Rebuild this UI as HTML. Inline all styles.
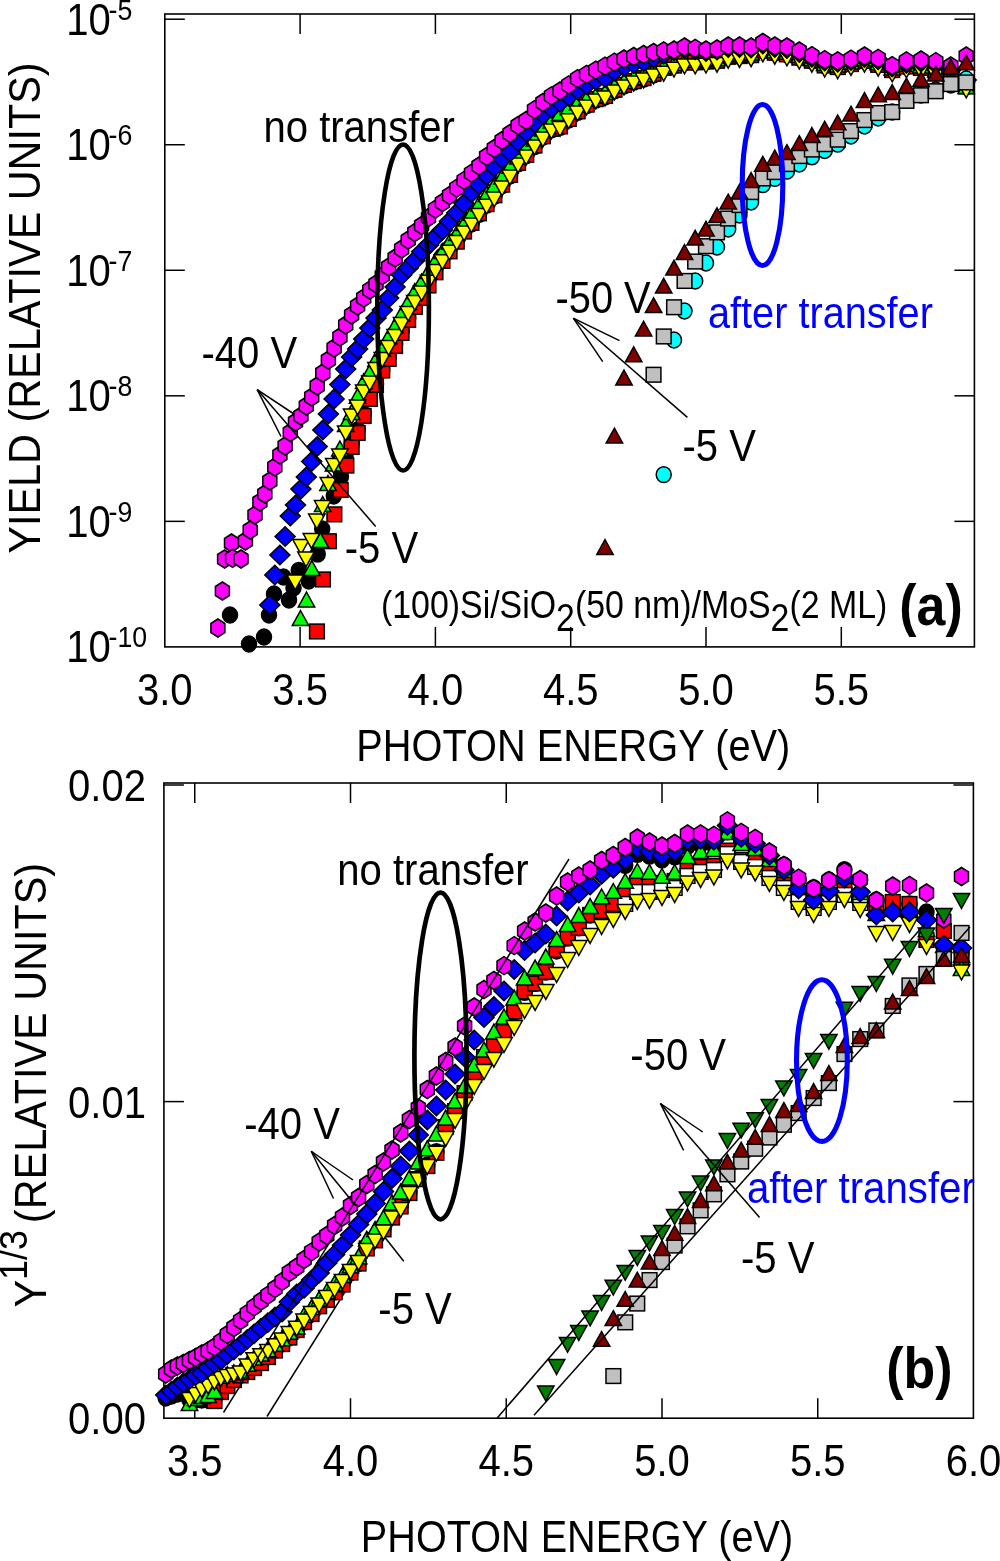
<!DOCTYPE html><html><head><meta charset="utf-8"><style>html,body{margin:0;padding:0;background:#fff;}svg{display:block;will-change:transform;}</style></head><body>
<svg width="1000" height="1561" viewBox="0 0 1000 1561" font-family="'Liberation Sans', sans-serif">
<rect width="1000" height="1561" fill="#fff"/>
<rect x="164.8" y="14.0" width="809.5999999999999" height="632.9" fill="none" stroke="#000" stroke-width="1.6"/>
<line x1="164.80" y1="521.36" x2="184.80" y2="521.36" stroke="#000" stroke-width="1.5"/>
<line x1="954.40" y1="521.36" x2="974.40" y2="521.36" stroke="#000" stroke-width="1.5"/>
<line x1="164.80" y1="395.82" x2="184.80" y2="395.82" stroke="#000" stroke-width="1.5"/>
<line x1="954.40" y1="395.82" x2="974.40" y2="395.82" stroke="#000" stroke-width="1.5"/>
<line x1="164.80" y1="270.28" x2="184.80" y2="270.28" stroke="#000" stroke-width="1.5"/>
<line x1="954.40" y1="270.28" x2="974.40" y2="270.28" stroke="#000" stroke-width="1.5"/>
<line x1="164.80" y1="144.74" x2="184.80" y2="144.74" stroke="#000" stroke-width="1.5"/>
<line x1="954.40" y1="144.74" x2="974.40" y2="144.74" stroke="#000" stroke-width="1.5"/>
<line x1="164.80" y1="19.20" x2="184.80" y2="19.20" stroke="#000" stroke-width="1.5"/>
<line x1="954.40" y1="19.20" x2="974.40" y2="19.20" stroke="#000" stroke-width="1.5"/>
<line x1="300.10" y1="646.90" x2="300.10" y2="626.90" stroke="#000" stroke-width="1.5"/>
<line x1="300.10" y1="14.00" x2="300.10" y2="34.00" stroke="#000" stroke-width="1.5"/>
<line x1="435.40" y1="646.90" x2="435.40" y2="626.90" stroke="#000" stroke-width="1.5"/>
<line x1="435.40" y1="14.00" x2="435.40" y2="34.00" stroke="#000" stroke-width="1.5"/>
<line x1="570.70" y1="646.90" x2="570.70" y2="626.90" stroke="#000" stroke-width="1.5"/>
<line x1="570.70" y1="14.00" x2="570.70" y2="34.00" stroke="#000" stroke-width="1.5"/>
<line x1="706.00" y1="646.90" x2="706.00" y2="626.90" stroke="#000" stroke-width="1.5"/>
<line x1="706.00" y1="14.00" x2="706.00" y2="34.00" stroke="#000" stroke-width="1.5"/>
<line x1="841.30" y1="646.90" x2="841.30" y2="626.90" stroke="#000" stroke-width="1.5"/>
<line x1="841.30" y1="14.00" x2="841.30" y2="34.00" stroke="#000" stroke-width="1.5"/>
<rect x="163.9" y="783.0" width="809.5" height="635.2" fill="none" stroke="#000" stroke-width="1.6"/>
<line x1="163.90" y1="1101.60" x2="183.90" y2="1101.60" stroke="#000" stroke-width="1.5"/>
<line x1="953.40" y1="1101.60" x2="973.40" y2="1101.60" stroke="#000" stroke-width="1.5"/>
<line x1="163.90" y1="785.00" x2="183.90" y2="785.00" stroke="#000" stroke-width="1.5"/>
<line x1="953.40" y1="785.00" x2="973.40" y2="785.00" stroke="#000" stroke-width="1.5"/>
<line x1="194.75" y1="1418.20" x2="194.75" y2="1398.20" stroke="#000" stroke-width="1.5"/>
<line x1="194.75" y1="783.00" x2="194.75" y2="803.00" stroke="#000" stroke-width="1.5"/>
<line x1="350.50" y1="1418.20" x2="350.50" y2="1398.20" stroke="#000" stroke-width="1.5"/>
<line x1="350.50" y1="783.00" x2="350.50" y2="803.00" stroke="#000" stroke-width="1.5"/>
<line x1="506.25" y1="1418.20" x2="506.25" y2="1398.20" stroke="#000" stroke-width="1.5"/>
<line x1="506.25" y1="783.00" x2="506.25" y2="803.00" stroke="#000" stroke-width="1.5"/>
<line x1="662.00" y1="1418.20" x2="662.00" y2="1398.20" stroke="#000" stroke-width="1.5"/>
<line x1="662.00" y1="783.00" x2="662.00" y2="803.00" stroke="#000" stroke-width="1.5"/>
<line x1="817.75" y1="1418.20" x2="817.75" y2="1398.20" stroke="#000" stroke-width="1.5"/>
<line x1="817.75" y1="783.00" x2="817.75" y2="803.00" stroke="#000" stroke-width="1.5"/>
<g id="dataA">
<ellipse cx="230.0" cy="615.0" rx="7.5" ry="7.9" fill="#000000" stroke="#000" stroke-width="1.5"/>
<ellipse cx="249.0" cy="644.0" rx="7.5" ry="7.9" fill="#000000" stroke="#000" stroke-width="1.5"/>
<ellipse cx="264.0" cy="637.0" rx="7.5" ry="7.9" fill="#000000" stroke="#000" stroke-width="1.5"/>
<ellipse cx="269.0" cy="615.0" rx="7.5" ry="7.9" fill="#000000" stroke="#000" stroke-width="1.5"/>
<ellipse cx="274.0" cy="594.0" rx="7.5" ry="7.9" fill="#000000" stroke="#000" stroke-width="1.5"/>
<ellipse cx="283.5" cy="577.0" rx="7.5" ry="7.9" fill="#000000" stroke="#000" stroke-width="1.5"/>
<ellipse cx="289.0" cy="600.0" rx="7.5" ry="7.9" fill="#000000" stroke="#000" stroke-width="1.5"/>
<ellipse cx="293.5" cy="588.0" rx="7.5" ry="7.9" fill="#000000" stroke="#000" stroke-width="1.5"/>
<ellipse cx="298.8" cy="570.3" rx="7.5" ry="7.9" fill="#000000" stroke="#000" stroke-width="1.5"/>
<ellipse cx="308.7" cy="581.0" rx="7.5" ry="7.9" fill="#000000" stroke="#000" stroke-width="1.5"/>
<ellipse cx="317.7" cy="554.2" rx="7.5" ry="7.9" fill="#000000" stroke="#000" stroke-width="1.5"/>
<ellipse cx="322.2" cy="529.0" rx="7.5" ry="7.9" fill="#000000" stroke="#000" stroke-width="1.5"/>
<ellipse cx="333.8" cy="496.0" rx="7.5" ry="7.9" fill="#000000" stroke="#000" stroke-width="1.5"/>
<ellipse cx="341.0" cy="476.6" rx="7.5" ry="7.9" fill="#000000" stroke="#000" stroke-width="1.5"/>
<ellipse cx="345.7" cy="458.0" rx="7.5" ry="7.9" fill="#000000" stroke="#000" stroke-width="1.5"/>
<ellipse cx="351.6" cy="444.0" rx="7.5" ry="7.9" fill="#000000" stroke="#000" stroke-width="1.5"/>
<ellipse cx="357.6" cy="430.0" rx="7.5" ry="7.9" fill="#000000" stroke="#000" stroke-width="1.5"/>
<ellipse cx="363.7" cy="414.0" rx="7.5" ry="7.9" fill="#000000" stroke="#000" stroke-width="1.5"/>
<ellipse cx="369.8" cy="398.0" rx="7.5" ry="7.9" fill="#000000" stroke="#000" stroke-width="1.5"/>
<ellipse cx="376.0" cy="384.0" rx="7.5" ry="7.9" fill="#000000" stroke="#000" stroke-width="1.5"/>
<ellipse cx="382.3" cy="370.0" rx="7.5" ry="7.9" fill="#000000" stroke="#000" stroke-width="1.5"/>
<ellipse cx="388.6" cy="357.0" rx="7.5" ry="7.9" fill="#000000" stroke="#000" stroke-width="1.5"/>
<ellipse cx="395.1" cy="344.0" rx="7.5" ry="7.9" fill="#000000" stroke="#000" stroke-width="1.5"/>
<ellipse cx="401.6" cy="331.0" rx="7.5" ry="7.9" fill="#000000" stroke="#000" stroke-width="1.5"/>
<ellipse cx="408.2" cy="318.0" rx="7.5" ry="7.9" fill="#000000" stroke="#000" stroke-width="1.5"/>
<ellipse cx="414.8" cy="305.0" rx="7.5" ry="7.9" fill="#000000" stroke="#000" stroke-width="1.5"/>
<ellipse cx="421.6" cy="293.0" rx="7.5" ry="7.9" fill="#000000" stroke="#000" stroke-width="1.5"/>
<ellipse cx="428.5" cy="280.0" rx="7.5" ry="7.9" fill="#000000" stroke="#000" stroke-width="1.5"/>
<ellipse cx="435.4" cy="268.0" rx="7.5" ry="7.9" fill="#000000" stroke="#000" stroke-width="1.5"/>
<ellipse cx="442.4" cy="256.0" rx="7.5" ry="7.9" fill="#000000" stroke="#000" stroke-width="1.5"/>
<ellipse cx="449.5" cy="248.0" rx="7.5" ry="7.9" fill="#000000" stroke="#000" stroke-width="1.5"/>
<ellipse cx="456.8" cy="240.0" rx="7.5" ry="7.9" fill="#000000" stroke="#000" stroke-width="1.5"/>
<ellipse cx="464.1" cy="230.0" rx="7.5" ry="7.9" fill="#000000" stroke="#000" stroke-width="1.5"/>
<ellipse cx="471.5" cy="223.9" rx="7.5" ry="7.9" fill="#000000" stroke="#000" stroke-width="1.5"/>
<ellipse cx="479.0" cy="214.3" rx="7.5" ry="7.9" fill="#000000" stroke="#000" stroke-width="1.5"/>
<ellipse cx="486.6" cy="205.1" rx="7.5" ry="7.9" fill="#000000" stroke="#000" stroke-width="1.5"/>
<ellipse cx="494.3" cy="196.2" rx="7.5" ry="7.9" fill="#000000" stroke="#000" stroke-width="1.5"/>
<ellipse cx="502.1" cy="185.6" rx="7.5" ry="7.9" fill="#000000" stroke="#000" stroke-width="1.5"/>
<ellipse cx="510.0" cy="175.9" rx="7.5" ry="7.9" fill="#000000" stroke="#000" stroke-width="1.5"/>
<ellipse cx="518.1" cy="163.9" rx="7.5" ry="7.9" fill="#000000" stroke="#000" stroke-width="1.5"/>
<ellipse cx="526.2" cy="155.7" rx="7.5" ry="7.9" fill="#000000" stroke="#000" stroke-width="1.5"/>
<ellipse cx="534.5" cy="146.6" rx="7.5" ry="7.9" fill="#000000" stroke="#000" stroke-width="1.5"/>
<ellipse cx="542.9" cy="137.2" rx="7.5" ry="7.9" fill="#000000" stroke="#000" stroke-width="1.5"/>
<ellipse cx="551.4" cy="129.9" rx="7.5" ry="7.9" fill="#000000" stroke="#000" stroke-width="1.5"/>
<ellipse cx="560.0" cy="127.4" rx="7.5" ry="7.9" fill="#000000" stroke="#000" stroke-width="1.5"/>
<ellipse cx="568.7" cy="120.0" rx="7.5" ry="7.9" fill="#000000" stroke="#000" stroke-width="1.5"/>
<ellipse cx="577.6" cy="112.3" rx="7.5" ry="7.9" fill="#000000" stroke="#000" stroke-width="1.5"/>
<ellipse cx="586.6" cy="105.6" rx="7.5" ry="7.9" fill="#000000" stroke="#000" stroke-width="1.5"/>
<ellipse cx="595.8" cy="100.1" rx="7.5" ry="7.9" fill="#000000" stroke="#000" stroke-width="1.5"/>
<ellipse cx="605.0" cy="97.0" rx="7.5" ry="7.9" fill="#000000" stroke="#000" stroke-width="1.5"/>
<ellipse cx="614.4" cy="90.8" rx="7.5" ry="7.9" fill="#000000" stroke="#000" stroke-width="1.5"/>
<ellipse cx="624.0" cy="86.0" rx="7.5" ry="7.9" fill="#000000" stroke="#000" stroke-width="1.5"/>
<ellipse cx="633.7" cy="82.1" rx="7.5" ry="7.9" fill="#000000" stroke="#000" stroke-width="1.5"/>
<ellipse cx="643.6" cy="79.1" rx="7.5" ry="7.9" fill="#000000" stroke="#000" stroke-width="1.5"/>
<ellipse cx="653.6" cy="74.8" rx="7.5" ry="7.9" fill="#000000" stroke="#000" stroke-width="1.5"/>
<ellipse cx="663.7" cy="67.8" rx="7.5" ry="7.9" fill="#000000" stroke="#000" stroke-width="1.5"/>
<ellipse cx="674.0" cy="65.6" rx="7.5" ry="7.9" fill="#000000" stroke="#000" stroke-width="1.5"/>
<ellipse cx="684.5" cy="62.4" rx="7.5" ry="7.9" fill="#000000" stroke="#000" stroke-width="1.5"/>
<ellipse cx="695.2" cy="62.4" rx="7.5" ry="7.9" fill="#000000" stroke="#000" stroke-width="1.5"/>
<ellipse cx="706.0" cy="61.6" rx="7.5" ry="7.9" fill="#000000" stroke="#000" stroke-width="1.5"/>
<ellipse cx="717.0" cy="60.8" rx="7.5" ry="7.9" fill="#000000" stroke="#000" stroke-width="1.5"/>
<ellipse cx="728.2" cy="56.8" rx="7.5" ry="7.9" fill="#000000" stroke="#000" stroke-width="1.5"/>
<ellipse cx="739.5" cy="56.0" rx="7.5" ry="7.9" fill="#000000" stroke="#000" stroke-width="1.5"/>
<ellipse cx="751.1" cy="55.2" rx="7.5" ry="7.9" fill="#000000" stroke="#000" stroke-width="1.5"/>
<ellipse cx="762.8" cy="50.5" rx="7.5" ry="7.9" fill="#000000" stroke="#000" stroke-width="1.5"/>
<ellipse cx="774.8" cy="52.8" rx="7.5" ry="7.9" fill="#000000" stroke="#000" stroke-width="1.5"/>
<ellipse cx="786.9" cy="54.4" rx="7.5" ry="7.9" fill="#000000" stroke="#000" stroke-width="1.5"/>
<ellipse cx="799.3" cy="57.7" rx="7.5" ry="7.9" fill="#000000" stroke="#000" stroke-width="1.5"/>
<ellipse cx="811.9" cy="60.8" rx="7.5" ry="7.9" fill="#000000" stroke="#000" stroke-width="1.5"/>
<ellipse cx="824.7" cy="65.5" rx="7.5" ry="7.9" fill="#000000" stroke="#000" stroke-width="1.5"/>
<ellipse cx="837.7" cy="67.0" rx="7.5" ry="7.9" fill="#000000" stroke="#000" stroke-width="1.5"/>
<ellipse cx="851.0" cy="64.0" rx="7.5" ry="7.9" fill="#000000" stroke="#000" stroke-width="1.5"/>
<ellipse cx="864.5" cy="60.9" rx="7.5" ry="7.9" fill="#000000" stroke="#000" stroke-width="1.5"/>
<ellipse cx="878.2" cy="64.9" rx="7.5" ry="7.9" fill="#000000" stroke="#000" stroke-width="1.5"/>
<ellipse cx="892.2" cy="70.1" rx="7.5" ry="7.9" fill="#000000" stroke="#000" stroke-width="1.5"/>
<ellipse cx="906.4" cy="66.4" rx="7.5" ry="7.9" fill="#000000" stroke="#000" stroke-width="1.5"/>
<ellipse cx="921.0" cy="68.0" rx="7.5" ry="7.9" fill="#000000" stroke="#000" stroke-width="1.5"/>
<ellipse cx="935.8" cy="72.2" rx="7.5" ry="7.9" fill="#000000" stroke="#000" stroke-width="1.5"/>
<ellipse cx="950.8" cy="76.5" rx="7.5" ry="7.9" fill="#000000" stroke="#000" stroke-width="1.5"/>
<ellipse cx="966.2" cy="86.4" rx="7.5" ry="7.9" fill="#000000" stroke="#000" stroke-width="1.5"/>
<rect x="309.6" y="624.1" width="14.7" height="14.7" fill="#ff0000" stroke="#000" stroke-width="1.5"/>
<rect x="315.6" y="572.1" width="14.7" height="14.7" fill="#ff0000" stroke="#000" stroke-width="1.5"/>
<rect x="321.5" y="533.9" width="14.7" height="14.7" fill="#ff0000" stroke="#000" stroke-width="1.5"/>
<rect x="327.0" y="507.0" width="14.7" height="14.7" fill="#ff0000" stroke="#000" stroke-width="1.5"/>
<rect x="333.3" y="482.6" width="14.7" height="14.7" fill="#ff0000" stroke="#000" stroke-width="1.5"/>
<rect x="339.0" y="458.2" width="14.7" height="14.7" fill="#ff0000" stroke="#000" stroke-width="1.5"/>
<rect x="344.3" y="439.6" width="14.7" height="14.7" fill="#ff0000" stroke="#000" stroke-width="1.5"/>
<rect x="350.3" y="425.6" width="14.7" height="14.7" fill="#ff0000" stroke="#000" stroke-width="1.5"/>
<rect x="356.3" y="408.6" width="14.7" height="14.7" fill="#ff0000" stroke="#000" stroke-width="1.5"/>
<rect x="362.5" y="391.6" width="14.7" height="14.7" fill="#ff0000" stroke="#000" stroke-width="1.5"/>
<rect x="368.6" y="377.6" width="14.7" height="14.7" fill="#ff0000" stroke="#000" stroke-width="1.5"/>
<rect x="374.9" y="363.1" width="14.7" height="14.7" fill="#ff0000" stroke="#000" stroke-width="1.5"/>
<rect x="381.3" y="351.6" width="14.7" height="14.7" fill="#ff0000" stroke="#000" stroke-width="1.5"/>
<rect x="387.7" y="338.6" width="14.7" height="14.7" fill="#ff0000" stroke="#000" stroke-width="1.5"/>
<rect x="394.2" y="325.6" width="14.7" height="14.7" fill="#ff0000" stroke="#000" stroke-width="1.5"/>
<rect x="400.8" y="312.6" width="14.7" height="14.7" fill="#ff0000" stroke="#000" stroke-width="1.5"/>
<rect x="407.5" y="299.6" width="14.7" height="14.7" fill="#ff0000" stroke="#000" stroke-width="1.5"/>
<rect x="414.3" y="290.6" width="14.7" height="14.7" fill="#ff0000" stroke="#000" stroke-width="1.5"/>
<rect x="421.1" y="278.1" width="14.7" height="14.7" fill="#ff0000" stroke="#000" stroke-width="1.5"/>
<rect x="428.1" y="264.9" width="14.7" height="14.7" fill="#ff0000" stroke="#000" stroke-width="1.5"/>
<rect x="435.1" y="253.5" width="14.7" height="14.7" fill="#ff0000" stroke="#000" stroke-width="1.5"/>
<rect x="442.2" y="244.0" width="14.7" height="14.7" fill="#ff0000" stroke="#000" stroke-width="1.5"/>
<rect x="449.4" y="234.3" width="14.7" height="14.7" fill="#ff0000" stroke="#000" stroke-width="1.5"/>
<rect x="456.7" y="224.2" width="14.7" height="14.7" fill="#ff0000" stroke="#000" stroke-width="1.5"/>
<rect x="464.1" y="215.5" width="14.7" height="14.7" fill="#ff0000" stroke="#000" stroke-width="1.5"/>
<rect x="471.6" y="206.0" width="14.7" height="14.7" fill="#ff0000" stroke="#000" stroke-width="1.5"/>
<rect x="479.2" y="196.8" width="14.7" height="14.7" fill="#ff0000" stroke="#000" stroke-width="1.5"/>
<rect x="487.0" y="187.9" width="14.7" height="14.7" fill="#ff0000" stroke="#000" stroke-width="1.5"/>
<rect x="494.8" y="177.3" width="14.7" height="14.7" fill="#ff0000" stroke="#000" stroke-width="1.5"/>
<rect x="502.7" y="167.6" width="14.7" height="14.7" fill="#ff0000" stroke="#000" stroke-width="1.5"/>
<rect x="510.7" y="155.6" width="14.7" height="14.7" fill="#ff0000" stroke="#000" stroke-width="1.5"/>
<rect x="518.9" y="147.4" width="14.7" height="14.7" fill="#ff0000" stroke="#000" stroke-width="1.5"/>
<rect x="527.1" y="138.2" width="14.7" height="14.7" fill="#ff0000" stroke="#000" stroke-width="1.5"/>
<rect x="535.5" y="128.9" width="14.7" height="14.7" fill="#ff0000" stroke="#000" stroke-width="1.5"/>
<rect x="544.0" y="121.5" width="14.7" height="14.7" fill="#ff0000" stroke="#000" stroke-width="1.5"/>
<rect x="552.6" y="119.1" width="14.7" height="14.7" fill="#ff0000" stroke="#000" stroke-width="1.5"/>
<rect x="561.4" y="111.6" width="14.7" height="14.7" fill="#ff0000" stroke="#000" stroke-width="1.5"/>
<rect x="570.3" y="104.0" width="14.7" height="14.7" fill="#ff0000" stroke="#000" stroke-width="1.5"/>
<rect x="579.3" y="97.3" width="14.7" height="14.7" fill="#ff0000" stroke="#000" stroke-width="1.5"/>
<rect x="588.4" y="91.8" width="14.7" height="14.7" fill="#ff0000" stroke="#000" stroke-width="1.5"/>
<rect x="597.7" y="88.6" width="14.7" height="14.7" fill="#ff0000" stroke="#000" stroke-width="1.5"/>
<rect x="607.1" y="82.4" width="14.7" height="14.7" fill="#ff0000" stroke="#000" stroke-width="1.5"/>
<rect x="616.7" y="77.6" width="14.7" height="14.7" fill="#ff0000" stroke="#000" stroke-width="1.5"/>
<rect x="626.4" y="73.8" width="14.7" height="14.7" fill="#ff0000" stroke="#000" stroke-width="1.5"/>
<rect x="636.2" y="70.8" width="14.7" height="14.7" fill="#ff0000" stroke="#000" stroke-width="1.5"/>
<rect x="646.2" y="66.5" width="14.7" height="14.7" fill="#ff0000" stroke="#000" stroke-width="1.5"/>
<rect x="656.4" y="60.5" width="14.7" height="14.7" fill="#ff0000" stroke="#000" stroke-width="1.5"/>
<rect x="666.7" y="58.2" width="14.7" height="14.7" fill="#ff0000" stroke="#000" stroke-width="1.5"/>
<rect x="677.2" y="55.1" width="14.7" height="14.7" fill="#ff0000" stroke="#000" stroke-width="1.5"/>
<rect x="687.8" y="55.0" width="14.7" height="14.7" fill="#ff0000" stroke="#000" stroke-width="1.5"/>
<rect x="698.6" y="54.2" width="14.7" height="14.7" fill="#ff0000" stroke="#000" stroke-width="1.5"/>
<rect x="709.7" y="53.4" width="14.7" height="14.7" fill="#ff0000" stroke="#000" stroke-width="1.5"/>
<rect x="720.8" y="49.4" width="14.7" height="14.7" fill="#ff0000" stroke="#000" stroke-width="1.5"/>
<rect x="732.2" y="48.7" width="14.7" height="14.7" fill="#ff0000" stroke="#000" stroke-width="1.5"/>
<rect x="743.8" y="47.8" width="14.7" height="14.7" fill="#ff0000" stroke="#000" stroke-width="1.5"/>
<rect x="755.5" y="43.1" width="14.7" height="14.7" fill="#ff0000" stroke="#000" stroke-width="1.5"/>
<rect x="767.4" y="45.4" width="14.7" height="14.7" fill="#ff0000" stroke="#000" stroke-width="1.5"/>
<rect x="779.6" y="47.0" width="14.7" height="14.7" fill="#ff0000" stroke="#000" stroke-width="1.5"/>
<rect x="792.0" y="50.3" width="14.7" height="14.7" fill="#ff0000" stroke="#000" stroke-width="1.5"/>
<rect x="804.5" y="53.4" width="14.7" height="14.7" fill="#ff0000" stroke="#000" stroke-width="1.5"/>
<rect x="817.3" y="58.1" width="14.7" height="14.7" fill="#ff0000" stroke="#000" stroke-width="1.5"/>
<rect x="830.4" y="59.7" width="14.7" height="14.7" fill="#ff0000" stroke="#000" stroke-width="1.5"/>
<rect x="843.6" y="56.7" width="14.7" height="14.7" fill="#ff0000" stroke="#000" stroke-width="1.5"/>
<rect x="857.1" y="53.6" width="14.7" height="14.7" fill="#ff0000" stroke="#000" stroke-width="1.5"/>
<rect x="870.9" y="57.5" width="14.7" height="14.7" fill="#ff0000" stroke="#000" stroke-width="1.5"/>
<rect x="884.8" y="62.7" width="14.7" height="14.7" fill="#ff0000" stroke="#000" stroke-width="1.5"/>
<rect x="899.1" y="59.1" width="14.7" height="14.7" fill="#ff0000" stroke="#000" stroke-width="1.5"/>
<rect x="913.6" y="60.6" width="14.7" height="14.7" fill="#ff0000" stroke="#000" stroke-width="1.5"/>
<rect x="928.4" y="64.9" width="14.7" height="14.7" fill="#ff0000" stroke="#000" stroke-width="1.5"/>
<rect x="943.5" y="69.2" width="14.7" height="14.7" fill="#ff0000" stroke="#000" stroke-width="1.5"/>
<rect x="958.8" y="79.1" width="14.7" height="14.7" fill="#ff0000" stroke="#000" stroke-width="1.5"/>
<polygon points="300.5,610.6 308.7,625.4 292.3,625.4" fill="#00ff00" stroke="#000" stroke-width="1.5" stroke-linejoin="miter"/>
<polygon points="306.5,592.1 314.7,606.9 298.3,606.9" fill="#00ff00" stroke="#000" stroke-width="1.5" stroke-linejoin="miter"/>
<polygon points="311.8,560.6 320.0,575.4 303.6,575.4" fill="#00ff00" stroke="#000" stroke-width="1.5" stroke-linejoin="miter"/>
<polygon points="320.4,532.6 328.6,547.4 312.2,547.4" fill="#00ff00" stroke="#000" stroke-width="1.5" stroke-linejoin="miter"/>
<polygon points="322.7,496.6 330.9,511.4 314.5,511.4" fill="#00ff00" stroke="#000" stroke-width="1.5" stroke-linejoin="miter"/>
<polygon points="328.0,475.6 336.2,490.4 319.8,490.4" fill="#00ff00" stroke="#000" stroke-width="1.5" stroke-linejoin="miter"/>
<polygon points="333.5,456.1 341.7,470.9 325.3,470.9" fill="#00ff00" stroke="#000" stroke-width="1.5" stroke-linejoin="miter"/>
<polygon points="339.9,441.1 348.1,455.9 331.7,455.9" fill="#00ff00" stroke="#000" stroke-width="1.5" stroke-linejoin="miter"/>
<polygon points="345.7,416.6 353.9,431.4 337.5,431.4" fill="#00ff00" stroke="#000" stroke-width="1.5" stroke-linejoin="miter"/>
<polygon points="351.6,404.6 359.8,419.4 343.4,419.4" fill="#00ff00" stroke="#000" stroke-width="1.5" stroke-linejoin="miter"/>
<polygon points="357.6,388.5 365.8,403.3 349.4,403.3" fill="#00ff00" stroke="#000" stroke-width="1.5" stroke-linejoin="miter"/>
<polygon points="363.7,373.7 371.9,388.5 355.5,388.5" fill="#00ff00" stroke="#000" stroke-width="1.5" stroke-linejoin="miter"/>
<polygon points="369.8,364.5 378.0,379.3 361.6,379.3" fill="#00ff00" stroke="#000" stroke-width="1.5" stroke-linejoin="miter"/>
<polygon points="376.0,351.6 384.2,366.4 367.8,366.4" fill="#00ff00" stroke="#000" stroke-width="1.5" stroke-linejoin="miter"/>
<polygon points="382.3,341.1 390.5,355.9 374.1,355.9" fill="#00ff00" stroke="#000" stroke-width="1.5" stroke-linejoin="miter"/>
<polygon points="388.6,329.0 396.8,343.8 380.4,343.8" fill="#00ff00" stroke="#000" stroke-width="1.5" stroke-linejoin="miter"/>
<polygon points="395.1,318.1 403.3,332.9 386.9,332.9" fill="#00ff00" stroke="#000" stroke-width="1.5" stroke-linejoin="miter"/>
<polygon points="401.6,306.2 409.8,321.0 393.4,321.0" fill="#00ff00" stroke="#000" stroke-width="1.5" stroke-linejoin="miter"/>
<polygon points="408.2,294.6 416.4,309.4 400.0,309.4" fill="#00ff00" stroke="#000" stroke-width="1.5" stroke-linejoin="miter"/>
<polygon points="414.8,283.6 423.0,298.4 406.6,298.4" fill="#00ff00" stroke="#000" stroke-width="1.5" stroke-linejoin="miter"/>
<polygon points="421.6,274.1 429.8,288.9 413.4,288.9" fill="#00ff00" stroke="#000" stroke-width="1.5" stroke-linejoin="miter"/>
<polygon points="428.5,263.6 436.7,278.4 420.3,278.4" fill="#00ff00" stroke="#000" stroke-width="1.5" stroke-linejoin="miter"/>
<polygon points="435.4,253.1 443.6,267.9 427.2,267.9" fill="#00ff00" stroke="#000" stroke-width="1.5" stroke-linejoin="miter"/>
<polygon points="442.4,243.6 450.6,258.4 434.2,258.4" fill="#00ff00" stroke="#000" stroke-width="1.5" stroke-linejoin="miter"/>
<polygon points="449.5,234.1 457.7,248.9 441.3,248.9" fill="#00ff00" stroke="#000" stroke-width="1.5" stroke-linejoin="miter"/>
<polygon points="456.8,225.6 465.0,240.4 448.6,240.4" fill="#00ff00" stroke="#000" stroke-width="1.5" stroke-linejoin="miter"/>
<polygon points="464.1,215.6 472.3,230.4 455.9,230.4" fill="#00ff00" stroke="#000" stroke-width="1.5" stroke-linejoin="miter"/>
<polygon points="471.5,205.5 479.7,220.3 463.3,220.3" fill="#00ff00" stroke="#000" stroke-width="1.5" stroke-linejoin="miter"/>
<polygon points="479.0,196.1 487.2,210.9 470.8,210.9" fill="#00ff00" stroke="#000" stroke-width="1.5" stroke-linejoin="miter"/>
<polygon points="486.6,186.6 494.8,201.4 478.4,201.4" fill="#00ff00" stroke="#000" stroke-width="1.5" stroke-linejoin="miter"/>
<polygon points="494.3,177.8 502.5,192.6 486.1,192.6" fill="#00ff00" stroke="#000" stroke-width="1.5" stroke-linejoin="miter"/>
<polygon points="502.1,169.2 510.3,184.0 493.9,184.0" fill="#00ff00" stroke="#000" stroke-width="1.5" stroke-linejoin="miter"/>
<polygon points="510.0,158.5 518.2,173.3 501.8,173.3" fill="#00ff00" stroke="#000" stroke-width="1.5" stroke-linejoin="miter"/>
<polygon points="518.1,149.1 526.3,163.9 509.9,163.9" fill="#00ff00" stroke="#000" stroke-width="1.5" stroke-linejoin="miter"/>
<polygon points="526.2,139.3 534.4,154.1 518.0,154.1" fill="#00ff00" stroke="#000" stroke-width="1.5" stroke-linejoin="miter"/>
<polygon points="534.5,131.1 542.7,145.9 526.3,145.9" fill="#00ff00" stroke="#000" stroke-width="1.5" stroke-linejoin="miter"/>
<polygon points="542.9,121.1 551.1,135.9 534.7,135.9" fill="#00ff00" stroke="#000" stroke-width="1.5" stroke-linejoin="miter"/>
<polygon points="551.4,113.1 559.6,127.9 543.2,127.9" fill="#00ff00" stroke="#000" stroke-width="1.5" stroke-linejoin="miter"/>
<polygon points="560.0,105.7 568.2,120.5 551.8,120.5" fill="#00ff00" stroke="#000" stroke-width="1.5" stroke-linejoin="miter"/>
<polygon points="568.7,99.8 576.9,114.7 560.5,114.7" fill="#00ff00" stroke="#000" stroke-width="1.5" stroke-linejoin="miter"/>
<polygon points="577.6,94.9 585.8,109.7 569.4,109.7" fill="#00ff00" stroke="#000" stroke-width="1.5" stroke-linejoin="miter"/>
<polygon points="586.6,90.7 594.8,105.5 578.4,105.5" fill="#00ff00" stroke="#000" stroke-width="1.5" stroke-linejoin="miter"/>
<polygon points="595.8,87.7 604.0,102.5 587.6,102.5" fill="#00ff00" stroke="#000" stroke-width="1.5" stroke-linejoin="miter"/>
<polygon points="605.0,84.6 613.2,99.4 596.8,99.4" fill="#00ff00" stroke="#000" stroke-width="1.5" stroke-linejoin="miter"/>
<polygon points="614.4,78.4 622.6,93.2 606.2,93.2" fill="#00ff00" stroke="#000" stroke-width="1.5" stroke-linejoin="miter"/>
<polygon points="624.0,73.6 632.2,88.4 615.8,88.4" fill="#00ff00" stroke="#000" stroke-width="1.5" stroke-linejoin="miter"/>
<polygon points="633.7,69.7 641.9,84.5 625.5,84.5" fill="#00ff00" stroke="#000" stroke-width="1.5" stroke-linejoin="miter"/>
<polygon points="643.6,66.7 651.8,81.5 635.4,81.5" fill="#00ff00" stroke="#000" stroke-width="1.5" stroke-linejoin="miter"/>
<polygon points="653.6,62.5 661.8,77.3 645.4,77.3" fill="#00ff00" stroke="#000" stroke-width="1.5" stroke-linejoin="miter"/>
<polygon points="663.7,58.8 671.9,73.6 655.5,73.6" fill="#00ff00" stroke="#000" stroke-width="1.5" stroke-linejoin="miter"/>
<polygon points="674.0,55.7 682.2,70.5 665.8,70.5" fill="#00ff00" stroke="#000" stroke-width="1.5" stroke-linejoin="miter"/>
<polygon points="684.5,52.5 692.7,67.3 676.3,67.3" fill="#00ff00" stroke="#000" stroke-width="1.5" stroke-linejoin="miter"/>
<polygon points="695.2,52.5 703.4,67.3 687.0,67.3" fill="#00ff00" stroke="#000" stroke-width="1.5" stroke-linejoin="miter"/>
<polygon points="706.0,51.7 714.2,66.5 697.8,66.5" fill="#00ff00" stroke="#000" stroke-width="1.5" stroke-linejoin="miter"/>
<polygon points="717.0,50.9 725.2,65.7 708.8,65.7" fill="#00ff00" stroke="#000" stroke-width="1.5" stroke-linejoin="miter"/>
<polygon points="728.2,46.9 736.4,61.7 720.0,61.7" fill="#00ff00" stroke="#000" stroke-width="1.5" stroke-linejoin="miter"/>
<polygon points="739.5,46.1 747.7,60.9 731.3,60.9" fill="#00ff00" stroke="#000" stroke-width="1.5" stroke-linejoin="miter"/>
<polygon points="751.1,45.3 759.3,60.1 742.9,60.1" fill="#00ff00" stroke="#000" stroke-width="1.5" stroke-linejoin="miter"/>
<polygon points="762.8,40.6 771.0,55.4 754.6,55.4" fill="#00ff00" stroke="#000" stroke-width="1.5" stroke-linejoin="miter"/>
<polygon points="774.8,42.9 783.0,57.7 766.6,57.7" fill="#00ff00" stroke="#000" stroke-width="1.5" stroke-linejoin="miter"/>
<polygon points="786.9,44.5 795.1,59.3 778.7,59.3" fill="#00ff00" stroke="#000" stroke-width="1.5" stroke-linejoin="miter"/>
<polygon points="799.3,47.8 807.5,62.6 791.1,62.6" fill="#00ff00" stroke="#000" stroke-width="1.5" stroke-linejoin="miter"/>
<polygon points="811.9,50.9 820.1,65.7 803.7,65.7" fill="#00ff00" stroke="#000" stroke-width="1.5" stroke-linejoin="miter"/>
<polygon points="824.7,55.6 832.9,70.4 816.5,70.4" fill="#00ff00" stroke="#000" stroke-width="1.5" stroke-linejoin="miter"/>
<polygon points="837.7,57.1 845.9,71.9 829.5,71.9" fill="#00ff00" stroke="#000" stroke-width="1.5" stroke-linejoin="miter"/>
<polygon points="851.0,54.1 859.2,68.9 842.8,68.9" fill="#00ff00" stroke="#000" stroke-width="1.5" stroke-linejoin="miter"/>
<polygon points="864.5,51.0 872.7,65.8 856.3,65.8" fill="#00ff00" stroke="#000" stroke-width="1.5" stroke-linejoin="miter"/>
<polygon points="878.2,55.0 886.4,69.8 870.0,69.8" fill="#00ff00" stroke="#000" stroke-width="1.5" stroke-linejoin="miter"/>
<polygon points="892.2,60.2 900.4,75.0 884.0,75.0" fill="#00ff00" stroke="#000" stroke-width="1.5" stroke-linejoin="miter"/>
<polygon points="906.4,56.5 914.6,71.3 898.2,71.3" fill="#00ff00" stroke="#000" stroke-width="1.5" stroke-linejoin="miter"/>
<polygon points="921.0,58.1 929.2,72.9 912.8,72.9" fill="#00ff00" stroke="#000" stroke-width="1.5" stroke-linejoin="miter"/>
<polygon points="935.8,62.3 944.0,77.1 927.6,77.1" fill="#00ff00" stroke="#000" stroke-width="1.5" stroke-linejoin="miter"/>
<polygon points="950.8,66.6 959.0,81.4 942.6,81.4" fill="#00ff00" stroke="#000" stroke-width="1.5" stroke-linejoin="miter"/>
<polygon points="966.2,78.6 974.4,93.4 958.0,93.4" fill="#00ff00" stroke="#000" stroke-width="1.5" stroke-linejoin="miter"/>
<polygon points="295.2,589.9 303.4,575.1 287.0,575.1" fill="#ffff00" stroke="#000" stroke-width="1.5" stroke-linejoin="miter"/>
<polygon points="301.0,554.4 309.2,539.6 292.8,539.6" fill="#ffff00" stroke="#000" stroke-width="1.5" stroke-linejoin="miter"/>
<polygon points="306.0,566.9 314.2,552.1 297.8,552.1" fill="#ffff00" stroke="#000" stroke-width="1.5" stroke-linejoin="miter"/>
<polygon points="311.4,548.4 319.6,533.6 303.2,533.6" fill="#ffff00" stroke="#000" stroke-width="1.5" stroke-linejoin="miter"/>
<polygon points="316.8,528.9 325.0,514.1 308.6,514.1" fill="#ffff00" stroke="#000" stroke-width="1.5" stroke-linejoin="miter"/>
<polygon points="322.6,515.4 330.8,500.6 314.4,500.6" fill="#ffff00" stroke="#000" stroke-width="1.5" stroke-linejoin="miter"/>
<polygon points="328.4,492.4 336.6,477.6 320.2,477.6" fill="#ffff00" stroke="#000" stroke-width="1.5" stroke-linejoin="miter"/>
<polygon points="333.8,473.4 342.0,458.6 325.6,458.6" fill="#ffff00" stroke="#000" stroke-width="1.5" stroke-linejoin="miter"/>
<polygon points="339.9,463.9 348.1,449.1 331.7,449.1" fill="#ffff00" stroke="#000" stroke-width="1.5" stroke-linejoin="miter"/>
<polygon points="345.7,440.9 353.9,426.1 337.5,426.1" fill="#ffff00" stroke="#000" stroke-width="1.5" stroke-linejoin="miter"/>
<polygon points="351.6,423.9 359.8,409.1 343.4,409.1" fill="#ffff00" stroke="#000" stroke-width="1.5" stroke-linejoin="miter"/>
<polygon points="357.6,414.9 365.8,400.1 349.4,400.1" fill="#ffff00" stroke="#000" stroke-width="1.5" stroke-linejoin="miter"/>
<polygon points="363.7,399.9 371.9,385.1 355.5,385.1" fill="#ffff00" stroke="#000" stroke-width="1.5" stroke-linejoin="miter"/>
<polygon points="369.8,390.9 378.0,376.1 361.6,376.1" fill="#ffff00" stroke="#000" stroke-width="1.5" stroke-linejoin="miter"/>
<polygon points="376.0,377.4 384.2,362.6 367.8,362.6" fill="#ffff00" stroke="#000" stroke-width="1.5" stroke-linejoin="miter"/>
<polygon points="382.3,367.4 390.5,352.6 374.1,352.6" fill="#ffff00" stroke="#000" stroke-width="1.5" stroke-linejoin="miter"/>
<polygon points="388.6,355.4 396.8,340.6 380.4,340.6" fill="#ffff00" stroke="#000" stroke-width="1.5" stroke-linejoin="miter"/>
<polygon points="395.1,344.4 403.3,329.6 386.9,329.6" fill="#ffff00" stroke="#000" stroke-width="1.5" stroke-linejoin="miter"/>
<polygon points="401.6,332.4 409.8,317.6 393.4,317.6" fill="#ffff00" stroke="#000" stroke-width="1.5" stroke-linejoin="miter"/>
<polygon points="408.2,321.2 416.4,306.4 400.0,306.4" fill="#ffff00" stroke="#000" stroke-width="1.5" stroke-linejoin="miter"/>
<polygon points="414.8,310.4 423.0,295.6 406.6,295.6" fill="#ffff00" stroke="#000" stroke-width="1.5" stroke-linejoin="miter"/>
<polygon points="421.6,300.8 429.8,286.0 413.4,286.0" fill="#ffff00" stroke="#000" stroke-width="1.5" stroke-linejoin="miter"/>
<polygon points="428.5,290.0 436.7,275.2 420.3,275.2" fill="#ffff00" stroke="#000" stroke-width="1.5" stroke-linejoin="miter"/>
<polygon points="435.4,279.2 443.6,264.4 427.2,264.4" fill="#ffff00" stroke="#000" stroke-width="1.5" stroke-linejoin="miter"/>
<polygon points="442.4,269.6 450.6,254.8 434.2,254.8" fill="#ffff00" stroke="#000" stroke-width="1.5" stroke-linejoin="miter"/>
<polygon points="449.5,260.0 457.7,245.2 441.3,245.2" fill="#ffff00" stroke="#000" stroke-width="1.5" stroke-linejoin="miter"/>
<polygon points="456.8,250.4 465.0,235.6 448.6,235.6" fill="#ffff00" stroke="#000" stroke-width="1.5" stroke-linejoin="miter"/>
<polygon points="464.1,240.8 472.3,226.0 455.9,226.0" fill="#ffff00" stroke="#000" stroke-width="1.5" stroke-linejoin="miter"/>
<polygon points="471.5,232.7 479.7,217.9 463.3,217.9" fill="#ffff00" stroke="#000" stroke-width="1.5" stroke-linejoin="miter"/>
<polygon points="479.0,223.2 487.2,208.4 470.8,208.4" fill="#ffff00" stroke="#000" stroke-width="1.5" stroke-linejoin="miter"/>
<polygon points="486.6,214.0 494.8,199.2 478.4,199.2" fill="#ffff00" stroke="#000" stroke-width="1.5" stroke-linejoin="miter"/>
<polygon points="494.3,206.9 502.5,192.1 486.1,192.1" fill="#ffff00" stroke="#000" stroke-width="1.5" stroke-linejoin="miter"/>
<polygon points="502.1,195.9 510.3,181.1 493.9,181.1" fill="#ffff00" stroke="#000" stroke-width="1.5" stroke-linejoin="miter"/>
<polygon points="510.0,184.9 518.2,170.1 501.8,170.1" fill="#ffff00" stroke="#000" stroke-width="1.5" stroke-linejoin="miter"/>
<polygon points="518.1,172.9 526.3,158.1 509.9,158.1" fill="#ffff00" stroke="#000" stroke-width="1.5" stroke-linejoin="miter"/>
<polygon points="526.2,164.9 534.4,150.1 518.0,150.1" fill="#ffff00" stroke="#000" stroke-width="1.5" stroke-linejoin="miter"/>
<polygon points="534.5,154.9 542.7,140.1 526.3,140.1" fill="#ffff00" stroke="#000" stroke-width="1.5" stroke-linejoin="miter"/>
<polygon points="542.9,146.9 551.1,132.1 534.7,132.1" fill="#ffff00" stroke="#000" stroke-width="1.5" stroke-linejoin="miter"/>
<polygon points="551.4,138.9 559.6,124.1 543.2,124.1" fill="#ffff00" stroke="#000" stroke-width="1.5" stroke-linejoin="miter"/>
<polygon points="560.0,136.3 568.2,121.5 551.8,121.5" fill="#ffff00" stroke="#000" stroke-width="1.5" stroke-linejoin="miter"/>
<polygon points="568.7,128.7 576.9,113.8 560.5,113.8" fill="#ffff00" stroke="#000" stroke-width="1.5" stroke-linejoin="miter"/>
<polygon points="577.6,120.9 585.8,106.1 569.4,106.1" fill="#ffff00" stroke="#000" stroke-width="1.5" stroke-linejoin="miter"/>
<polygon points="586.6,114.9 594.8,100.1 578.4,100.1" fill="#ffff00" stroke="#000" stroke-width="1.5" stroke-linejoin="miter"/>
<polygon points="595.8,108.9 604.0,94.1 587.6,94.1" fill="#ffff00" stroke="#000" stroke-width="1.5" stroke-linejoin="miter"/>
<polygon points="605.0,105.9 613.2,91.1 596.8,91.1" fill="#ffff00" stroke="#000" stroke-width="1.5" stroke-linejoin="miter"/>
<polygon points="614.4,99.9 622.6,85.1 606.2,85.1" fill="#ffff00" stroke="#000" stroke-width="1.5" stroke-linejoin="miter"/>
<polygon points="624.0,94.9 632.2,80.1 615.8,80.1" fill="#ffff00" stroke="#000" stroke-width="1.5" stroke-linejoin="miter"/>
<polygon points="633.7,90.9 641.9,76.1 625.5,76.1" fill="#ffff00" stroke="#000" stroke-width="1.5" stroke-linejoin="miter"/>
<polygon points="643.6,87.9 651.8,73.1 635.4,73.1" fill="#ffff00" stroke="#000" stroke-width="1.5" stroke-linejoin="miter"/>
<polygon points="653.6,83.9 661.8,69.1 645.4,69.1" fill="#ffff00" stroke="#000" stroke-width="1.5" stroke-linejoin="miter"/>
<polygon points="663.7,81.2 671.9,66.3 655.5,66.3" fill="#ffff00" stroke="#000" stroke-width="1.5" stroke-linejoin="miter"/>
<polygon points="674.0,77.0 682.2,62.2 665.8,62.2" fill="#ffff00" stroke="#000" stroke-width="1.5" stroke-linejoin="miter"/>
<polygon points="684.5,73.8 692.7,59.0 676.3,59.0" fill="#ffff00" stroke="#000" stroke-width="1.5" stroke-linejoin="miter"/>
<polygon points="695.2,73.8 703.4,59.0 687.0,59.0" fill="#ffff00" stroke="#000" stroke-width="1.5" stroke-linejoin="miter"/>
<polygon points="706.0,73.0 714.2,58.2 697.8,58.2" fill="#ffff00" stroke="#000" stroke-width="1.5" stroke-linejoin="miter"/>
<polygon points="717.0,72.2 725.2,57.4 708.8,57.4" fill="#ffff00" stroke="#000" stroke-width="1.5" stroke-linejoin="miter"/>
<polygon points="728.2,68.2 736.4,53.4 720.0,53.4" fill="#ffff00" stroke="#000" stroke-width="1.5" stroke-linejoin="miter"/>
<polygon points="739.5,67.4 747.7,52.6 731.3,52.6" fill="#ffff00" stroke="#000" stroke-width="1.5" stroke-linejoin="miter"/>
<polygon points="751.1,66.6 759.3,51.8 742.9,51.8" fill="#ffff00" stroke="#000" stroke-width="1.5" stroke-linejoin="miter"/>
<polygon points="762.8,61.8 771.0,47.0 754.6,47.0" fill="#ffff00" stroke="#000" stroke-width="1.5" stroke-linejoin="miter"/>
<polygon points="774.8,64.2 783.0,49.4 766.6,49.4" fill="#ffff00" stroke="#000" stroke-width="1.5" stroke-linejoin="miter"/>
<polygon points="786.9,65.8 795.1,51.0 778.7,51.0" fill="#ffff00" stroke="#000" stroke-width="1.5" stroke-linejoin="miter"/>
<polygon points="799.3,69.0 807.5,54.2 791.1,54.2" fill="#ffff00" stroke="#000" stroke-width="1.5" stroke-linejoin="miter"/>
<polygon points="811.9,72.2 820.1,57.4 803.7,57.4" fill="#ffff00" stroke="#000" stroke-width="1.5" stroke-linejoin="miter"/>
<polygon points="824.7,77.0 832.9,62.2 816.5,62.2" fill="#ffff00" stroke="#000" stroke-width="1.5" stroke-linejoin="miter"/>
<polygon points="837.7,78.6 845.9,63.8 829.5,63.8" fill="#ffff00" stroke="#000" stroke-width="1.5" stroke-linejoin="miter"/>
<polygon points="851.0,75.4 859.2,60.6 842.8,60.6" fill="#ffff00" stroke="#000" stroke-width="1.5" stroke-linejoin="miter"/>
<polygon points="864.5,72.2 872.7,57.4 856.3,57.4" fill="#ffff00" stroke="#000" stroke-width="1.5" stroke-linejoin="miter"/>
<polygon points="878.2,76.2 886.4,61.4 870.0,61.4" fill="#ffff00" stroke="#000" stroke-width="1.5" stroke-linejoin="miter"/>
<polygon points="892.2,81.8 900.4,67.0 884.0,67.0" fill="#ffff00" stroke="#000" stroke-width="1.5" stroke-linejoin="miter"/>
<polygon points="906.4,77.8 914.6,63.0 898.2,63.0" fill="#ffff00" stroke="#000" stroke-width="1.5" stroke-linejoin="miter"/>
<polygon points="921.0,79.4 929.2,64.6 912.8,64.6" fill="#ffff00" stroke="#000" stroke-width="1.5" stroke-linejoin="miter"/>
<polygon points="935.8,83.4 944.0,68.6 927.6,68.6" fill="#ffff00" stroke="#000" stroke-width="1.5" stroke-linejoin="miter"/>
<polygon points="950.8,87.4 959.0,72.6 942.6,72.6" fill="#ffff00" stroke="#000" stroke-width="1.5" stroke-linejoin="miter"/>
<polygon points="966.2,97.8 974.4,83.0 958.0,83.0" fill="#ffff00" stroke="#000" stroke-width="1.5" stroke-linejoin="miter"/>
<polygon points="269.8,595.4 279.8,605.0 269.8,614.6 259.8,605.0" fill="#0000ff" stroke="#000" stroke-width="1.5" stroke-linejoin="miter"/>
<polygon points="274.8,565.4 284.8,575.0 274.8,584.6 264.8,575.0" fill="#0000ff" stroke="#000" stroke-width="1.5" stroke-linejoin="miter"/>
<polygon points="279.9,545.4 289.9,555.0 279.9,564.6 269.9,555.0" fill="#0000ff" stroke="#000" stroke-width="1.5" stroke-linejoin="miter"/>
<polygon points="285.1,526.9 295.1,536.5 285.1,546.1 275.1,536.5" fill="#0000ff" stroke="#000" stroke-width="1.5" stroke-linejoin="miter"/>
<polygon points="290.3,506.4 300.3,516.0 290.3,525.6 280.3,516.0" fill="#0000ff" stroke="#000" stroke-width="1.5" stroke-linejoin="miter"/>
<polygon points="295.5,495.4 305.5,505.0 295.5,514.6 285.5,505.0" fill="#0000ff" stroke="#000" stroke-width="1.5" stroke-linejoin="miter"/>
<polygon points="300.9,479.4 310.9,489.0 300.9,498.6 290.9,489.0" fill="#0000ff" stroke="#000" stroke-width="1.5" stroke-linejoin="miter"/>
<polygon points="306.3,467.4 316.3,477.0 306.3,486.6 296.3,477.0" fill="#0000ff" stroke="#000" stroke-width="1.5" stroke-linejoin="miter"/>
<polygon points="311.7,451.9 321.7,461.5 311.7,471.1 301.7,461.5" fill="#0000ff" stroke="#000" stroke-width="1.5" stroke-linejoin="miter"/>
<polygon points="317.2,436.9 327.2,446.5 317.2,456.1 307.2,446.5" fill="#0000ff" stroke="#000" stroke-width="1.5" stroke-linejoin="miter"/>
<polygon points="322.8,420.4 332.8,430.0 322.8,439.6 312.8,430.0" fill="#0000ff" stroke="#000" stroke-width="1.5" stroke-linejoin="miter"/>
<polygon points="328.4,404.4 338.4,414.0 328.4,423.6 318.4,414.0" fill="#0000ff" stroke="#000" stroke-width="1.5" stroke-linejoin="miter"/>
<polygon points="334.1,389.4 344.1,399.0 334.1,408.6 324.1,399.0" fill="#0000ff" stroke="#000" stroke-width="1.5" stroke-linejoin="miter"/>
<polygon points="339.9,374.9 349.9,384.5 339.9,394.1 329.9,384.5" fill="#0000ff" stroke="#000" stroke-width="1.5" stroke-linejoin="miter"/>
<polygon points="345.7,359.4 355.7,369.0 345.7,378.6 335.7,369.0" fill="#0000ff" stroke="#000" stroke-width="1.5" stroke-linejoin="miter"/>
<polygon points="351.6,347.4 361.6,357.0 351.6,366.6 341.6,357.0" fill="#0000ff" stroke="#000" stroke-width="1.5" stroke-linejoin="miter"/>
<polygon points="357.6,339.4 367.6,349.0 357.6,358.6 347.6,349.0" fill="#0000ff" stroke="#000" stroke-width="1.5" stroke-linejoin="miter"/>
<polygon points="363.7,329.4 373.7,339.0 363.7,348.6 353.7,339.0" fill="#0000ff" stroke="#000" stroke-width="1.5" stroke-linejoin="miter"/>
<polygon points="369.8,318.4 379.8,328.0 369.8,337.6 359.8,328.0" fill="#0000ff" stroke="#000" stroke-width="1.5" stroke-linejoin="miter"/>
<polygon points="376.0,308.4 386.0,318.0 376.0,327.6 366.0,318.0" fill="#0000ff" stroke="#000" stroke-width="1.5" stroke-linejoin="miter"/>
<polygon points="382.3,300.4 392.3,310.0 382.3,319.6 372.3,310.0" fill="#0000ff" stroke="#000" stroke-width="1.5" stroke-linejoin="miter"/>
<polygon points="388.6,288.4 398.6,298.0 388.6,307.6 378.6,298.0" fill="#0000ff" stroke="#000" stroke-width="1.5" stroke-linejoin="miter"/>
<polygon points="395.1,277.4 405.1,287.0 395.1,296.6 385.1,287.0" fill="#0000ff" stroke="#000" stroke-width="1.5" stroke-linejoin="miter"/>
<polygon points="401.6,265.4 411.6,275.0 401.6,284.6 391.6,275.0" fill="#0000ff" stroke="#000" stroke-width="1.5" stroke-linejoin="miter"/>
<polygon points="408.2,258.3 418.2,267.9 408.2,277.5 398.2,267.9" fill="#0000ff" stroke="#000" stroke-width="1.5" stroke-linejoin="miter"/>
<polygon points="414.8,250.9 424.8,260.5 414.8,270.1 404.8,260.5" fill="#0000ff" stroke="#000" stroke-width="1.5" stroke-linejoin="miter"/>
<polygon points="421.6,242.2 431.6,251.8 421.6,261.4 411.6,251.8" fill="#0000ff" stroke="#000" stroke-width="1.5" stroke-linejoin="miter"/>
<polygon points="428.5,235.4 438.5,245.0 428.5,254.6 418.5,245.0" fill="#0000ff" stroke="#000" stroke-width="1.5" stroke-linejoin="miter"/>
<polygon points="435.4,227.4 445.4,237.0 435.4,246.6 425.4,237.0" fill="#0000ff" stroke="#000" stroke-width="1.5" stroke-linejoin="miter"/>
<polygon points="442.4,220.4 452.4,230.0 442.4,239.6 432.4,230.0" fill="#0000ff" stroke="#000" stroke-width="1.5" stroke-linejoin="miter"/>
<polygon points="449.5,211.6 459.5,221.2 449.5,230.8 439.5,221.2" fill="#0000ff" stroke="#000" stroke-width="1.5" stroke-linejoin="miter"/>
<polygon points="456.8,203.2 466.8,212.8 456.8,222.4 446.8,212.8" fill="#0000ff" stroke="#000" stroke-width="1.5" stroke-linejoin="miter"/>
<polygon points="464.1,194.0 474.1,203.6 464.1,213.2 454.1,203.6" fill="#0000ff" stroke="#000" stroke-width="1.5" stroke-linejoin="miter"/>
<polygon points="471.5,183.2 481.5,192.8 471.5,202.4 461.5,192.8" fill="#0000ff" stroke="#000" stroke-width="1.5" stroke-linejoin="miter"/>
<polygon points="479.0,175.2 489.0,184.8 479.0,194.4 469.0,184.8" fill="#0000ff" stroke="#000" stroke-width="1.5" stroke-linejoin="miter"/>
<polygon points="486.6,165.9 496.6,175.5 486.6,185.1 476.6,175.5" fill="#0000ff" stroke="#000" stroke-width="1.5" stroke-linejoin="miter"/>
<polygon points="494.3,157.4 504.3,167.0 494.3,176.6 484.3,167.0" fill="#0000ff" stroke="#000" stroke-width="1.5" stroke-linejoin="miter"/>
<polygon points="502.1,149.4 512.1,159.0 502.1,168.6 492.1,159.0" fill="#0000ff" stroke="#000" stroke-width="1.5" stroke-linejoin="miter"/>
<polygon points="510.0,142.4 520.0,152.0 510.0,161.6 500.0,152.0" fill="#0000ff" stroke="#000" stroke-width="1.5" stroke-linejoin="miter"/>
<polygon points="518.1,132.0 528.1,141.6 518.1,151.2 508.1,141.6" fill="#0000ff" stroke="#000" stroke-width="1.5" stroke-linejoin="miter"/>
<polygon points="526.2,122.6 536.2,132.2 526.2,141.8 516.2,132.2" fill="#0000ff" stroke="#000" stroke-width="1.5" stroke-linejoin="miter"/>
<polygon points="534.5,113.1 544.5,122.7 534.5,132.3 524.5,122.7" fill="#0000ff" stroke="#000" stroke-width="1.5" stroke-linejoin="miter"/>
<polygon points="542.9,104.8 552.9,114.4 542.9,124.0 532.9,114.4" fill="#0000ff" stroke="#000" stroke-width="1.5" stroke-linejoin="miter"/>
<polygon points="551.4,98.8 561.4,108.4 551.4,118.0 541.4,108.4" fill="#0000ff" stroke="#000" stroke-width="1.5" stroke-linejoin="miter"/>
<polygon points="560.0,92.8 570.0,102.4 560.0,112.0 550.0,102.4" fill="#0000ff" stroke="#000" stroke-width="1.5" stroke-linejoin="miter"/>
<polygon points="568.7,86.7 578.7,96.3 568.7,105.9 558.7,96.3" fill="#0000ff" stroke="#000" stroke-width="1.5" stroke-linejoin="miter"/>
<polygon points="577.6,80.5 587.6,90.1 577.6,99.7 567.6,90.1" fill="#0000ff" stroke="#000" stroke-width="1.5" stroke-linejoin="miter"/>
<polygon points="586.6,75.3 596.6,84.9 586.6,94.5 576.6,84.9" fill="#0000ff" stroke="#000" stroke-width="1.5" stroke-linejoin="miter"/>
<polygon points="595.8,70.8 605.8,80.4 595.8,90.0 585.8,80.4" fill="#0000ff" stroke="#000" stroke-width="1.5" stroke-linejoin="miter"/>
<polygon points="605.0,68.1 615.0,77.7 605.0,87.3 595.0,77.7" fill="#0000ff" stroke="#000" stroke-width="1.5" stroke-linejoin="miter"/>
<polygon points="614.4,61.8 624.4,71.4 614.4,81.0 604.4,71.4" fill="#0000ff" stroke="#000" stroke-width="1.5" stroke-linejoin="miter"/>
<polygon points="624.0,57.0 634.0,66.6 624.0,76.2 614.0,66.6" fill="#0000ff" stroke="#000" stroke-width="1.5" stroke-linejoin="miter"/>
<polygon points="633.7,54.0 643.7,63.6 633.7,73.2 623.7,63.6" fill="#0000ff" stroke="#000" stroke-width="1.5" stroke-linejoin="miter"/>
<polygon points="643.6,52.2 653.6,61.8 643.6,71.4 633.6,61.8" fill="#0000ff" stroke="#000" stroke-width="1.5" stroke-linejoin="miter"/>
<polygon points="653.6,48.5 663.6,58.1 653.6,67.7 643.6,58.1" fill="#0000ff" stroke="#000" stroke-width="1.5" stroke-linejoin="miter"/>
<polygon points="663.7,44.8 673.7,54.4 663.7,64.0 653.7,54.4" fill="#0000ff" stroke="#000" stroke-width="1.5" stroke-linejoin="miter"/>
<polygon points="674.0,41.6 684.0,51.2 674.0,60.8 664.0,51.2" fill="#0000ff" stroke="#000" stroke-width="1.5" stroke-linejoin="miter"/>
<polygon points="684.5,39.0 694.5,48.6 684.5,58.2 674.5,48.6" fill="#0000ff" stroke="#000" stroke-width="1.5" stroke-linejoin="miter"/>
<polygon points="695.2,40.3 705.2,49.9 695.2,59.5 685.2,49.9" fill="#0000ff" stroke="#000" stroke-width="1.5" stroke-linejoin="miter"/>
<polygon points="706.0,41.9 716.0,51.5 706.0,61.1 696.0,51.5" fill="#0000ff" stroke="#000" stroke-width="1.5" stroke-linejoin="miter"/>
<polygon points="717.0,40.6 727.0,50.2 717.0,59.8 707.0,50.2" fill="#0000ff" stroke="#000" stroke-width="1.5" stroke-linejoin="miter"/>
<polygon points="728.2,37.9 738.2,47.5 728.2,57.1 718.2,47.5" fill="#0000ff" stroke="#000" stroke-width="1.5" stroke-linejoin="miter"/>
<polygon points="739.5,37.9 749.5,47.5 739.5,57.1 729.5,47.5" fill="#0000ff" stroke="#000" stroke-width="1.5" stroke-linejoin="miter"/>
<polygon points="751.1,38.5 761.1,48.1 751.1,57.7 741.1,48.1" fill="#0000ff" stroke="#000" stroke-width="1.5" stroke-linejoin="miter"/>
<polygon points="762.8,34.5 772.8,44.1 762.8,53.7 752.8,44.1" fill="#0000ff" stroke="#000" stroke-width="1.5" stroke-linejoin="miter"/>
<polygon points="774.8,38.0 784.8,47.6 774.8,57.2 764.8,47.6" fill="#0000ff" stroke="#000" stroke-width="1.5" stroke-linejoin="miter"/>
<polygon points="786.9,38.9 796.9,48.5 786.9,58.1 776.9,48.5" fill="#0000ff" stroke="#000" stroke-width="1.5" stroke-linejoin="miter"/>
<polygon points="799.3,43.0 809.3,52.6 799.3,62.2 789.3,52.6" fill="#0000ff" stroke="#000" stroke-width="1.5" stroke-linejoin="miter"/>
<polygon points="811.9,47.8 821.9,57.4 811.9,67.0 801.9,57.4" fill="#0000ff" stroke="#000" stroke-width="1.5" stroke-linejoin="miter"/>
<polygon points="824.7,51.6 834.7,61.2 824.7,70.8 814.7,61.2" fill="#0000ff" stroke="#000" stroke-width="1.5" stroke-linejoin="miter"/>
<polygon points="837.7,52.7 847.7,62.3 837.7,71.9 827.7,62.3" fill="#0000ff" stroke="#000" stroke-width="1.5" stroke-linejoin="miter"/>
<polygon points="851.0,51.1 861.0,60.7 851.0,70.3 841.0,60.7" fill="#0000ff" stroke="#000" stroke-width="1.5" stroke-linejoin="miter"/>
<polygon points="864.5,47.9 874.5,57.5 864.5,67.1 854.5,57.5" fill="#0000ff" stroke="#000" stroke-width="1.5" stroke-linejoin="miter"/>
<polygon points="878.2,50.3 888.2,59.9 878.2,69.5 868.2,59.9" fill="#0000ff" stroke="#000" stroke-width="1.5" stroke-linejoin="miter"/>
<polygon points="892.2,57.4 902.2,67.0 892.2,76.6 882.2,67.0" fill="#0000ff" stroke="#000" stroke-width="1.5" stroke-linejoin="miter"/>
<polygon points="906.4,53.8 916.4,63.4 906.4,73.0 896.4,63.4" fill="#0000ff" stroke="#000" stroke-width="1.5" stroke-linejoin="miter"/>
<polygon points="921.0,52.4 931.0,62.0 921.0,71.6 911.0,62.0" fill="#0000ff" stroke="#000" stroke-width="1.5" stroke-linejoin="miter"/>
<polygon points="935.8,54.4 945.8,64.0 935.8,73.6 925.8,64.0" fill="#0000ff" stroke="#000" stroke-width="1.5" stroke-linejoin="miter"/>
<polygon points="950.8,60.4 960.8,70.0 950.8,79.6 940.8,70.0" fill="#0000ff" stroke="#000" stroke-width="1.5" stroke-linejoin="miter"/>
<polygon points="966.2,70.4 976.2,80.0 966.2,89.6 956.2,80.0" fill="#0000ff" stroke="#000" stroke-width="1.5" stroke-linejoin="miter"/>
<polygon points="217.9,619.0 224.9,623.5 224.9,632.5 217.9,637.0 210.9,632.5 210.9,623.5" fill="#ff00ff" stroke="#000" stroke-width="1.5" stroke-linejoin="miter"/>
<polygon points="222.4,582.0 229.4,586.5 229.4,595.5 222.4,600.0 215.4,595.5 215.4,586.5" fill="#ff00ff" stroke="#000" stroke-width="1.5" stroke-linejoin="miter"/>
<polygon points="224.6,550.0 231.6,554.5 231.6,563.5 224.6,568.0 217.6,563.5 217.6,554.5" fill="#ff00ff" stroke="#000" stroke-width="1.5" stroke-linejoin="miter"/>
<polygon points="231.5,534.0 238.5,538.5 238.5,547.5 231.5,552.0 224.5,547.5 224.5,538.5" fill="#ff00ff" stroke="#000" stroke-width="1.5" stroke-linejoin="miter"/>
<polygon points="232.6,549.4 239.6,553.9 239.6,562.9 232.6,567.4 225.6,562.9 225.6,553.9" fill="#ff00ff" stroke="#000" stroke-width="1.5" stroke-linejoin="miter"/>
<polygon points="241.0,550.0 248.0,554.5 248.0,563.5 241.0,568.0 234.0,563.5 234.0,554.5" fill="#ff00ff" stroke="#000" stroke-width="1.5" stroke-linejoin="miter"/>
<polygon points="245.4,532.0 252.4,536.5 252.4,545.5 245.4,550.0 238.4,545.5 238.4,536.5" fill="#ff00ff" stroke="#000" stroke-width="1.5" stroke-linejoin="miter"/>
<polygon points="250.2,521.0 257.2,525.5 257.2,534.5 250.2,539.0 243.2,534.5 243.2,525.5" fill="#ff00ff" stroke="#000" stroke-width="1.5" stroke-linejoin="miter"/>
<polygon points="255.0,506.0 262.0,510.5 262.0,519.5 255.0,524.0 248.0,519.5 248.0,510.5" fill="#ff00ff" stroke="#000" stroke-width="1.5" stroke-linejoin="miter"/>
<polygon points="259.9,493.0 266.9,497.5 266.9,506.5 259.9,511.0 252.9,506.5 252.9,497.5" fill="#ff00ff" stroke="#000" stroke-width="1.5" stroke-linejoin="miter"/>
<polygon points="264.8,485.0 271.8,489.5 271.8,498.5 264.8,503.0 257.8,498.5 257.8,489.5" fill="#ff00ff" stroke="#000" stroke-width="1.5" stroke-linejoin="miter"/>
<polygon points="269.8,472.0 276.8,476.5 276.8,485.5 269.8,490.0 262.8,485.5 262.8,476.5" fill="#ff00ff" stroke="#000" stroke-width="1.5" stroke-linejoin="miter"/>
<polygon points="274.8,458.0 281.8,462.5 281.8,471.5 274.8,476.0 267.8,471.5 267.8,462.5" fill="#ff00ff" stroke="#000" stroke-width="1.5" stroke-linejoin="miter"/>
<polygon points="279.9,446.0 286.9,450.5 286.9,459.5 279.9,464.0 272.9,459.5 272.9,450.5" fill="#ff00ff" stroke="#000" stroke-width="1.5" stroke-linejoin="miter"/>
<polygon points="285.1,437.0 292.1,441.5 292.1,450.5 285.1,455.0 278.1,450.5 278.1,441.5" fill="#ff00ff" stroke="#000" stroke-width="1.5" stroke-linejoin="miter"/>
<polygon points="290.3,423.5 297.3,428.0 297.3,437.0 290.3,441.5 283.3,437.0 283.3,428.0" fill="#ff00ff" stroke="#000" stroke-width="1.5" stroke-linejoin="miter"/>
<polygon points="295.5,413.0 302.5,417.5 302.5,426.5 295.5,431.0 288.5,426.5 288.5,417.5" fill="#ff00ff" stroke="#000" stroke-width="1.5" stroke-linejoin="miter"/>
<polygon points="300.9,407.0 307.9,411.5 307.9,420.5 300.9,425.0 293.9,420.5 293.9,411.5" fill="#ff00ff" stroke="#000" stroke-width="1.5" stroke-linejoin="miter"/>
<polygon points="306.3,397.0 313.3,401.5 313.3,410.5 306.3,415.0 299.3,410.5 299.3,401.5" fill="#ff00ff" stroke="#000" stroke-width="1.5" stroke-linejoin="miter"/>
<polygon points="311.7,388.0 318.7,392.5 318.7,401.5 311.7,406.0 304.7,401.5 304.7,392.5" fill="#ff00ff" stroke="#000" stroke-width="1.5" stroke-linejoin="miter"/>
<polygon points="317.2,377.0 324.2,381.5 324.2,390.5 317.2,395.0 310.2,390.5 310.2,381.5" fill="#ff00ff" stroke="#000" stroke-width="1.5" stroke-linejoin="miter"/>
<polygon points="322.8,364.0 329.8,368.5 329.8,377.5 322.8,382.0 315.8,377.5 315.8,368.5" fill="#ff00ff" stroke="#000" stroke-width="1.5" stroke-linejoin="miter"/>
<polygon points="328.4,351.0 335.4,355.5 335.4,364.5 328.4,369.0 321.4,364.5 321.4,355.5" fill="#ff00ff" stroke="#000" stroke-width="1.5" stroke-linejoin="miter"/>
<polygon points="334.1,339.0 341.1,343.5 341.1,352.5 334.1,357.0 327.1,352.5 327.1,343.5" fill="#ff00ff" stroke="#000" stroke-width="1.5" stroke-linejoin="miter"/>
<polygon points="339.9,328.0 346.9,332.5 346.9,341.5 339.9,346.0 332.9,341.5 332.9,332.5" fill="#ff00ff" stroke="#000" stroke-width="1.5" stroke-linejoin="miter"/>
<polygon points="345.7,316.0 352.7,320.5 352.7,329.5 345.7,334.0 338.7,329.5 338.7,320.5" fill="#ff00ff" stroke="#000" stroke-width="1.5" stroke-linejoin="miter"/>
<polygon points="351.6,306.0 358.6,310.5 358.6,319.5 351.6,324.0 344.6,319.5 344.6,310.5" fill="#ff00ff" stroke="#000" stroke-width="1.5" stroke-linejoin="miter"/>
<polygon points="357.6,297.0 364.6,301.5 364.6,310.5 357.6,315.0 350.6,310.5 350.6,301.5" fill="#ff00ff" stroke="#000" stroke-width="1.5" stroke-linejoin="miter"/>
<polygon points="363.7,289.0 370.7,293.5 370.7,302.5 363.7,307.0 356.7,302.5 356.7,293.5" fill="#ff00ff" stroke="#000" stroke-width="1.5" stroke-linejoin="miter"/>
<polygon points="369.8,281.0 376.8,285.5 376.8,294.5 369.8,299.0 362.8,294.5 362.8,285.5" fill="#ff00ff" stroke="#000" stroke-width="1.5" stroke-linejoin="miter"/>
<polygon points="376.0,275.0 383.0,279.5 383.0,288.5 376.0,293.0 369.0,288.5 369.0,279.5" fill="#ff00ff" stroke="#000" stroke-width="1.5" stroke-linejoin="miter"/>
<polygon points="382.3,266.6 389.3,271.1 389.3,280.1 382.3,284.6 375.3,280.1 375.3,271.1" fill="#ff00ff" stroke="#000" stroke-width="1.5" stroke-linejoin="miter"/>
<polygon points="388.6,258.0 395.6,262.5 395.6,271.5 388.6,276.0 381.6,271.5 381.6,262.5" fill="#ff00ff" stroke="#000" stroke-width="1.5" stroke-linejoin="miter"/>
<polygon points="395.1,249.0 402.1,253.5 402.1,262.5 395.1,267.0 388.1,262.5 388.1,253.5" fill="#ff00ff" stroke="#000" stroke-width="1.5" stroke-linejoin="miter"/>
<polygon points="401.6,240.0 408.6,244.5 408.6,253.5 401.6,258.0 394.6,253.5 394.6,244.5" fill="#ff00ff" stroke="#000" stroke-width="1.5" stroke-linejoin="miter"/>
<polygon points="408.2,231.0 415.2,235.5 415.2,244.5 408.2,249.0 401.2,244.5 401.2,235.5" fill="#ff00ff" stroke="#000" stroke-width="1.5" stroke-linejoin="miter"/>
<polygon points="414.8,223.5 421.8,228.0 421.8,237.0 414.8,241.5 407.8,237.0 407.8,228.0" fill="#ff00ff" stroke="#000" stroke-width="1.5" stroke-linejoin="miter"/>
<polygon points="421.6,216.5 428.6,221.0 428.6,230.0 421.6,234.5 414.6,230.0 414.6,221.0" fill="#ff00ff" stroke="#000" stroke-width="1.5" stroke-linejoin="miter"/>
<polygon points="428.5,208.5 435.5,213.0 435.5,222.0 428.5,226.5 421.5,222.0 421.5,213.0" fill="#ff00ff" stroke="#000" stroke-width="1.5" stroke-linejoin="miter"/>
<polygon points="435.4,200.2 442.4,204.7 442.4,213.7 435.4,218.2 428.4,213.7 428.4,204.7" fill="#ff00ff" stroke="#000" stroke-width="1.5" stroke-linejoin="miter"/>
<polygon points="442.4,193.5 449.4,198.0 449.4,207.0 442.4,211.5 435.4,207.0 435.4,198.0" fill="#ff00ff" stroke="#000" stroke-width="1.5" stroke-linejoin="miter"/>
<polygon points="449.5,186.5 456.5,191.0 456.5,200.0 449.5,204.5 442.5,200.0 442.5,191.0" fill="#ff00ff" stroke="#000" stroke-width="1.5" stroke-linejoin="miter"/>
<polygon points="456.8,179.2 463.8,183.7 463.8,192.7 456.8,197.2 449.8,192.7 449.8,183.7" fill="#ff00ff" stroke="#000" stroke-width="1.5" stroke-linejoin="miter"/>
<polygon points="464.1,171.4 471.1,175.9 471.1,184.9 464.1,189.4 457.1,184.9 457.1,175.9" fill="#ff00ff" stroke="#000" stroke-width="1.5" stroke-linejoin="miter"/>
<polygon points="471.5,164.2 478.5,168.7 478.5,177.7 471.5,182.2 464.5,177.7 464.5,168.7" fill="#ff00ff" stroke="#000" stroke-width="1.5" stroke-linejoin="miter"/>
<polygon points="479.0,157.0 486.0,161.5 486.0,170.5 479.0,175.0 472.0,170.5 472.0,161.5" fill="#ff00ff" stroke="#000" stroke-width="1.5" stroke-linejoin="miter"/>
<polygon points="486.6,147.5 493.6,152.0 493.6,161.0 486.6,165.5 479.6,161.0 479.6,152.0" fill="#ff00ff" stroke="#000" stroke-width="1.5" stroke-linejoin="miter"/>
<polygon points="494.3,139.5 501.3,144.0 501.3,153.0 494.3,157.5 487.3,153.0 487.3,144.0" fill="#ff00ff" stroke="#000" stroke-width="1.5" stroke-linejoin="miter"/>
<polygon points="502.1,131.5 509.1,136.0 509.1,145.0 502.1,149.5 495.1,145.0 495.1,136.0" fill="#ff00ff" stroke="#000" stroke-width="1.5" stroke-linejoin="miter"/>
<polygon points="510.0,124.5 517.0,129.0 517.0,138.0 510.0,142.5 503.0,138.0 503.0,129.0" fill="#ff00ff" stroke="#000" stroke-width="1.5" stroke-linejoin="miter"/>
<polygon points="518.1,116.5 525.1,121.0 525.1,130.0 518.1,134.5 511.1,130.0 511.1,121.0" fill="#ff00ff" stroke="#000" stroke-width="1.5" stroke-linejoin="miter"/>
<polygon points="526.2,111.5 533.2,116.0 533.2,125.0 526.2,129.5 519.2,125.0 519.2,116.0" fill="#ff00ff" stroke="#000" stroke-width="1.5" stroke-linejoin="miter"/>
<polygon points="534.5,100.6 541.5,105.1 541.5,114.1 534.5,118.6 527.5,114.1 527.5,105.1" fill="#ff00ff" stroke="#000" stroke-width="1.5" stroke-linejoin="miter"/>
<polygon points="542.9,93.5 549.9,98.0 549.9,107.0 542.9,111.5 535.9,107.0 535.9,98.0" fill="#ff00ff" stroke="#000" stroke-width="1.5" stroke-linejoin="miter"/>
<polygon points="551.4,86.8 558.4,91.3 558.4,100.3 551.4,104.8 544.4,100.3 544.4,91.3" fill="#ff00ff" stroke="#000" stroke-width="1.5" stroke-linejoin="miter"/>
<polygon points="560.0,82.0 567.0,86.5 567.0,95.5 560.0,100.0 553.0,95.5 553.0,86.5" fill="#ff00ff" stroke="#000" stroke-width="1.5" stroke-linejoin="miter"/>
<polygon points="568.7,75.8 575.7,80.3 575.7,89.3 568.7,93.8 561.7,89.3 561.7,80.3" fill="#ff00ff" stroke="#000" stroke-width="1.5" stroke-linejoin="miter"/>
<polygon points="577.6,69.6 584.6,74.1 584.6,83.1 577.6,87.6 570.6,83.1 570.6,74.1" fill="#ff00ff" stroke="#000" stroke-width="1.5" stroke-linejoin="miter"/>
<polygon points="586.6,65.4 593.6,69.9 593.6,78.9 586.6,83.4 579.6,78.9 579.6,69.9" fill="#ff00ff" stroke="#000" stroke-width="1.5" stroke-linejoin="miter"/>
<polygon points="595.8,61.2 602.8,65.7 602.8,74.7 595.8,79.2 588.8,74.7 588.8,65.7" fill="#ff00ff" stroke="#000" stroke-width="1.5" stroke-linejoin="miter"/>
<polygon points="605.0,57.1 612.0,61.6 612.0,70.6 605.0,75.1 598.0,70.6 598.0,61.6" fill="#ff00ff" stroke="#000" stroke-width="1.5" stroke-linejoin="miter"/>
<polygon points="614.4,53.1 621.4,57.6 621.4,66.6 614.4,71.1 607.4,66.6 607.4,57.6" fill="#ff00ff" stroke="#000" stroke-width="1.5" stroke-linejoin="miter"/>
<polygon points="624.0,50.0 631.0,54.5 631.0,63.5 624.0,68.0 617.0,63.5 617.0,54.5" fill="#ff00ff" stroke="#000" stroke-width="1.5" stroke-linejoin="miter"/>
<polygon points="633.7,47.5 640.7,52.0 640.7,61.0 633.7,65.5 626.7,61.0 626.7,52.0" fill="#ff00ff" stroke="#000" stroke-width="1.5" stroke-linejoin="miter"/>
<polygon points="643.6,45.5 650.6,50.0 650.6,59.0 643.6,63.5 636.6,59.0 636.6,50.0" fill="#ff00ff" stroke="#000" stroke-width="1.5" stroke-linejoin="miter"/>
<polygon points="653.6,43.5 660.6,48.0 660.6,57.0 653.6,61.5 646.6,57.0 646.6,48.0" fill="#ff00ff" stroke="#000" stroke-width="1.5" stroke-linejoin="miter"/>
<polygon points="663.7,41.8 670.7,46.3 670.7,55.3 663.7,59.8 656.7,55.3 656.7,46.3" fill="#ff00ff" stroke="#000" stroke-width="1.5" stroke-linejoin="miter"/>
<polygon points="674.0,41.0 681.0,45.5 681.0,54.5 674.0,59.0 667.0,54.5 667.0,45.5" fill="#ff00ff" stroke="#000" stroke-width="1.5" stroke-linejoin="miter"/>
<polygon points="684.5,38.0 691.5,42.5 691.5,51.5 684.5,56.0 677.5,51.5 677.5,42.5" fill="#ff00ff" stroke="#000" stroke-width="1.5" stroke-linejoin="miter"/>
<polygon points="695.2,39.4 702.2,43.9 702.2,52.9 695.2,57.4 688.2,52.9 688.2,43.9" fill="#ff00ff" stroke="#000" stroke-width="1.5" stroke-linejoin="miter"/>
<polygon points="706.0,41.0 713.0,45.5 713.0,54.5 706.0,59.0 699.0,54.5 699.0,45.5" fill="#ff00ff" stroke="#000" stroke-width="1.5" stroke-linejoin="miter"/>
<polygon points="717.0,40.0 724.0,44.5 724.0,53.5 717.0,58.0 710.0,53.5 710.0,44.5" fill="#ff00ff" stroke="#000" stroke-width="1.5" stroke-linejoin="miter"/>
<polygon points="728.2,37.0 735.2,41.5 735.2,50.5 728.2,55.0 721.2,50.5 721.2,41.5" fill="#ff00ff" stroke="#000" stroke-width="1.5" stroke-linejoin="miter"/>
<polygon points="739.5,37.0 746.5,41.5 746.5,50.5 739.5,55.0 732.5,50.5 732.5,41.5" fill="#ff00ff" stroke="#000" stroke-width="1.5" stroke-linejoin="miter"/>
<polygon points="751.1,38.0 758.1,42.5 758.1,51.5 751.1,56.0 744.1,51.5 744.1,42.5" fill="#ff00ff" stroke="#000" stroke-width="1.5" stroke-linejoin="miter"/>
<polygon points="762.8,33.5 769.8,38.0 769.8,47.0 762.8,51.5 755.8,47.0 755.8,38.0" fill="#ff00ff" stroke="#000" stroke-width="1.5" stroke-linejoin="miter"/>
<polygon points="774.8,37.0 781.8,41.5 781.8,50.5 774.8,55.0 767.8,50.5 767.8,41.5" fill="#ff00ff" stroke="#000" stroke-width="1.5" stroke-linejoin="miter"/>
<polygon points="786.9,38.0 793.9,42.5 793.9,51.5 786.9,56.0 779.9,51.5 779.9,42.5" fill="#ff00ff" stroke="#000" stroke-width="1.5" stroke-linejoin="miter"/>
<polygon points="799.3,42.0 806.3,46.5 806.3,55.5 799.3,60.0 792.3,55.5 792.3,46.5" fill="#ff00ff" stroke="#000" stroke-width="1.5" stroke-linejoin="miter"/>
<polygon points="811.9,46.6 818.9,51.1 818.9,60.1 811.9,64.6 804.9,60.1 804.9,51.1" fill="#ff00ff" stroke="#000" stroke-width="1.5" stroke-linejoin="miter"/>
<polygon points="824.7,50.6 831.7,55.1 831.7,64.1 824.7,68.6 817.7,64.1 817.7,55.1" fill="#ff00ff" stroke="#000" stroke-width="1.5" stroke-linejoin="miter"/>
<polygon points="837.7,51.8 844.7,56.3 844.7,65.3 837.7,69.8 830.7,65.3 830.7,56.3" fill="#ff00ff" stroke="#000" stroke-width="1.5" stroke-linejoin="miter"/>
<polygon points="851.0,50.2 858.0,54.7 858.0,63.7 851.0,68.2 844.0,63.7 844.0,54.7" fill="#ff00ff" stroke="#000" stroke-width="1.5" stroke-linejoin="miter"/>
<polygon points="864.5,47.0 871.5,51.5 871.5,60.5 864.5,65.0 857.5,60.5 857.5,51.5" fill="#ff00ff" stroke="#000" stroke-width="1.5" stroke-linejoin="miter"/>
<polygon points="878.2,49.4 885.2,53.9 885.2,62.9 878.2,67.4 871.2,62.9 871.2,53.9" fill="#ff00ff" stroke="#000" stroke-width="1.5" stroke-linejoin="miter"/>
<polygon points="892.2,56.6 899.2,61.1 899.2,70.1 892.2,74.6 885.2,70.1 885.2,61.1" fill="#ff00ff" stroke="#000" stroke-width="1.5" stroke-linejoin="miter"/>
<polygon points="906.4,51.8 913.4,56.3 913.4,65.3 906.4,69.8 899.4,65.3 899.4,56.3" fill="#ff00ff" stroke="#000" stroke-width="1.5" stroke-linejoin="miter"/>
<polygon points="921.0,51.0 928.0,55.5 928.0,64.5 921.0,69.0 914.0,64.5 914.0,55.5" fill="#ff00ff" stroke="#000" stroke-width="1.5" stroke-linejoin="miter"/>
<polygon points="935.8,52.6 942.8,57.1 942.8,66.1 935.8,70.6 928.8,66.1 928.8,57.1" fill="#ff00ff" stroke="#000" stroke-width="1.5" stroke-linejoin="miter"/>
<polygon points="950.8,57.0 957.8,61.5 957.8,70.5 950.8,75.0 943.8,70.5 943.8,61.5" fill="#ff00ff" stroke="#000" stroke-width="1.5" stroke-linejoin="miter"/>
<polygon points="966.2,47.0 973.2,51.5 973.2,60.5 966.2,65.0 959.2,60.5 959.2,51.5" fill="#ff00ff" stroke="#000" stroke-width="1.5" stroke-linejoin="miter"/>
<ellipse cx="663.7" cy="474.6" rx="7.5" ry="7.9" fill="#00ffff" stroke="#000" stroke-width="1.5"/>
<ellipse cx="674.0" cy="340.0" rx="7.5" ry="7.9" fill="#00ffff" stroke="#000" stroke-width="1.5"/>
<ellipse cx="684.5" cy="311.0" rx="7.5" ry="7.9" fill="#00ffff" stroke="#000" stroke-width="1.5"/>
<ellipse cx="695.2" cy="281.0" rx="7.5" ry="7.9" fill="#00ffff" stroke="#000" stroke-width="1.5"/>
<ellipse cx="706.0" cy="263.0" rx="7.5" ry="7.9" fill="#00ffff" stroke="#000" stroke-width="1.5"/>
<ellipse cx="717.0" cy="247.0" rx="7.5" ry="7.9" fill="#00ffff" stroke="#000" stroke-width="1.5"/>
<ellipse cx="728.2" cy="229.0" rx="7.5" ry="7.9" fill="#00ffff" stroke="#000" stroke-width="1.5"/>
<ellipse cx="739.5" cy="215.0" rx="7.5" ry="7.9" fill="#00ffff" stroke="#000" stroke-width="1.5"/>
<ellipse cx="751.1" cy="202.0" rx="7.5" ry="7.9" fill="#00ffff" stroke="#000" stroke-width="1.5"/>
<ellipse cx="762.8" cy="184.7" rx="7.5" ry="7.9" fill="#00ffff" stroke="#000" stroke-width="1.5"/>
<ellipse cx="774.8" cy="178.4" rx="7.5" ry="7.9" fill="#00ffff" stroke="#000" stroke-width="1.5"/>
<ellipse cx="786.9" cy="171.2" rx="7.5" ry="7.9" fill="#00ffff" stroke="#000" stroke-width="1.5"/>
<ellipse cx="799.3" cy="164.0" rx="7.5" ry="7.9" fill="#00ffff" stroke="#000" stroke-width="1.5"/>
<ellipse cx="811.9" cy="156.8" rx="7.5" ry="7.9" fill="#00ffff" stroke="#000" stroke-width="1.5"/>
<ellipse cx="824.7" cy="150.5" rx="7.5" ry="7.9" fill="#00ffff" stroke="#000" stroke-width="1.5"/>
<ellipse cx="837.7" cy="144.2" rx="7.5" ry="7.9" fill="#00ffff" stroke="#000" stroke-width="1.5"/>
<ellipse cx="851.0" cy="136.0" rx="7.5" ry="7.9" fill="#00ffff" stroke="#000" stroke-width="1.5"/>
<ellipse cx="864.5" cy="126.0" rx="7.5" ry="7.9" fill="#00ffff" stroke="#000" stroke-width="1.5"/>
<ellipse cx="878.2" cy="118.0" rx="7.5" ry="7.9" fill="#00ffff" stroke="#000" stroke-width="1.5"/>
<ellipse cx="892.2" cy="112.0" rx="7.5" ry="7.9" fill="#00ffff" stroke="#000" stroke-width="1.5"/>
<ellipse cx="906.4" cy="100.0" rx="7.5" ry="7.9" fill="#00ffff" stroke="#000" stroke-width="1.5"/>
<ellipse cx="921.0" cy="95.0" rx="7.5" ry="7.9" fill="#00ffff" stroke="#000" stroke-width="1.5"/>
<ellipse cx="935.8" cy="90.0" rx="7.5" ry="7.9" fill="#00ffff" stroke="#000" stroke-width="1.5"/>
<ellipse cx="950.8" cy="85.0" rx="7.5" ry="7.9" fill="#00ffff" stroke="#000" stroke-width="1.5"/>
<ellipse cx="966.2" cy="79.0" rx="7.5" ry="7.9" fill="#00ffff" stroke="#000" stroke-width="1.5"/>
<rect x="646.2" y="367.4" width="14.7" height="14.7" fill="#c0c0c0" stroke="#000" stroke-width="1.5"/>
<rect x="656.4" y="329.1" width="14.7" height="14.7" fill="#c0c0c0" stroke="#000" stroke-width="1.5"/>
<rect x="666.7" y="299.9" width="14.7" height="14.7" fill="#c0c0c0" stroke="#000" stroke-width="1.5"/>
<rect x="677.2" y="273.6" width="14.7" height="14.7" fill="#c0c0c0" stroke="#000" stroke-width="1.5"/>
<rect x="687.8" y="254.2" width="14.7" height="14.7" fill="#c0c0c0" stroke="#000" stroke-width="1.5"/>
<rect x="698.6" y="238.8" width="14.7" height="14.7" fill="#c0c0c0" stroke="#000" stroke-width="1.5"/>
<rect x="709.7" y="225.0" width="14.7" height="14.7" fill="#c0c0c0" stroke="#000" stroke-width="1.5"/>
<rect x="720.8" y="211.2" width="14.7" height="14.7" fill="#c0c0c0" stroke="#000" stroke-width="1.5"/>
<rect x="732.2" y="197.7" width="14.7" height="14.7" fill="#c0c0c0" stroke="#000" stroke-width="1.5"/>
<rect x="743.8" y="184.7" width="14.7" height="14.7" fill="#c0c0c0" stroke="#000" stroke-width="1.5"/>
<rect x="755.5" y="171.1" width="14.7" height="14.7" fill="#c0c0c0" stroke="#000" stroke-width="1.5"/>
<rect x="767.4" y="164.7" width="14.7" height="14.7" fill="#c0c0c0" stroke="#000" stroke-width="1.5"/>
<rect x="779.6" y="156.7" width="14.7" height="14.7" fill="#c0c0c0" stroke="#000" stroke-width="1.5"/>
<rect x="792.0" y="148.7" width="14.7" height="14.7" fill="#c0c0c0" stroke="#000" stroke-width="1.5"/>
<rect x="804.5" y="142.2" width="14.7" height="14.7" fill="#c0c0c0" stroke="#000" stroke-width="1.5"/>
<rect x="817.3" y="136.8" width="14.7" height="14.7" fill="#c0c0c0" stroke="#000" stroke-width="1.5"/>
<rect x="830.4" y="132.3" width="14.7" height="14.7" fill="#c0c0c0" stroke="#000" stroke-width="1.5"/>
<rect x="843.6" y="123.7" width="14.7" height="14.7" fill="#c0c0c0" stroke="#000" stroke-width="1.5"/>
<rect x="857.1" y="112.7" width="14.7" height="14.7" fill="#c0c0c0" stroke="#000" stroke-width="1.5"/>
<rect x="870.9" y="105.7" width="14.7" height="14.7" fill="#c0c0c0" stroke="#000" stroke-width="1.5"/>
<rect x="884.8" y="104.7" width="14.7" height="14.7" fill="#c0c0c0" stroke="#000" stroke-width="1.5"/>
<rect x="899.1" y="93.5" width="14.7" height="14.7" fill="#c0c0c0" stroke="#000" stroke-width="1.5"/>
<rect x="913.6" y="87.9" width="14.7" height="14.7" fill="#c0c0c0" stroke="#000" stroke-width="1.5"/>
<rect x="928.4" y="83.9" width="14.7" height="14.7" fill="#c0c0c0" stroke="#000" stroke-width="1.5"/>
<rect x="943.5" y="76.7" width="14.7" height="14.7" fill="#c0c0c0" stroke="#000" stroke-width="1.5"/>
<rect x="958.8" y="75.1" width="14.7" height="14.7" fill="#c0c0c0" stroke="#000" stroke-width="1.5"/>
<polygon points="605.0,539.6 613.2,554.4 596.8,554.4" fill="#800000" stroke="#000" stroke-width="1.5" stroke-linejoin="miter"/>
<polygon points="614.4,428.2 622.6,443.0 606.2,443.0" fill="#800000" stroke="#000" stroke-width="1.5" stroke-linejoin="miter"/>
<polygon points="624.0,370.1 632.2,384.9 615.8,384.9" fill="#800000" stroke="#000" stroke-width="1.5" stroke-linejoin="miter"/>
<polygon points="633.7,346.9 641.9,361.7 625.5,361.7" fill="#800000" stroke="#000" stroke-width="1.5" stroke-linejoin="miter"/>
<polygon points="643.6,321.3 651.8,336.1 635.4,336.1" fill="#800000" stroke="#000" stroke-width="1.5" stroke-linejoin="miter"/>
<polygon points="653.6,297.8 661.8,312.6 645.4,312.6" fill="#800000" stroke="#000" stroke-width="1.5" stroke-linejoin="miter"/>
<polygon points="663.7,278.3 671.9,293.1 655.5,293.1" fill="#800000" stroke="#000" stroke-width="1.5" stroke-linejoin="miter"/>
<polygon points="674.0,260.3 682.2,275.1 665.8,275.1" fill="#800000" stroke="#000" stroke-width="1.5" stroke-linejoin="miter"/>
<polygon points="684.5,244.6 692.7,259.4 676.3,259.4" fill="#800000" stroke="#000" stroke-width="1.5" stroke-linejoin="miter"/>
<polygon points="695.2,230.3 703.4,245.1 687.0,245.1" fill="#800000" stroke="#000" stroke-width="1.5" stroke-linejoin="miter"/>
<polygon points="706.0,221.3 714.2,236.1 697.8,236.1" fill="#800000" stroke="#000" stroke-width="1.5" stroke-linejoin="miter"/>
<polygon points="717.0,207.8 725.2,222.6 708.8,222.6" fill="#800000" stroke="#000" stroke-width="1.5" stroke-linejoin="miter"/>
<polygon points="728.2,194.2 736.4,209.0 720.0,209.0" fill="#800000" stroke="#000" stroke-width="1.5" stroke-linejoin="miter"/>
<polygon points="739.5,184.3 747.7,199.1 731.3,199.1" fill="#800000" stroke="#000" stroke-width="1.5" stroke-linejoin="miter"/>
<polygon points="751.1,172.6 759.3,187.4 742.9,187.4" fill="#800000" stroke="#000" stroke-width="1.5" stroke-linejoin="miter"/>
<polygon points="762.8,156.4 771.0,171.2 754.6,171.2" fill="#800000" stroke="#000" stroke-width="1.5" stroke-linejoin="miter"/>
<polygon points="774.8,150.1 783.0,164.9 766.6,164.9" fill="#800000" stroke="#000" stroke-width="1.5" stroke-linejoin="miter"/>
<polygon points="786.9,144.7 795.1,159.5 778.7,159.5" fill="#800000" stroke="#000" stroke-width="1.5" stroke-linejoin="miter"/>
<polygon points="799.3,135.7 807.5,150.5 791.1,150.5" fill="#800000" stroke="#000" stroke-width="1.5" stroke-linejoin="miter"/>
<polygon points="811.9,127.6 820.1,142.4 803.7,142.4" fill="#800000" stroke="#000" stroke-width="1.5" stroke-linejoin="miter"/>
<polygon points="824.7,121.3 832.9,136.1 816.5,136.1" fill="#800000" stroke="#000" stroke-width="1.5" stroke-linejoin="miter"/>
<polygon points="837.7,115.0 845.9,129.8 829.5,129.8" fill="#800000" stroke="#000" stroke-width="1.5" stroke-linejoin="miter"/>
<polygon points="851.0,106.2 859.2,121.0 842.8,121.0" fill="#800000" stroke="#000" stroke-width="1.5" stroke-linejoin="miter"/>
<polygon points="864.5,92.6 872.7,107.4 856.3,107.4" fill="#800000" stroke="#000" stroke-width="1.5" stroke-linejoin="miter"/>
<polygon points="878.2,87.0 886.4,101.8 870.0,101.8" fill="#800000" stroke="#000" stroke-width="1.5" stroke-linejoin="miter"/>
<polygon points="892.2,84.6 900.4,99.4 884.0,99.4" fill="#800000" stroke="#000" stroke-width="1.5" stroke-linejoin="miter"/>
<polygon points="906.4,78.2 914.6,93.0 898.2,93.0" fill="#800000" stroke="#000" stroke-width="1.5" stroke-linejoin="miter"/>
<polygon points="921.0,71.8 929.2,86.6 912.8,86.6" fill="#800000" stroke="#000" stroke-width="1.5" stroke-linejoin="miter"/>
<polygon points="935.8,66.2 944.0,81.0 927.6,81.0" fill="#800000" stroke="#000" stroke-width="1.5" stroke-linejoin="miter"/>
<polygon points="950.8,59.0 959.0,73.8 942.6,73.8" fill="#800000" stroke="#000" stroke-width="1.5" stroke-linejoin="miter"/>
<polygon points="966.2,55.0 974.4,69.8 958.0,69.8" fill="#800000" stroke="#000" stroke-width="1.5" stroke-linejoin="miter"/>
</g>
<line x1="257.20" y1="389.60" x2="281.00" y2="436.50" stroke="#000" stroke-width="1.5"/>
<line x1="257.20" y1="389.60" x2="294.00" y2="414.00" stroke="#000" stroke-width="1.5"/>
<line x1="257.20" y1="389.60" x2="375.70" y2="526.50" stroke="#000" stroke-width="1.5"/>
<line x1="573.30" y1="318.20" x2="602.70" y2="361.60" stroke="#000" stroke-width="1.5"/>
<line x1="573.30" y1="318.20" x2="619.50" y2="340.60" stroke="#000" stroke-width="1.5"/>
<line x1="573.30" y1="318.20" x2="687.40" y2="417.40" stroke="#000" stroke-width="1.5"/>
<line x1="267.00" y1="1416.50" x2="400.00" y2="1204.00" stroke="#000" stroke-width="1.5"/>
<g id="dataB">
<ellipse cx="165.7" cy="1398.0" rx="7.5" ry="7.9" fill="#000000" stroke="#000" stroke-width="1.5"/>
<ellipse cx="171.5" cy="1396.0" rx="7.5" ry="7.9" fill="#000000" stroke="#000" stroke-width="1.5"/>
<ellipse cx="177.4" cy="1394.0" rx="7.5" ry="7.9" fill="#000000" stroke="#000" stroke-width="1.5"/>
<ellipse cx="183.4" cy="1393.0" rx="7.5" ry="7.9" fill="#000000" stroke="#000" stroke-width="1.5"/>
<ellipse cx="189.5" cy="1400.0" rx="7.5" ry="7.9" fill="#000000" stroke="#000" stroke-width="1.5"/>
<ellipse cx="195.6" cy="1400.0" rx="7.5" ry="7.9" fill="#000000" stroke="#000" stroke-width="1.5"/>
<ellipse cx="201.8" cy="1400.0" rx="7.5" ry="7.9" fill="#000000" stroke="#000" stroke-width="1.5"/>
<ellipse cx="208.1" cy="1400.0" rx="7.5" ry="7.9" fill="#000000" stroke="#000" stroke-width="1.5"/>
<ellipse cx="214.4" cy="1399.9" rx="7.5" ry="7.9" fill="#000000" stroke="#000" stroke-width="1.5"/>
<ellipse cx="220.9" cy="1390.9" rx="7.5" ry="7.9" fill="#000000" stroke="#000" stroke-width="1.5"/>
<ellipse cx="227.3" cy="1385.0" rx="7.5" ry="7.9" fill="#000000" stroke="#000" stroke-width="1.5"/>
<ellipse cx="233.9" cy="1379.1" rx="7.5" ry="7.9" fill="#000000" stroke="#000" stroke-width="1.5"/>
<ellipse cx="240.6" cy="1374.6" rx="7.5" ry="7.9" fill="#000000" stroke="#000" stroke-width="1.5"/>
<ellipse cx="247.3" cy="1371.2" rx="7.5" ry="7.9" fill="#000000" stroke="#000" stroke-width="1.5"/>
<ellipse cx="254.1" cy="1367.2" rx="7.5" ry="7.9" fill="#000000" stroke="#000" stroke-width="1.5"/>
<ellipse cx="261.0" cy="1362.4" rx="7.5" ry="7.9" fill="#000000" stroke="#000" stroke-width="1.5"/>
<ellipse cx="267.9" cy="1356.6" rx="7.5" ry="7.9" fill="#000000" stroke="#000" stroke-width="1.5"/>
<ellipse cx="275.0" cy="1350.2" rx="7.5" ry="7.9" fill="#000000" stroke="#000" stroke-width="1.5"/>
<ellipse cx="282.1" cy="1343.9" rx="7.5" ry="7.9" fill="#000000" stroke="#000" stroke-width="1.5"/>
<ellipse cx="289.3" cy="1337.4" rx="7.5" ry="7.9" fill="#000000" stroke="#000" stroke-width="1.5"/>
<ellipse cx="296.7" cy="1330.2" rx="7.5" ry="7.9" fill="#000000" stroke="#000" stroke-width="1.5"/>
<ellipse cx="304.1" cy="1322.1" rx="7.5" ry="7.9" fill="#000000" stroke="#000" stroke-width="1.5"/>
<ellipse cx="311.6" cy="1313.7" rx="7.5" ry="7.9" fill="#000000" stroke="#000" stroke-width="1.5"/>
<ellipse cx="319.2" cy="1305.9" rx="7.5" ry="7.9" fill="#000000" stroke="#000" stroke-width="1.5"/>
<ellipse cx="326.8" cy="1299.4" rx="7.5" ry="7.9" fill="#000000" stroke="#000" stroke-width="1.5"/>
<ellipse cx="334.6" cy="1291.9" rx="7.5" ry="7.9" fill="#000000" stroke="#000" stroke-width="1.5"/>
<ellipse cx="342.5" cy="1284.2" rx="7.5" ry="7.9" fill="#000000" stroke="#000" stroke-width="1.5"/>
<ellipse cx="350.5" cy="1272.6" rx="7.5" ry="7.9" fill="#000000" stroke="#000" stroke-width="1.5"/>
<ellipse cx="358.6" cy="1263.3" rx="7.5" ry="7.9" fill="#000000" stroke="#000" stroke-width="1.5"/>
<ellipse cx="366.8" cy="1247.4" rx="7.5" ry="7.9" fill="#000000" stroke="#000" stroke-width="1.5"/>
<ellipse cx="375.1" cy="1239.3" rx="7.5" ry="7.9" fill="#000000" stroke="#000" stroke-width="1.5"/>
<ellipse cx="383.5" cy="1228.3" rx="7.5" ry="7.9" fill="#000000" stroke="#000" stroke-width="1.5"/>
<ellipse cx="392.0" cy="1216.5" rx="7.5" ry="7.9" fill="#000000" stroke="#000" stroke-width="1.5"/>
<ellipse cx="400.7" cy="1205.5" rx="7.5" ry="7.9" fill="#000000" stroke="#000" stroke-width="1.5"/>
<ellipse cx="409.4" cy="1192.0" rx="7.5" ry="7.9" fill="#000000" stroke="#000" stroke-width="1.5"/>
<ellipse cx="418.3" cy="1178.2" rx="7.5" ry="7.9" fill="#000000" stroke="#000" stroke-width="1.5"/>
<ellipse cx="427.3" cy="1165.0" rx="7.5" ry="7.9" fill="#000000" stroke="#000" stroke-width="1.5"/>
<ellipse cx="436.4" cy="1151.7" rx="7.5" ry="7.9" fill="#000000" stroke="#000" stroke-width="1.5"/>
<ellipse cx="445.7" cy="1128.1" rx="7.5" ry="7.9" fill="#000000" stroke="#000" stroke-width="1.5"/>
<ellipse cx="455.1" cy="1111.4" rx="7.5" ry="7.9" fill="#000000" stroke="#000" stroke-width="1.5"/>
<ellipse cx="464.6" cy="1093.7" rx="7.5" ry="7.9" fill="#000000" stroke="#000" stroke-width="1.5"/>
<ellipse cx="474.2" cy="1075.7" rx="7.5" ry="7.9" fill="#000000" stroke="#000" stroke-width="1.5"/>
<ellipse cx="484.0" cy="1057.7" rx="7.5" ry="7.9" fill="#000000" stroke="#000" stroke-width="1.5"/>
<ellipse cx="493.9" cy="1044.7" rx="7.5" ry="7.9" fill="#000000" stroke="#000" stroke-width="1.5"/>
<ellipse cx="504.0" cy="1032.1" rx="7.5" ry="7.9" fill="#000000" stroke="#000" stroke-width="1.5"/>
<ellipse cx="514.2" cy="1012.5" rx="7.5" ry="7.9" fill="#000000" stroke="#000" stroke-width="1.5"/>
<ellipse cx="524.6" cy="992.3" rx="7.5" ry="7.9" fill="#000000" stroke="#000" stroke-width="1.5"/>
<ellipse cx="535.1" cy="983.3" rx="7.5" ry="7.9" fill="#000000" stroke="#000" stroke-width="1.5"/>
<ellipse cx="545.8" cy="972.1" rx="7.5" ry="7.9" fill="#000000" stroke="#000" stroke-width="1.5"/>
<ellipse cx="556.6" cy="951.0" rx="7.5" ry="7.9" fill="#000000" stroke="#000" stroke-width="1.5"/>
<ellipse cx="567.6" cy="938.2" rx="7.5" ry="7.9" fill="#000000" stroke="#000" stroke-width="1.5"/>
<ellipse cx="578.8" cy="927.9" rx="7.5" ry="7.9" fill="#000000" stroke="#000" stroke-width="1.5"/>
<ellipse cx="590.1" cy="915.2" rx="7.5" ry="7.9" fill="#000000" stroke="#000" stroke-width="1.5"/>
<ellipse cx="601.6" cy="910.4" rx="7.5" ry="7.9" fill="#000000" stroke="#000" stroke-width="1.5"/>
<ellipse cx="613.3" cy="903.6" rx="7.5" ry="7.9" fill="#000000" stroke="#000" stroke-width="1.5"/>
<ellipse cx="625.2" cy="865.3" rx="7.5" ry="7.9" fill="#000000" stroke="#000" stroke-width="1.5"/>
<ellipse cx="637.3" cy="854.4" rx="7.5" ry="7.9" fill="#000000" stroke="#000" stroke-width="1.5"/>
<ellipse cx="649.5" cy="856.1" rx="7.5" ry="7.9" fill="#000000" stroke="#000" stroke-width="1.5"/>
<ellipse cx="662.0" cy="860.0" rx="7.5" ry="7.9" fill="#000000" stroke="#000" stroke-width="1.5"/>
<ellipse cx="674.7" cy="856.8" rx="7.5" ry="7.9" fill="#000000" stroke="#000" stroke-width="1.5"/>
<ellipse cx="687.5" cy="846.5" rx="7.5" ry="7.9" fill="#000000" stroke="#000" stroke-width="1.5"/>
<ellipse cx="700.6" cy="844.5" rx="7.5" ry="7.9" fill="#000000" stroke="#000" stroke-width="1.5"/>
<ellipse cx="713.9" cy="845.3" rx="7.5" ry="7.9" fill="#000000" stroke="#000" stroke-width="1.5"/>
<ellipse cx="727.4" cy="831.9" rx="7.5" ry="7.9" fill="#000000" stroke="#000" stroke-width="1.5"/>
<ellipse cx="741.2" cy="841.3" rx="7.5" ry="7.9" fill="#000000" stroke="#000" stroke-width="1.5"/>
<ellipse cx="755.2" cy="847.8" rx="7.5" ry="7.9" fill="#000000" stroke="#000" stroke-width="1.5"/>
<ellipse cx="769.4" cy="859.2" rx="7.5" ry="7.9" fill="#000000" stroke="#000" stroke-width="1.5"/>
<ellipse cx="783.9" cy="865.0" rx="7.5" ry="7.9" fill="#000000" stroke="#000" stroke-width="1.5"/>
<ellipse cx="798.6" cy="880.0" rx="7.5" ry="7.9" fill="#000000" stroke="#000" stroke-width="1.5"/>
<ellipse cx="813.6" cy="887.7" rx="7.5" ry="7.9" fill="#000000" stroke="#000" stroke-width="1.5"/>
<ellipse cx="828.9" cy="880.0" rx="7.5" ry="7.9" fill="#000000" stroke="#000" stroke-width="1.5"/>
<ellipse cx="844.4" cy="869.7" rx="7.5" ry="7.9" fill="#000000" stroke="#000" stroke-width="1.5"/>
<ellipse cx="860.2" cy="880.0" rx="7.5" ry="7.9" fill="#000000" stroke="#000" stroke-width="1.5"/>
<ellipse cx="876.3" cy="900.0" rx="7.5" ry="7.9" fill="#000000" stroke="#000" stroke-width="1.5"/>
<ellipse cx="892.7" cy="901.0" rx="7.5" ry="7.9" fill="#000000" stroke="#000" stroke-width="1.5"/>
<ellipse cx="909.5" cy="904.0" rx="7.5" ry="7.9" fill="#000000" stroke="#000" stroke-width="1.5"/>
<ellipse cx="926.5" cy="912.0" rx="7.5" ry="7.9" fill="#000000" stroke="#000" stroke-width="1.5"/>
<ellipse cx="943.8" cy="930.0" rx="7.5" ry="7.9" fill="#000000" stroke="#000" stroke-width="1.5"/>
<ellipse cx="961.5" cy="952.0" rx="7.5" ry="7.9" fill="#000000" stroke="#000" stroke-width="1.5"/>
<rect x="207.1" y="1393.7" width="14.7" height="14.7" fill="#ff0000" stroke="#000" stroke-width="1.5"/>
<rect x="213.5" y="1384.7" width="14.7" height="14.7" fill="#ff0000" stroke="#000" stroke-width="1.5"/>
<rect x="220.0" y="1378.7" width="14.7" height="14.7" fill="#ff0000" stroke="#000" stroke-width="1.5"/>
<rect x="226.6" y="1372.7" width="14.7" height="14.7" fill="#ff0000" stroke="#000" stroke-width="1.5"/>
<rect x="233.2" y="1368.1" width="14.7" height="14.7" fill="#ff0000" stroke="#000" stroke-width="1.5"/>
<rect x="239.9" y="1364.7" width="14.7" height="14.7" fill="#ff0000" stroke="#000" stroke-width="1.5"/>
<rect x="246.7" y="1360.7" width="14.7" height="14.7" fill="#ff0000" stroke="#000" stroke-width="1.5"/>
<rect x="253.6" y="1355.7" width="14.7" height="14.7" fill="#ff0000" stroke="#000" stroke-width="1.5"/>
<rect x="260.6" y="1349.7" width="14.7" height="14.7" fill="#ff0000" stroke="#000" stroke-width="1.5"/>
<rect x="267.6" y="1343.2" width="14.7" height="14.7" fill="#ff0000" stroke="#000" stroke-width="1.5"/>
<rect x="274.8" y="1336.7" width="14.7" height="14.7" fill="#ff0000" stroke="#000" stroke-width="1.5"/>
<rect x="282.0" y="1330.2" width="14.7" height="14.7" fill="#ff0000" stroke="#000" stroke-width="1.5"/>
<rect x="289.3" y="1322.7" width="14.7" height="14.7" fill="#ff0000" stroke="#000" stroke-width="1.5"/>
<rect x="296.7" y="1314.7" width="14.7" height="14.7" fill="#ff0000" stroke="#000" stroke-width="1.5"/>
<rect x="304.2" y="1306.7" width="14.7" height="14.7" fill="#ff0000" stroke="#000" stroke-width="1.5"/>
<rect x="311.8" y="1298.9" width="14.7" height="14.7" fill="#ff0000" stroke="#000" stroke-width="1.5"/>
<rect x="319.5" y="1292.6" width="14.7" height="14.7" fill="#ff0000" stroke="#000" stroke-width="1.5"/>
<rect x="327.3" y="1284.9" width="14.7" height="14.7" fill="#ff0000" stroke="#000" stroke-width="1.5"/>
<rect x="335.2" y="1277.2" width="14.7" height="14.7" fill="#ff0000" stroke="#000" stroke-width="1.5"/>
<rect x="343.1" y="1265.2" width="14.7" height="14.7" fill="#ff0000" stroke="#000" stroke-width="1.5"/>
<rect x="351.2" y="1256.2" width="14.7" height="14.7" fill="#ff0000" stroke="#000" stroke-width="1.5"/>
<rect x="359.4" y="1241.1" width="14.7" height="14.7" fill="#ff0000" stroke="#000" stroke-width="1.5"/>
<rect x="367.7" y="1233.0" width="14.7" height="14.7" fill="#ff0000" stroke="#000" stroke-width="1.5"/>
<rect x="376.2" y="1222.0" width="14.7" height="14.7" fill="#ff0000" stroke="#000" stroke-width="1.5"/>
<rect x="384.7" y="1210.2" width="14.7" height="14.7" fill="#ff0000" stroke="#000" stroke-width="1.5"/>
<rect x="393.3" y="1199.1" width="14.7" height="14.7" fill="#ff0000" stroke="#000" stroke-width="1.5"/>
<rect x="402.1" y="1185.7" width="14.7" height="14.7" fill="#ff0000" stroke="#000" stroke-width="1.5"/>
<rect x="411.0" y="1171.8" width="14.7" height="14.7" fill="#ff0000" stroke="#000" stroke-width="1.5"/>
<rect x="420.0" y="1158.7" width="14.7" height="14.7" fill="#ff0000" stroke="#000" stroke-width="1.5"/>
<rect x="429.1" y="1145.4" width="14.7" height="14.7" fill="#ff0000" stroke="#000" stroke-width="1.5"/>
<rect x="438.3" y="1119.7" width="14.7" height="14.7" fill="#ff0000" stroke="#000" stroke-width="1.5"/>
<rect x="447.7" y="1103.7" width="14.7" height="14.7" fill="#ff0000" stroke="#000" stroke-width="1.5"/>
<rect x="457.2" y="1085.7" width="14.7" height="14.7" fill="#ff0000" stroke="#000" stroke-width="1.5"/>
<rect x="466.9" y="1067.7" width="14.7" height="14.7" fill="#ff0000" stroke="#000" stroke-width="1.5"/>
<rect x="476.7" y="1049.7" width="14.7" height="14.7" fill="#ff0000" stroke="#000" stroke-width="1.5"/>
<rect x="486.6" y="1038.4" width="14.7" height="14.7" fill="#ff0000" stroke="#000" stroke-width="1.5"/>
<rect x="496.6" y="1024.7" width="14.7" height="14.7" fill="#ff0000" stroke="#000" stroke-width="1.5"/>
<rect x="506.9" y="1004.1" width="14.7" height="14.7" fill="#ff0000" stroke="#000" stroke-width="1.5"/>
<rect x="517.2" y="984.1" width="14.7" height="14.7" fill="#ff0000" stroke="#000" stroke-width="1.5"/>
<rect x="527.7" y="976.1" width="14.7" height="14.7" fill="#ff0000" stroke="#000" stroke-width="1.5"/>
<rect x="538.4" y="964.6" width="14.7" height="14.7" fill="#ff0000" stroke="#000" stroke-width="1.5"/>
<rect x="549.3" y="942.6" width="14.7" height="14.7" fill="#ff0000" stroke="#000" stroke-width="1.5"/>
<rect x="560.3" y="930.6" width="14.7" height="14.7" fill="#ff0000" stroke="#000" stroke-width="1.5"/>
<rect x="571.4" y="920.6" width="14.7" height="14.7" fill="#ff0000" stroke="#000" stroke-width="1.5"/>
<rect x="582.8" y="907.6" width="14.7" height="14.7" fill="#ff0000" stroke="#000" stroke-width="1.5"/>
<rect x="594.3" y="903.6" width="14.7" height="14.7" fill="#ff0000" stroke="#000" stroke-width="1.5"/>
<rect x="606.0" y="896.6" width="14.7" height="14.7" fill="#ff0000" stroke="#000" stroke-width="1.5"/>
<rect x="617.9" y="886.6" width="14.7" height="14.7" fill="#ff0000" stroke="#000" stroke-width="1.5"/>
<rect x="629.9" y="875.6" width="14.7" height="14.7" fill="#ff0000" stroke="#000" stroke-width="1.5"/>
<rect x="642.2" y="875.6" width="14.7" height="14.7" fill="#ff0000" stroke="#000" stroke-width="1.5"/>
<rect x="654.6" y="877.6" width="14.7" height="14.7" fill="#ff0000" stroke="#000" stroke-width="1.5"/>
<rect x="667.3" y="873.6" width="14.7" height="14.7" fill="#ff0000" stroke="#000" stroke-width="1.5"/>
<rect x="680.2" y="861.6" width="14.7" height="14.7" fill="#ff0000" stroke="#000" stroke-width="1.5"/>
<rect x="693.3" y="859.6" width="14.7" height="14.7" fill="#ff0000" stroke="#000" stroke-width="1.5"/>
<rect x="706.6" y="858.6" width="14.7" height="14.7" fill="#ff0000" stroke="#000" stroke-width="1.5"/>
<rect x="720.1" y="843.2" width="14.7" height="14.7" fill="#ff0000" stroke="#000" stroke-width="1.5"/>
<rect x="733.8" y="852.6" width="14.7" height="14.7" fill="#ff0000" stroke="#000" stroke-width="1.5"/>
<rect x="747.8" y="853.9" width="14.7" height="14.7" fill="#ff0000" stroke="#000" stroke-width="1.5"/>
<rect x="762.1" y="863.6" width="14.7" height="14.7" fill="#ff0000" stroke="#000" stroke-width="1.5"/>
<rect x="776.5" y="872.8" width="14.7" height="14.7" fill="#ff0000" stroke="#000" stroke-width="1.5"/>
<rect x="791.3" y="888.2" width="14.7" height="14.7" fill="#ff0000" stroke="#000" stroke-width="1.5"/>
<rect x="806.3" y="895.1" width="14.7" height="14.7" fill="#ff0000" stroke="#000" stroke-width="1.5"/>
<rect x="821.5" y="890.2" width="14.7" height="14.7" fill="#ff0000" stroke="#000" stroke-width="1.5"/>
<rect x="837.1" y="881.5" width="14.7" height="14.7" fill="#ff0000" stroke="#000" stroke-width="1.5"/>
<rect x="852.9" y="889.7" width="14.7" height="14.7" fill="#ff0000" stroke="#000" stroke-width="1.5"/>
<rect x="869.0" y="897.6" width="14.7" height="14.7" fill="#ff0000" stroke="#000" stroke-width="1.5"/>
<rect x="885.4" y="894.6" width="14.7" height="14.7" fill="#ff0000" stroke="#000" stroke-width="1.5"/>
<rect x="902.1" y="896.6" width="14.7" height="14.7" fill="#ff0000" stroke="#000" stroke-width="1.5"/>
<rect x="919.1" y="932.6" width="14.7" height="14.7" fill="#ff0000" stroke="#000" stroke-width="1.5"/>
<rect x="936.5" y="923.6" width="14.7" height="14.7" fill="#ff0000" stroke="#000" stroke-width="1.5"/>
<rect x="954.2" y="950.6" width="14.7" height="14.7" fill="#ff0000" stroke="#000" stroke-width="1.5"/>
<rect x="617.9" y="896.6" width="14.7" height="14.7" fill="#ffffff" stroke="#000" stroke-width="1.5"/>
<rect x="629.9" y="884.6" width="14.7" height="14.7" fill="#ffffff" stroke="#000" stroke-width="1.5"/>
<rect x="642.2" y="884.6" width="14.7" height="14.7" fill="#ffffff" stroke="#000" stroke-width="1.5"/>
<rect x="654.6" y="882.6" width="14.7" height="14.7" fill="#ffffff" stroke="#000" stroke-width="1.5"/>
<rect x="667.3" y="880.6" width="14.7" height="14.7" fill="#ffffff" stroke="#000" stroke-width="1.5"/>
<rect x="680.2" y="868.6" width="14.7" height="14.7" fill="#ffffff" stroke="#000" stroke-width="1.5"/>
<rect x="693.3" y="864.6" width="14.7" height="14.7" fill="#ffffff" stroke="#000" stroke-width="1.5"/>
<rect x="706.6" y="862.6" width="14.7" height="14.7" fill="#ffffff" stroke="#000" stroke-width="1.5"/>
<rect x="720.1" y="846.6" width="14.7" height="14.7" fill="#ffffff" stroke="#000" stroke-width="1.5"/>
<rect x="733.8" y="854.6" width="14.7" height="14.7" fill="#ffffff" stroke="#000" stroke-width="1.5"/>
<rect x="747.8" y="859.6" width="14.7" height="14.7" fill="#ffffff" stroke="#000" stroke-width="1.5"/>
<rect x="762.1" y="870.6" width="14.7" height="14.7" fill="#ffffff" stroke="#000" stroke-width="1.5"/>
<rect x="776.5" y="880.6" width="14.7" height="14.7" fill="#ffffff" stroke="#000" stroke-width="1.5"/>
<rect x="791.3" y="894.6" width="14.7" height="14.7" fill="#ffffff" stroke="#000" stroke-width="1.5"/>
<rect x="806.3" y="900.6" width="14.7" height="14.7" fill="#ffffff" stroke="#000" stroke-width="1.5"/>
<rect x="821.5" y="894.6" width="14.7" height="14.7" fill="#ffffff" stroke="#000" stroke-width="1.5"/>
<rect x="837.1" y="887.6" width="14.7" height="14.7" fill="#ffffff" stroke="#000" stroke-width="1.5"/>
<rect x="852.9" y="895.6" width="14.7" height="14.7" fill="#ffffff" stroke="#000" stroke-width="1.5"/>
<polygon points="189.5,1395.6 197.7,1410.4 181.3,1410.4" fill="#00ff00" stroke="#000" stroke-width="1.5" stroke-linejoin="miter"/>
<polygon points="195.6,1390.6 203.8,1405.4 187.4,1405.4" fill="#00ff00" stroke="#000" stroke-width="1.5" stroke-linejoin="miter"/>
<polygon points="201.8,1388.6 210.0,1403.4 193.6,1403.4" fill="#00ff00" stroke="#000" stroke-width="1.5" stroke-linejoin="miter"/>
<polygon points="208.1,1387.6 216.3,1402.4 199.9,1402.4" fill="#00ff00" stroke="#000" stroke-width="1.5" stroke-linejoin="miter"/>
<polygon points="214.4,1383.6 222.6,1398.4 206.2,1398.4" fill="#00ff00" stroke="#000" stroke-width="1.5" stroke-linejoin="miter"/>
<polygon points="220.9,1368.4 229.1,1383.2 212.7,1383.2" fill="#00ff00" stroke="#000" stroke-width="1.5" stroke-linejoin="miter"/>
<polygon points="227.3,1366.6 235.5,1381.4 219.1,1381.4" fill="#00ff00" stroke="#000" stroke-width="1.5" stroke-linejoin="miter"/>
<polygon points="233.9,1364.9 242.1,1379.7 225.7,1379.7" fill="#00ff00" stroke="#000" stroke-width="1.5" stroke-linejoin="miter"/>
<polygon points="240.6,1363.1 248.8,1377.9 232.4,1377.9" fill="#00ff00" stroke="#000" stroke-width="1.5" stroke-linejoin="miter"/>
<polygon points="247.3,1356.4 255.5,1371.2 239.1,1371.2" fill="#00ff00" stroke="#000" stroke-width="1.5" stroke-linejoin="miter"/>
<polygon points="254.1,1350.1 262.3,1364.9 245.9,1364.9" fill="#00ff00" stroke="#000" stroke-width="1.5" stroke-linejoin="miter"/>
<polygon points="261.0,1346.1 269.2,1360.9 252.8,1360.9" fill="#00ff00" stroke="#000" stroke-width="1.5" stroke-linejoin="miter"/>
<polygon points="267.9,1342.0 276.1,1356.8 259.7,1356.8" fill="#00ff00" stroke="#000" stroke-width="1.5" stroke-linejoin="miter"/>
<polygon points="275.0,1336.4 283.2,1351.2 266.8,1351.2" fill="#00ff00" stroke="#000" stroke-width="1.5" stroke-linejoin="miter"/>
<polygon points="282.1,1330.9 290.3,1345.7 273.9,1345.7" fill="#00ff00" stroke="#000" stroke-width="1.5" stroke-linejoin="miter"/>
<polygon points="289.3,1324.5 297.5,1339.3 281.1,1339.3" fill="#00ff00" stroke="#000" stroke-width="1.5" stroke-linejoin="miter"/>
<polygon points="296.7,1319.1 304.9,1333.9 288.5,1333.9" fill="#00ff00" stroke="#000" stroke-width="1.5" stroke-linejoin="miter"/>
<polygon points="304.1,1307.5 312.3,1322.3 295.9,1322.3" fill="#00ff00" stroke="#000" stroke-width="1.5" stroke-linejoin="miter"/>
<polygon points="311.6,1299.8 319.8,1314.6 303.4,1314.6" fill="#00ff00" stroke="#000" stroke-width="1.5" stroke-linejoin="miter"/>
<polygon points="319.2,1291.1 327.4,1305.9 311.0,1305.9" fill="#00ff00" stroke="#000" stroke-width="1.5" stroke-linejoin="miter"/>
<polygon points="326.8,1283.7 335.0,1298.5 318.6,1298.5" fill="#00ff00" stroke="#000" stroke-width="1.5" stroke-linejoin="miter"/>
<polygon points="334.6,1275.7 342.8,1290.5 326.4,1290.5" fill="#00ff00" stroke="#000" stroke-width="1.5" stroke-linejoin="miter"/>
<polygon points="342.5,1267.6 350.7,1282.4 334.3,1282.4" fill="#00ff00" stroke="#000" stroke-width="1.5" stroke-linejoin="miter"/>
<polygon points="350.5,1258.0 358.7,1272.8 342.3,1272.8" fill="#00ff00" stroke="#000" stroke-width="1.5" stroke-linejoin="miter"/>
<polygon points="358.6,1248.9 366.8,1263.7 350.4,1263.7" fill="#00ff00" stroke="#000" stroke-width="1.5" stroke-linejoin="miter"/>
<polygon points="366.8,1231.3 375.0,1246.1 358.6,1246.1" fill="#00ff00" stroke="#000" stroke-width="1.5" stroke-linejoin="miter"/>
<polygon points="375.1,1221.6 383.3,1236.4 366.9,1236.4" fill="#00ff00" stroke="#000" stroke-width="1.5" stroke-linejoin="miter"/>
<polygon points="383.5,1210.1 391.7,1224.9 375.3,1224.9" fill="#00ff00" stroke="#000" stroke-width="1.5" stroke-linejoin="miter"/>
<polygon points="392.0,1194.9 400.2,1209.7 383.8,1209.7" fill="#00ff00" stroke="#000" stroke-width="1.5" stroke-linejoin="miter"/>
<polygon points="400.7,1184.1 408.9,1198.9 392.5,1198.9" fill="#00ff00" stroke="#000" stroke-width="1.5" stroke-linejoin="miter"/>
<polygon points="409.4,1170.1 417.6,1184.9 401.2,1184.9" fill="#00ff00" stroke="#000" stroke-width="1.5" stroke-linejoin="miter"/>
<polygon points="418.3,1154.2 426.5,1169.0 410.1,1169.0" fill="#00ff00" stroke="#000" stroke-width="1.5" stroke-linejoin="miter"/>
<polygon points="427.3,1140.9 435.5,1155.7 419.1,1155.7" fill="#00ff00" stroke="#000" stroke-width="1.5" stroke-linejoin="miter"/>
<polygon points="436.4,1126.1 444.6,1140.9 428.2,1140.9" fill="#00ff00" stroke="#000" stroke-width="1.5" stroke-linejoin="miter"/>
<polygon points="445.7,1110.1 453.9,1124.9 437.5,1124.9" fill="#00ff00" stroke="#000" stroke-width="1.5" stroke-linejoin="miter"/>
<polygon points="455.1,1093.1 463.3,1107.9 446.9,1107.9" fill="#00ff00" stroke="#000" stroke-width="1.5" stroke-linejoin="miter"/>
<polygon points="464.6,1078.1 472.8,1092.9 456.4,1092.9" fill="#00ff00" stroke="#000" stroke-width="1.5" stroke-linejoin="miter"/>
<polygon points="474.2,1057.1 482.4,1071.9 466.0,1071.9" fill="#00ff00" stroke="#000" stroke-width="1.5" stroke-linejoin="miter"/>
<polygon points="484.0,1042.2 492.2,1057.0 475.8,1057.0" fill="#00ff00" stroke="#000" stroke-width="1.5" stroke-linejoin="miter"/>
<polygon points="493.9,1024.1 502.1,1038.9 485.7,1038.9" fill="#00ff00" stroke="#000" stroke-width="1.5" stroke-linejoin="miter"/>
<polygon points="504.0,1009.1 512.2,1023.9 495.8,1023.9" fill="#00ff00" stroke="#000" stroke-width="1.5" stroke-linejoin="miter"/>
<polygon points="514.2,990.1 522.4,1004.9 506.0,1004.9" fill="#00ff00" stroke="#000" stroke-width="1.5" stroke-linejoin="miter"/>
<polygon points="524.6,970.1 532.8,984.9 516.4,984.9" fill="#00ff00" stroke="#000" stroke-width="1.5" stroke-linejoin="miter"/>
<polygon points="535.1,960.1 543.3,974.9 526.9,974.9" fill="#00ff00" stroke="#000" stroke-width="1.5" stroke-linejoin="miter"/>
<polygon points="545.8,949.1 554.0,963.9 537.6,963.9" fill="#00ff00" stroke="#000" stroke-width="1.5" stroke-linejoin="miter"/>
<polygon points="556.6,931.6 564.8,946.4 548.4,946.4" fill="#00ff00" stroke="#000" stroke-width="1.5" stroke-linejoin="miter"/>
<polygon points="567.6,916.6 575.8,931.4 559.4,931.4" fill="#00ff00" stroke="#000" stroke-width="1.5" stroke-linejoin="miter"/>
<polygon points="578.8,907.6 587.0,922.4 570.6,922.4" fill="#00ff00" stroke="#000" stroke-width="1.5" stroke-linejoin="miter"/>
<polygon points="590.1,898.6 598.3,913.4 581.9,913.4" fill="#00ff00" stroke="#000" stroke-width="1.5" stroke-linejoin="miter"/>
<polygon points="601.6,889.0 609.8,903.8 593.4,903.8" fill="#00ff00" stroke="#000" stroke-width="1.5" stroke-linejoin="miter"/>
<polygon points="613.3,883.5 621.5,898.3 605.1,898.3" fill="#00ff00" stroke="#000" stroke-width="1.5" stroke-linejoin="miter"/>
<polygon points="625.2,873.5 633.4,888.3 617.0,888.3" fill="#00ff00" stroke="#000" stroke-width="1.5" stroke-linejoin="miter"/>
<polygon points="637.3,863.5 645.5,878.3 629.1,878.3" fill="#00ff00" stroke="#000" stroke-width="1.5" stroke-linejoin="miter"/>
<polygon points="649.5,864.5 657.7,879.3 641.3,879.3" fill="#00ff00" stroke="#000" stroke-width="1.5" stroke-linejoin="miter"/>
<polygon points="662.0,868.5 670.2,883.3 653.8,883.3" fill="#00ff00" stroke="#000" stroke-width="1.5" stroke-linejoin="miter"/>
<polygon points="674.7,864.5 682.9,879.3 666.5,879.3" fill="#00ff00" stroke="#000" stroke-width="1.5" stroke-linejoin="miter"/>
<polygon points="687.5,848.6 695.7,863.4 679.3,863.4" fill="#00ff00" stroke="#000" stroke-width="1.5" stroke-linejoin="miter"/>
<polygon points="700.6,843.6 708.8,858.4 692.4,858.4" fill="#00ff00" stroke="#000" stroke-width="1.5" stroke-linejoin="miter"/>
<polygon points="713.9,841.6 722.1,856.4 705.7,856.4" fill="#00ff00" stroke="#000" stroke-width="1.5" stroke-linejoin="miter"/>
<polygon points="727.4,824.6 735.6,839.4 719.2,839.4" fill="#00ff00" stroke="#000" stroke-width="1.5" stroke-linejoin="miter"/>
<polygon points="741.2,835.6 749.4,850.4 733.0,850.4" fill="#00ff00" stroke="#000" stroke-width="1.5" stroke-linejoin="miter"/>
<polygon points="755.2,840.6 763.4,855.4 747.0,855.4" fill="#00ff00" stroke="#000" stroke-width="1.5" stroke-linejoin="miter"/>
<polygon points="769.4,851.6 777.6,866.4 761.2,866.4" fill="#00ff00" stroke="#000" stroke-width="1.5" stroke-linejoin="miter"/>
<polygon points="783.9,862.6 792.1,877.4 775.7,877.4" fill="#00ff00" stroke="#000" stroke-width="1.5" stroke-linejoin="miter"/>
<polygon points="798.6,877.6 806.8,892.4 790.4,892.4" fill="#00ff00" stroke="#000" stroke-width="1.5" stroke-linejoin="miter"/>
<polygon points="813.6,887.6 821.8,902.4 805.4,902.4" fill="#00ff00" stroke="#000" stroke-width="1.5" stroke-linejoin="miter"/>
<polygon points="828.9,880.6 837.1,895.4 820.7,895.4" fill="#00ff00" stroke="#000" stroke-width="1.5" stroke-linejoin="miter"/>
<polygon points="844.4,868.6 852.6,883.4 836.2,883.4" fill="#00ff00" stroke="#000" stroke-width="1.5" stroke-linejoin="miter"/>
<polygon points="860.2,884.6 868.4,899.4 852.0,899.4" fill="#00ff00" stroke="#000" stroke-width="1.5" stroke-linejoin="miter"/>
<polygon points="876.3,905.6 884.5,920.4 868.1,920.4" fill="#00ff00" stroke="#000" stroke-width="1.5" stroke-linejoin="miter"/>
<polygon points="892.7,901.6 900.9,916.4 884.5,916.4" fill="#00ff00" stroke="#000" stroke-width="1.5" stroke-linejoin="miter"/>
<polygon points="909.5,901.6 917.7,916.4 901.3,916.4" fill="#00ff00" stroke="#000" stroke-width="1.5" stroke-linejoin="miter"/>
<polygon points="926.5,921.6 934.7,936.4 918.3,936.4" fill="#00ff00" stroke="#000" stroke-width="1.5" stroke-linejoin="miter"/>
<polygon points="943.8,937.6 952.0,952.4 935.6,952.4" fill="#00ff00" stroke="#000" stroke-width="1.5" stroke-linejoin="miter"/>
<polygon points="961.5,960.6 969.7,975.4 953.3,975.4" fill="#00ff00" stroke="#000" stroke-width="1.5" stroke-linejoin="miter"/>
<polygon points="189.5,1407.4 197.7,1392.6 181.3,1392.6" fill="#ffff00" stroke="#000" stroke-width="1.5" stroke-linejoin="miter"/>
<polygon points="195.6,1402.4 203.8,1387.6 187.4,1387.6" fill="#ffff00" stroke="#000" stroke-width="1.5" stroke-linejoin="miter"/>
<polygon points="201.8,1397.4 210.0,1382.6 193.6,1382.6" fill="#ffff00" stroke="#000" stroke-width="1.5" stroke-linejoin="miter"/>
<polygon points="208.1,1393.8 216.3,1379.0 199.9,1379.0" fill="#ffff00" stroke="#000" stroke-width="1.5" stroke-linejoin="miter"/>
<polygon points="214.4,1389.9 222.6,1375.1 206.2,1375.1" fill="#ffff00" stroke="#000" stroke-width="1.5" stroke-linejoin="miter"/>
<polygon points="220.9,1386.4 229.1,1371.6 212.7,1371.6" fill="#ffff00" stroke="#000" stroke-width="1.5" stroke-linejoin="miter"/>
<polygon points="227.3,1384.4 235.5,1369.6 219.1,1369.6" fill="#ffff00" stroke="#000" stroke-width="1.5" stroke-linejoin="miter"/>
<polygon points="233.9,1382.7 242.1,1367.9 225.7,1367.9" fill="#ffff00" stroke="#000" stroke-width="1.5" stroke-linejoin="miter"/>
<polygon points="240.6,1380.8 248.8,1366.0 232.4,1366.0" fill="#ffff00" stroke="#000" stroke-width="1.5" stroke-linejoin="miter"/>
<polygon points="247.3,1373.9 255.5,1359.1 239.1,1359.1" fill="#ffff00" stroke="#000" stroke-width="1.5" stroke-linejoin="miter"/>
<polygon points="254.1,1367.5 262.3,1352.7 245.9,1352.7" fill="#ffff00" stroke="#000" stroke-width="1.5" stroke-linejoin="miter"/>
<polygon points="261.0,1363.6 269.2,1348.8 252.8,1348.8" fill="#ffff00" stroke="#000" stroke-width="1.5" stroke-linejoin="miter"/>
<polygon points="267.9,1359.4 276.1,1344.6 259.7,1344.6" fill="#ffff00" stroke="#000" stroke-width="1.5" stroke-linejoin="miter"/>
<polygon points="275.0,1353.5 283.2,1338.7 266.8,1338.7" fill="#ffff00" stroke="#000" stroke-width="1.5" stroke-linejoin="miter"/>
<polygon points="282.1,1347.9 290.3,1333.1 273.9,1333.1" fill="#ffff00" stroke="#000" stroke-width="1.5" stroke-linejoin="miter"/>
<polygon points="289.3,1341.3 297.5,1326.5 281.1,1326.5" fill="#ffff00" stroke="#000" stroke-width="1.5" stroke-linejoin="miter"/>
<polygon points="296.7,1336.0 304.9,1321.2 288.5,1321.2" fill="#ffff00" stroke="#000" stroke-width="1.5" stroke-linejoin="miter"/>
<polygon points="304.1,1328.9 312.3,1314.1 295.9,1314.1" fill="#ffff00" stroke="#000" stroke-width="1.5" stroke-linejoin="miter"/>
<polygon points="311.6,1321.4 319.8,1306.6 303.4,1306.6" fill="#ffff00" stroke="#000" stroke-width="1.5" stroke-linejoin="miter"/>
<polygon points="319.2,1312.7 327.4,1297.9 311.0,1297.9" fill="#ffff00" stroke="#000" stroke-width="1.5" stroke-linejoin="miter"/>
<polygon points="326.8,1305.4 335.0,1290.6 318.6,1290.6" fill="#ffff00" stroke="#000" stroke-width="1.5" stroke-linejoin="miter"/>
<polygon points="334.6,1297.3 342.8,1282.5 326.4,1282.5" fill="#ffff00" stroke="#000" stroke-width="1.5" stroke-linejoin="miter"/>
<polygon points="342.5,1289.2 350.7,1274.4 334.3,1274.4" fill="#ffff00" stroke="#000" stroke-width="1.5" stroke-linejoin="miter"/>
<polygon points="350.5,1279.4 358.7,1264.6 342.3,1264.6" fill="#ffff00" stroke="#000" stroke-width="1.5" stroke-linejoin="miter"/>
<polygon points="358.6,1270.4 366.8,1255.6 350.4,1255.6" fill="#ffff00" stroke="#000" stroke-width="1.5" stroke-linejoin="miter"/>
<polygon points="366.8,1258.4 375.0,1243.6 358.6,1243.6" fill="#ffff00" stroke="#000" stroke-width="1.5" stroke-linejoin="miter"/>
<polygon points="375.1,1248.7 383.3,1233.9 366.9,1233.9" fill="#ffff00" stroke="#000" stroke-width="1.5" stroke-linejoin="miter"/>
<polygon points="383.5,1239.9 391.7,1225.1 375.3,1225.1" fill="#ffff00" stroke="#000" stroke-width="1.5" stroke-linejoin="miter"/>
<polygon points="392.0,1225.9 400.2,1211.1 383.8,1211.1" fill="#ffff00" stroke="#000" stroke-width="1.5" stroke-linejoin="miter"/>
<polygon points="400.7,1217.4 408.9,1202.6 392.5,1202.6" fill="#ffff00" stroke="#000" stroke-width="1.5" stroke-linejoin="miter"/>
<polygon points="409.4,1201.4 417.6,1186.6 401.2,1186.6" fill="#ffff00" stroke="#000" stroke-width="1.5" stroke-linejoin="miter"/>
<polygon points="418.3,1187.6 426.5,1172.8 410.1,1172.8" fill="#ffff00" stroke="#000" stroke-width="1.5" stroke-linejoin="miter"/>
<polygon points="427.3,1174.4 435.5,1159.6 419.1,1159.6" fill="#ffff00" stroke="#000" stroke-width="1.5" stroke-linejoin="miter"/>
<polygon points="436.4,1161.1 444.6,1146.3 428.2,1146.3" fill="#ffff00" stroke="#000" stroke-width="1.5" stroke-linejoin="miter"/>
<polygon points="445.7,1146.4 453.9,1131.6 437.5,1131.6" fill="#ffff00" stroke="#000" stroke-width="1.5" stroke-linejoin="miter"/>
<polygon points="455.1,1128.4 463.3,1113.6 446.9,1113.6" fill="#ffff00" stroke="#000" stroke-width="1.5" stroke-linejoin="miter"/>
<polygon points="464.6,1112.4 472.8,1097.6 456.4,1097.6" fill="#ffff00" stroke="#000" stroke-width="1.5" stroke-linejoin="miter"/>
<polygon points="474.2,1094.4 482.4,1079.6 466.0,1079.6" fill="#ffff00" stroke="#000" stroke-width="1.5" stroke-linejoin="miter"/>
<polygon points="484.0,1079.4 492.2,1064.6 475.8,1064.6" fill="#ffff00" stroke="#000" stroke-width="1.5" stroke-linejoin="miter"/>
<polygon points="493.9,1067.2 502.1,1052.4 485.7,1052.4" fill="#ffff00" stroke="#000" stroke-width="1.5" stroke-linejoin="miter"/>
<polygon points="504.0,1052.4 512.2,1037.6 495.8,1037.6" fill="#ffff00" stroke="#000" stroke-width="1.5" stroke-linejoin="miter"/>
<polygon points="514.2,1035.4 522.4,1020.6 506.0,1020.6" fill="#ffff00" stroke="#000" stroke-width="1.5" stroke-linejoin="miter"/>
<polygon points="524.6,1018.4 532.8,1003.6 516.4,1003.6" fill="#ffff00" stroke="#000" stroke-width="1.5" stroke-linejoin="miter"/>
<polygon points="535.1,1010.4 543.3,995.6 526.9,995.6" fill="#ffff00" stroke="#000" stroke-width="1.5" stroke-linejoin="miter"/>
<polygon points="545.8,999.4 554.0,984.6 537.6,984.6" fill="#ffff00" stroke="#000" stroke-width="1.5" stroke-linejoin="miter"/>
<polygon points="556.6,982.4 564.8,967.6 548.4,967.6" fill="#ffff00" stroke="#000" stroke-width="1.5" stroke-linejoin="miter"/>
<polygon points="567.6,967.4 575.8,952.6 559.4,952.6" fill="#ffff00" stroke="#000" stroke-width="1.5" stroke-linejoin="miter"/>
<polygon points="578.8,955.4 587.0,940.6 570.6,940.6" fill="#ffff00" stroke="#000" stroke-width="1.5" stroke-linejoin="miter"/>
<polygon points="590.1,943.4 598.3,928.6 581.9,928.6" fill="#ffff00" stroke="#000" stroke-width="1.5" stroke-linejoin="miter"/>
<polygon points="601.6,934.4 609.8,919.6 593.4,919.6" fill="#ffff00" stroke="#000" stroke-width="1.5" stroke-linejoin="miter"/>
<polygon points="613.3,927.4 621.5,912.6 605.1,912.6" fill="#ffff00" stroke="#000" stroke-width="1.5" stroke-linejoin="miter"/>
<polygon points="625.2,919.4 633.4,904.6 617.0,904.6" fill="#ffff00" stroke="#000" stroke-width="1.5" stroke-linejoin="miter"/>
<polygon points="637.3,909.4 645.5,894.6 629.1,894.6" fill="#ffff00" stroke="#000" stroke-width="1.5" stroke-linejoin="miter"/>
<polygon points="649.5,908.4 657.7,893.6 641.3,893.6" fill="#ffff00" stroke="#000" stroke-width="1.5" stroke-linejoin="miter"/>
<polygon points="662.0,905.4 670.2,890.6 653.8,890.6" fill="#ffff00" stroke="#000" stroke-width="1.5" stroke-linejoin="miter"/>
<polygon points="674.7,902.4 682.9,887.6 666.5,887.6" fill="#ffff00" stroke="#000" stroke-width="1.5" stroke-linejoin="miter"/>
<polygon points="687.5,890.9 695.7,876.1 679.3,876.1" fill="#ffff00" stroke="#000" stroke-width="1.5" stroke-linejoin="miter"/>
<polygon points="700.6,887.4 708.8,872.6 692.4,872.6" fill="#ffff00" stroke="#000" stroke-width="1.5" stroke-linejoin="miter"/>
<polygon points="713.9,884.9 722.1,870.1 705.7,870.1" fill="#ffff00" stroke="#000" stroke-width="1.5" stroke-linejoin="miter"/>
<polygon points="727.4,868.9 735.6,854.1 719.2,854.1" fill="#ffff00" stroke="#000" stroke-width="1.5" stroke-linejoin="miter"/>
<polygon points="741.2,877.9 749.4,863.1 733.0,863.1" fill="#ffff00" stroke="#000" stroke-width="1.5" stroke-linejoin="miter"/>
<polygon points="755.2,880.9 763.4,866.1 747.0,866.1" fill="#ffff00" stroke="#000" stroke-width="1.5" stroke-linejoin="miter"/>
<polygon points="769.4,891.4 777.6,876.6 761.2,876.6" fill="#ffff00" stroke="#000" stroke-width="1.5" stroke-linejoin="miter"/>
<polygon points="783.9,900.4 792.1,885.6 775.7,885.6" fill="#ffff00" stroke="#000" stroke-width="1.5" stroke-linejoin="miter"/>
<polygon points="798.6,916.4 806.8,901.6 790.4,901.6" fill="#ffff00" stroke="#000" stroke-width="1.5" stroke-linejoin="miter"/>
<polygon points="813.6,922.4 821.8,907.6 805.4,907.6" fill="#ffff00" stroke="#000" stroke-width="1.5" stroke-linejoin="miter"/>
<polygon points="828.9,916.4 837.1,901.6 820.7,901.6" fill="#ffff00" stroke="#000" stroke-width="1.5" stroke-linejoin="miter"/>
<polygon points="844.4,907.4 852.6,892.6 836.2,892.6" fill="#ffff00" stroke="#000" stroke-width="1.5" stroke-linejoin="miter"/>
<polygon points="860.2,917.4 868.4,902.6 852.0,902.6" fill="#ffff00" stroke="#000" stroke-width="1.5" stroke-linejoin="miter"/>
<polygon points="876.3,941.4 884.5,926.6 868.1,926.6" fill="#ffff00" stroke="#000" stroke-width="1.5" stroke-linejoin="miter"/>
<polygon points="892.7,940.4 900.9,925.6 884.5,925.6" fill="#ffff00" stroke="#000" stroke-width="1.5" stroke-linejoin="miter"/>
<polygon points="909.5,932.4 917.7,917.6 901.3,917.6" fill="#ffff00" stroke="#000" stroke-width="1.5" stroke-linejoin="miter"/>
<polygon points="926.5,954.4 934.7,939.6 918.3,939.6" fill="#ffff00" stroke="#000" stroke-width="1.5" stroke-linejoin="miter"/>
<polygon points="943.8,962.4 952.0,947.6 935.6,947.6" fill="#ffff00" stroke="#000" stroke-width="1.5" stroke-linejoin="miter"/>
<polygon points="961.5,979.9 969.7,965.1 953.3,965.1" fill="#ffff00" stroke="#000" stroke-width="1.5" stroke-linejoin="miter"/>
<polygon points="165.7,1385.4 175.7,1395.0 165.7,1404.6 155.7,1395.0" fill="#0000ff" stroke="#000" stroke-width="1.5" stroke-linejoin="miter"/>
<polygon points="171.5,1381.5 181.5,1391.1 171.5,1400.7 161.5,1391.1" fill="#0000ff" stroke="#000" stroke-width="1.5" stroke-linejoin="miter"/>
<polygon points="177.4,1377.2 187.4,1386.8 177.4,1396.4 167.4,1386.8" fill="#0000ff" stroke="#000" stroke-width="1.5" stroke-linejoin="miter"/>
<polygon points="183.4,1373.3 193.4,1382.9 183.4,1392.5 173.4,1382.9" fill="#0000ff" stroke="#000" stroke-width="1.5" stroke-linejoin="miter"/>
<polygon points="189.5,1369.7 199.5,1379.3 189.5,1388.9 179.5,1379.3" fill="#0000ff" stroke="#000" stroke-width="1.5" stroke-linejoin="miter"/>
<polygon points="195.6,1366.0 205.6,1375.6 195.6,1385.2 185.6,1375.6" fill="#0000ff" stroke="#000" stroke-width="1.5" stroke-linejoin="miter"/>
<polygon points="201.8,1363.4 211.8,1373.0 201.8,1382.6 191.8,1373.0" fill="#0000ff" stroke="#000" stroke-width="1.5" stroke-linejoin="miter"/>
<polygon points="208.1,1358.1 218.1,1367.7 208.1,1377.3 198.1,1367.7" fill="#0000ff" stroke="#000" stroke-width="1.5" stroke-linejoin="miter"/>
<polygon points="214.4,1354.0 224.4,1363.6 214.4,1373.2 204.4,1363.6" fill="#0000ff" stroke="#000" stroke-width="1.5" stroke-linejoin="miter"/>
<polygon points="220.9,1350.4 230.9,1360.0 220.9,1369.6 210.9,1360.0" fill="#0000ff" stroke="#000" stroke-width="1.5" stroke-linejoin="miter"/>
<polygon points="227.3,1345.1 237.3,1354.7 227.3,1364.3 217.3,1354.7" fill="#0000ff" stroke="#000" stroke-width="1.5" stroke-linejoin="miter"/>
<polygon points="233.9,1340.4 243.9,1350.0 233.9,1359.6 223.9,1350.0" fill="#0000ff" stroke="#000" stroke-width="1.5" stroke-linejoin="miter"/>
<polygon points="240.6,1335.4 250.6,1345.0 240.6,1354.6 230.6,1345.0" fill="#0000ff" stroke="#000" stroke-width="1.5" stroke-linejoin="miter"/>
<polygon points="247.3,1329.8 257.3,1339.4 247.3,1349.0 237.3,1339.4" fill="#0000ff" stroke="#000" stroke-width="1.5" stroke-linejoin="miter"/>
<polygon points="254.1,1324.2 264.1,1333.8 254.1,1343.4 244.1,1333.8" fill="#0000ff" stroke="#000" stroke-width="1.5" stroke-linejoin="miter"/>
<polygon points="261.0,1318.6 271.0,1328.2 261.0,1337.8 251.0,1328.2" fill="#0000ff" stroke="#000" stroke-width="1.5" stroke-linejoin="miter"/>
<polygon points="267.9,1313.0 277.9,1322.6 267.9,1332.2 257.9,1322.6" fill="#0000ff" stroke="#000" stroke-width="1.5" stroke-linejoin="miter"/>
<polygon points="275.0,1307.4 285.0,1317.0 275.0,1326.6 265.0,1317.0" fill="#0000ff" stroke="#000" stroke-width="1.5" stroke-linejoin="miter"/>
<polygon points="282.1,1302.4 292.1,1312.0 282.1,1321.6 272.1,1312.0" fill="#0000ff" stroke="#000" stroke-width="1.5" stroke-linejoin="miter"/>
<polygon points="289.3,1292.4 299.3,1302.0 289.3,1311.6 279.3,1302.0" fill="#0000ff" stroke="#000" stroke-width="1.5" stroke-linejoin="miter"/>
<polygon points="296.7,1284.4 306.7,1294.0 296.7,1303.6 286.7,1294.0" fill="#0000ff" stroke="#000" stroke-width="1.5" stroke-linejoin="miter"/>
<polygon points="304.1,1278.7 314.1,1288.3 304.1,1297.9 294.1,1288.3" fill="#0000ff" stroke="#000" stroke-width="1.5" stroke-linejoin="miter"/>
<polygon points="311.6,1270.4 321.6,1280.0 311.6,1289.6 301.6,1280.0" fill="#0000ff" stroke="#000" stroke-width="1.5" stroke-linejoin="miter"/>
<polygon points="319.2,1263.4 329.2,1273.0 319.2,1282.6 309.2,1273.0" fill="#0000ff" stroke="#000" stroke-width="1.5" stroke-linejoin="miter"/>
<polygon points="326.8,1253.4 336.8,1263.0 326.8,1272.6 316.8,1263.0" fill="#0000ff" stroke="#000" stroke-width="1.5" stroke-linejoin="miter"/>
<polygon points="334.6,1245.0 344.6,1254.6 334.6,1264.2 324.6,1254.6" fill="#0000ff" stroke="#000" stroke-width="1.5" stroke-linejoin="miter"/>
<polygon points="342.5,1235.7 352.5,1245.3 342.5,1254.9 332.5,1245.3" fill="#0000ff" stroke="#000" stroke-width="1.5" stroke-linejoin="miter"/>
<polygon points="350.5,1225.4 360.5,1235.0 350.5,1244.6 340.5,1235.0" fill="#0000ff" stroke="#000" stroke-width="1.5" stroke-linejoin="miter"/>
<polygon points="358.6,1214.9 368.6,1224.5 358.6,1234.1 348.6,1224.5" fill="#0000ff" stroke="#000" stroke-width="1.5" stroke-linejoin="miter"/>
<polygon points="366.8,1204.4 376.8,1214.0 366.8,1223.6 356.8,1214.0" fill="#0000ff" stroke="#000" stroke-width="1.5" stroke-linejoin="miter"/>
<polygon points="375.1,1193.9 385.1,1203.5 375.1,1213.1 365.1,1203.5" fill="#0000ff" stroke="#000" stroke-width="1.5" stroke-linejoin="miter"/>
<polygon points="383.5,1181.9 393.5,1191.5 383.5,1201.1 373.5,1191.5" fill="#0000ff" stroke="#000" stroke-width="1.5" stroke-linejoin="miter"/>
<polygon points="392.0,1168.9 402.0,1178.5 392.0,1188.1 382.0,1178.5" fill="#0000ff" stroke="#000" stroke-width="1.5" stroke-linejoin="miter"/>
<polygon points="400.7,1156.4 410.7,1166.0 400.7,1175.6 390.7,1166.0" fill="#0000ff" stroke="#000" stroke-width="1.5" stroke-linejoin="miter"/>
<polygon points="409.4,1141.4 419.4,1151.0 409.4,1160.6 399.4,1151.0" fill="#0000ff" stroke="#000" stroke-width="1.5" stroke-linejoin="miter"/>
<polygon points="418.3,1125.4 428.3,1135.0 418.3,1144.6 408.3,1135.0" fill="#0000ff" stroke="#000" stroke-width="1.5" stroke-linejoin="miter"/>
<polygon points="427.3,1110.4 437.3,1120.0 427.3,1129.6 417.3,1120.0" fill="#0000ff" stroke="#000" stroke-width="1.5" stroke-linejoin="miter"/>
<polygon points="436.4,1096.4 446.4,1106.0 436.4,1115.6 426.4,1106.0" fill="#0000ff" stroke="#000" stroke-width="1.5" stroke-linejoin="miter"/>
<polygon points="445.7,1080.4 455.7,1090.0 445.7,1099.6 435.7,1090.0" fill="#0000ff" stroke="#000" stroke-width="1.5" stroke-linejoin="miter"/>
<polygon points="455.1,1064.4 465.1,1074.0 455.1,1083.6 445.1,1074.0" fill="#0000ff" stroke="#000" stroke-width="1.5" stroke-linejoin="miter"/>
<polygon points="464.6,1047.4 474.6,1057.0 464.6,1066.6 454.6,1057.0" fill="#0000ff" stroke="#000" stroke-width="1.5" stroke-linejoin="miter"/>
<polygon points="474.2,1030.4 484.2,1040.0 474.2,1049.6 464.2,1040.0" fill="#0000ff" stroke="#000" stroke-width="1.5" stroke-linejoin="miter"/>
<polygon points="484.0,1007.9 494.0,1017.5 484.0,1027.1 474.0,1017.5" fill="#0000ff" stroke="#000" stroke-width="1.5" stroke-linejoin="miter"/>
<polygon points="493.9,996.9 503.9,1006.5 493.9,1016.1 483.9,1006.5" fill="#0000ff" stroke="#000" stroke-width="1.5" stroke-linejoin="miter"/>
<polygon points="504.0,981.4 514.0,991.0 504.0,1000.6 494.0,991.0" fill="#0000ff" stroke="#000" stroke-width="1.5" stroke-linejoin="miter"/>
<polygon points="514.2,959.9 524.2,969.5 514.2,979.1 504.2,969.5" fill="#0000ff" stroke="#000" stroke-width="1.5" stroke-linejoin="miter"/>
<polygon points="524.6,940.9 534.6,950.5 524.6,960.1 514.6,950.5" fill="#0000ff" stroke="#000" stroke-width="1.5" stroke-linejoin="miter"/>
<polygon points="535.1,933.4 545.1,943.0 535.1,952.6 525.1,943.0" fill="#0000ff" stroke="#000" stroke-width="1.5" stroke-linejoin="miter"/>
<polygon points="545.8,924.4 555.8,934.0 545.8,943.6 535.8,934.0" fill="#0000ff" stroke="#000" stroke-width="1.5" stroke-linejoin="miter"/>
<polygon points="556.6,906.4 566.6,916.0 556.6,925.6 546.6,916.0" fill="#0000ff" stroke="#000" stroke-width="1.5" stroke-linejoin="miter"/>
<polygon points="567.6,891.4 577.6,901.0 567.6,910.6 557.6,901.0" fill="#0000ff" stroke="#000" stroke-width="1.5" stroke-linejoin="miter"/>
<polygon points="578.8,883.4 588.8,893.0 578.8,902.6 568.8,893.0" fill="#0000ff" stroke="#000" stroke-width="1.5" stroke-linejoin="miter"/>
<polygon points="590.1,875.4 600.1,885.0 590.1,894.6 580.1,885.0" fill="#0000ff" stroke="#000" stroke-width="1.5" stroke-linejoin="miter"/>
<polygon points="601.6,864.8 611.6,874.4 601.6,884.0 591.6,874.4" fill="#0000ff" stroke="#000" stroke-width="1.5" stroke-linejoin="miter"/>
<polygon points="613.3,858.8 623.3,868.4 613.3,878.0 603.3,868.4" fill="#0000ff" stroke="#000" stroke-width="1.5" stroke-linejoin="miter"/>
<polygon points="625.2,849.8 635.2,859.4 625.2,869.0 615.2,859.4" fill="#0000ff" stroke="#000" stroke-width="1.5" stroke-linejoin="miter"/>
<polygon points="637.3,838.8 647.3,848.4 637.3,858.0 627.3,848.4" fill="#0000ff" stroke="#000" stroke-width="1.5" stroke-linejoin="miter"/>
<polygon points="649.5,841.8 659.5,851.4 649.5,861.0 639.5,851.4" fill="#0000ff" stroke="#000" stroke-width="1.5" stroke-linejoin="miter"/>
<polygon points="662.0,845.8 672.0,855.4 662.0,865.0 652.0,855.4" fill="#0000ff" stroke="#000" stroke-width="1.5" stroke-linejoin="miter"/>
<polygon points="674.7,841.8 684.7,851.4 674.7,861.0 664.7,851.4" fill="#0000ff" stroke="#000" stroke-width="1.5" stroke-linejoin="miter"/>
<polygon points="687.5,830.8 697.5,840.4 687.5,850.0 677.5,840.4" fill="#0000ff" stroke="#000" stroke-width="1.5" stroke-linejoin="miter"/>
<polygon points="700.6,829.8 710.6,839.4 700.6,849.0 690.6,839.4" fill="#0000ff" stroke="#000" stroke-width="1.5" stroke-linejoin="miter"/>
<polygon points="713.9,830.8 723.9,840.4 713.9,850.0 703.9,840.4" fill="#0000ff" stroke="#000" stroke-width="1.5" stroke-linejoin="miter"/>
<polygon points="727.4,815.8 737.4,825.4 727.4,835.0 717.4,825.4" fill="#0000ff" stroke="#000" stroke-width="1.5" stroke-linejoin="miter"/>
<polygon points="741.2,827.8 751.2,837.4 741.2,847.0 731.2,837.4" fill="#0000ff" stroke="#000" stroke-width="1.5" stroke-linejoin="miter"/>
<polygon points="755.2,833.8 765.2,843.4 755.2,853.0 745.2,843.4" fill="#0000ff" stroke="#000" stroke-width="1.5" stroke-linejoin="miter"/>
<polygon points="769.4,845.8 779.4,855.4 769.4,865.0 759.4,855.4" fill="#0000ff" stroke="#000" stroke-width="1.5" stroke-linejoin="miter"/>
<polygon points="783.9,860.4 793.9,870.0 783.9,879.6 773.9,870.0" fill="#0000ff" stroke="#000" stroke-width="1.5" stroke-linejoin="miter"/>
<polygon points="798.6,879.4 808.6,889.0 798.6,898.6 788.6,889.0" fill="#0000ff" stroke="#000" stroke-width="1.5" stroke-linejoin="miter"/>
<polygon points="813.6,890.4 823.6,900.0 813.6,909.6 803.6,900.0" fill="#0000ff" stroke="#000" stroke-width="1.5" stroke-linejoin="miter"/>
<polygon points="828.9,881.4 838.9,891.0 828.9,900.6 818.9,891.0" fill="#0000ff" stroke="#000" stroke-width="1.5" stroke-linejoin="miter"/>
<polygon points="844.4,868.4 854.4,878.0 844.4,887.6 834.4,878.0" fill="#0000ff" stroke="#000" stroke-width="1.5" stroke-linejoin="miter"/>
<polygon points="860.2,882.4 870.2,892.0 860.2,901.6 850.2,892.0" fill="#0000ff" stroke="#000" stroke-width="1.5" stroke-linejoin="miter"/>
<polygon points="876.3,905.4 886.3,915.0 876.3,924.6 866.3,915.0" fill="#0000ff" stroke="#000" stroke-width="1.5" stroke-linejoin="miter"/>
<polygon points="892.7,902.4 902.7,912.0 892.7,921.6 882.7,912.0" fill="#0000ff" stroke="#000" stroke-width="1.5" stroke-linejoin="miter"/>
<polygon points="909.5,902.4 919.5,912.0 909.5,921.6 899.5,912.0" fill="#0000ff" stroke="#000" stroke-width="1.5" stroke-linejoin="miter"/>
<polygon points="926.5,910.4 936.5,920.0 926.5,929.6 916.5,920.0" fill="#0000ff" stroke="#000" stroke-width="1.5" stroke-linejoin="miter"/>
<polygon points="943.8,935.4 953.8,945.0 943.8,954.6 933.8,945.0" fill="#0000ff" stroke="#000" stroke-width="1.5" stroke-linejoin="miter"/>
<polygon points="961.5,938.4 971.5,948.0 961.5,957.6 951.5,948.0" fill="#0000ff" stroke="#000" stroke-width="1.5" stroke-linejoin="miter"/>
<polygon points="165.7,1365.0 172.7,1369.5 172.7,1378.5 165.7,1383.0 158.7,1378.5 158.7,1369.5" fill="#ff00ff" stroke="#000" stroke-width="1.5" stroke-linejoin="miter"/>
<polygon points="171.5,1360.0 178.5,1364.5 178.5,1373.5 171.5,1378.0 164.5,1373.5 164.5,1364.5" fill="#ff00ff" stroke="#000" stroke-width="1.5" stroke-linejoin="miter"/>
<polygon points="177.4,1357.0 184.4,1361.5 184.4,1370.5 177.4,1375.0 170.4,1370.5 170.4,1361.5" fill="#ff00ff" stroke="#000" stroke-width="1.5" stroke-linejoin="miter"/>
<polygon points="183.4,1354.5 190.4,1359.0 190.4,1368.0 183.4,1372.5 176.4,1368.0 176.4,1359.0" fill="#ff00ff" stroke="#000" stroke-width="1.5" stroke-linejoin="miter"/>
<polygon points="189.5,1351.5 196.5,1356.0 196.5,1365.0 189.5,1369.5 182.5,1365.0 182.5,1356.0" fill="#ff00ff" stroke="#000" stroke-width="1.5" stroke-linejoin="miter"/>
<polygon points="195.6,1348.5 202.6,1353.0 202.6,1362.0 195.6,1366.5 188.6,1362.0 188.6,1353.0" fill="#ff00ff" stroke="#000" stroke-width="1.5" stroke-linejoin="miter"/>
<polygon points="201.8,1345.0 208.8,1349.5 208.8,1358.5 201.8,1363.0 194.8,1358.5 194.8,1349.5" fill="#ff00ff" stroke="#000" stroke-width="1.5" stroke-linejoin="miter"/>
<polygon points="208.1,1342.0 215.1,1346.5 215.1,1355.5 208.1,1360.0 201.1,1355.5 201.1,1346.5" fill="#ff00ff" stroke="#000" stroke-width="1.5" stroke-linejoin="miter"/>
<polygon points="214.4,1338.0 221.4,1342.5 221.4,1351.5 214.4,1356.0 207.4,1351.5 207.4,1342.5" fill="#ff00ff" stroke="#000" stroke-width="1.5" stroke-linejoin="miter"/>
<polygon points="220.9,1332.3 227.9,1336.8 227.9,1345.8 220.9,1350.3 213.9,1345.8 213.9,1336.8" fill="#ff00ff" stroke="#000" stroke-width="1.5" stroke-linejoin="miter"/>
<polygon points="227.3,1325.5 234.3,1330.0 234.3,1339.0 227.3,1343.5 220.3,1339.0 220.3,1330.0" fill="#ff00ff" stroke="#000" stroke-width="1.5" stroke-linejoin="miter"/>
<polygon points="233.9,1318.5 240.9,1323.0 240.9,1332.0 233.9,1336.5 226.9,1332.0 226.9,1323.0" fill="#ff00ff" stroke="#000" stroke-width="1.5" stroke-linejoin="miter"/>
<polygon points="240.6,1311.5 247.6,1316.0 247.6,1325.0 240.6,1329.5 233.6,1325.0 233.6,1316.0" fill="#ff00ff" stroke="#000" stroke-width="1.5" stroke-linejoin="miter"/>
<polygon points="247.3,1304.4 254.3,1308.9 254.3,1317.9 247.3,1322.4 240.3,1317.9 240.3,1308.9" fill="#ff00ff" stroke="#000" stroke-width="1.5" stroke-linejoin="miter"/>
<polygon points="254.1,1297.9 261.1,1302.4 261.1,1311.4 254.1,1315.9 247.1,1311.4 247.1,1302.4" fill="#ff00ff" stroke="#000" stroke-width="1.5" stroke-linejoin="miter"/>
<polygon points="261.0,1292.0 268.0,1296.5 268.0,1305.5 261.0,1310.0 254.0,1305.5 254.0,1296.5" fill="#ff00ff" stroke="#000" stroke-width="1.5" stroke-linejoin="miter"/>
<polygon points="267.9,1286.1 274.9,1290.6 274.9,1299.6 267.9,1304.1 260.9,1299.6 260.9,1290.6" fill="#ff00ff" stroke="#000" stroke-width="1.5" stroke-linejoin="miter"/>
<polygon points="275.0,1279.5 282.0,1284.0 282.0,1293.0 275.0,1297.5 268.0,1293.0 268.0,1284.0" fill="#ff00ff" stroke="#000" stroke-width="1.5" stroke-linejoin="miter"/>
<polygon points="282.1,1272.4 289.1,1276.9 289.1,1285.9 282.1,1290.4 275.1,1285.9 275.1,1276.9" fill="#ff00ff" stroke="#000" stroke-width="1.5" stroke-linejoin="miter"/>
<polygon points="289.3,1263.5 296.3,1268.0 296.3,1277.0 289.3,1281.5 282.3,1277.0 282.3,1268.0" fill="#ff00ff" stroke="#000" stroke-width="1.5" stroke-linejoin="miter"/>
<polygon points="296.7,1258.0 303.7,1262.5 303.7,1271.5 296.7,1276.0 289.7,1271.5 289.7,1262.5" fill="#ff00ff" stroke="#000" stroke-width="1.5" stroke-linejoin="miter"/>
<polygon points="304.1,1250.5 311.1,1255.0 311.1,1264.0 304.1,1268.5 297.1,1264.0 297.1,1255.0" fill="#ff00ff" stroke="#000" stroke-width="1.5" stroke-linejoin="miter"/>
<polygon points="311.6,1242.8 318.6,1247.2 318.6,1256.2 311.6,1260.8 304.6,1256.2 304.6,1247.2" fill="#ff00ff" stroke="#000" stroke-width="1.5" stroke-linejoin="miter"/>
<polygon points="319.2,1233.0 326.2,1237.5 326.2,1246.5 319.2,1251.0 312.2,1246.5 312.2,1237.5" fill="#ff00ff" stroke="#000" stroke-width="1.5" stroke-linejoin="miter"/>
<polygon points="326.8,1226.5 333.8,1231.0 333.8,1240.0 326.8,1244.5 319.8,1240.0 319.8,1231.0" fill="#ff00ff" stroke="#000" stroke-width="1.5" stroke-linejoin="miter"/>
<polygon points="334.6,1216.5 341.6,1221.0 341.6,1230.0 334.6,1234.5 327.6,1230.0 327.6,1221.0" fill="#ff00ff" stroke="#000" stroke-width="1.5" stroke-linejoin="miter"/>
<polygon points="342.5,1208.0 349.5,1212.5 349.5,1221.5 342.5,1226.0 335.5,1221.5 335.5,1212.5" fill="#ff00ff" stroke="#000" stroke-width="1.5" stroke-linejoin="miter"/>
<polygon points="350.5,1196.5 357.5,1201.0 357.5,1210.0 350.5,1214.5 343.5,1210.0 343.5,1201.0" fill="#ff00ff" stroke="#000" stroke-width="1.5" stroke-linejoin="miter"/>
<polygon points="358.6,1188.5 365.6,1193.0 365.6,1202.0 358.6,1206.5 351.6,1202.0 351.6,1193.0" fill="#ff00ff" stroke="#000" stroke-width="1.5" stroke-linejoin="miter"/>
<polygon points="366.8,1175.5 373.8,1180.0 373.8,1189.0 366.8,1193.5 359.8,1189.0 359.8,1180.0" fill="#ff00ff" stroke="#000" stroke-width="1.5" stroke-linejoin="miter"/>
<polygon points="375.1,1165.5 382.1,1170.0 382.1,1179.0 375.1,1183.5 368.1,1179.0 368.1,1170.0" fill="#ff00ff" stroke="#000" stroke-width="1.5" stroke-linejoin="miter"/>
<polygon points="383.5,1153.0 390.5,1157.5 390.5,1166.5 383.5,1171.0 376.5,1166.5 376.5,1157.5" fill="#ff00ff" stroke="#000" stroke-width="1.5" stroke-linejoin="miter"/>
<polygon points="392.0,1141.0 399.0,1145.5 399.0,1154.5 392.0,1159.0 385.0,1154.5 385.0,1145.5" fill="#ff00ff" stroke="#000" stroke-width="1.5" stroke-linejoin="miter"/>
<polygon points="400.7,1124.0 407.7,1128.5 407.7,1137.5 400.7,1142.0 393.7,1137.5 393.7,1128.5" fill="#ff00ff" stroke="#000" stroke-width="1.5" stroke-linejoin="miter"/>
<polygon points="409.4,1110.5 416.4,1115.0 416.4,1124.0 409.4,1128.5 402.4,1124.0 402.4,1115.0" fill="#ff00ff" stroke="#000" stroke-width="1.5" stroke-linejoin="miter"/>
<polygon points="418.3,1099.0 425.3,1103.5 425.3,1112.5 418.3,1117.0 411.3,1112.5 411.3,1103.5" fill="#ff00ff" stroke="#000" stroke-width="1.5" stroke-linejoin="miter"/>
<polygon points="427.3,1080.5 434.3,1085.0 434.3,1094.0 427.3,1098.5 420.3,1094.0 420.3,1085.0" fill="#ff00ff" stroke="#000" stroke-width="1.5" stroke-linejoin="miter"/>
<polygon points="436.4,1067.0 443.4,1071.5 443.4,1080.5 436.4,1085.0 429.4,1080.5 429.4,1071.5" fill="#ff00ff" stroke="#000" stroke-width="1.5" stroke-linejoin="miter"/>
<polygon points="445.7,1052.5 452.7,1057.0 452.7,1066.0 445.7,1070.5 438.7,1066.0 438.7,1057.0" fill="#ff00ff" stroke="#000" stroke-width="1.5" stroke-linejoin="miter"/>
<polygon points="455.1,1038.0 462.1,1042.5 462.1,1051.5 455.1,1056.0 448.1,1051.5 448.1,1042.5" fill="#ff00ff" stroke="#000" stroke-width="1.5" stroke-linejoin="miter"/>
<polygon points="464.6,1017.0 471.6,1021.5 471.6,1030.5 464.6,1035.0 457.6,1030.5 457.6,1021.5" fill="#ff00ff" stroke="#000" stroke-width="1.5" stroke-linejoin="miter"/>
<polygon points="474.2,998.0 481.2,1002.5 481.2,1011.5 474.2,1016.0 467.2,1011.5 467.2,1002.5" fill="#ff00ff" stroke="#000" stroke-width="1.5" stroke-linejoin="miter"/>
<polygon points="484.0,980.5 491.0,985.0 491.0,994.0 484.0,998.5 477.0,994.0 477.0,985.0" fill="#ff00ff" stroke="#000" stroke-width="1.5" stroke-linejoin="miter"/>
<polygon points="493.9,971.5 500.9,976.0 500.9,985.0 493.9,989.5 486.9,985.0 486.9,976.0" fill="#ff00ff" stroke="#000" stroke-width="1.5" stroke-linejoin="miter"/>
<polygon points="504.0,956.7 511.0,961.2 511.0,970.2 504.0,974.7 497.0,970.2 497.0,961.2" fill="#ff00ff" stroke="#000" stroke-width="1.5" stroke-linejoin="miter"/>
<polygon points="514.2,936.7 521.2,941.2 521.2,950.2 514.2,954.7 507.2,950.2 507.2,941.2" fill="#ff00ff" stroke="#000" stroke-width="1.5" stroke-linejoin="miter"/>
<polygon points="524.6,922.0 531.6,926.5 531.6,935.5 524.6,940.0 517.6,935.5 517.6,926.5" fill="#ff00ff" stroke="#000" stroke-width="1.5" stroke-linejoin="miter"/>
<polygon points="535.1,913.0 542.1,917.5 542.1,926.5 535.1,931.0 528.1,926.5 528.1,917.5" fill="#ff00ff" stroke="#000" stroke-width="1.5" stroke-linejoin="miter"/>
<polygon points="545.8,904.0 552.8,908.5 552.8,917.5 545.8,922.0 538.8,917.5 538.8,908.5" fill="#ff00ff" stroke="#000" stroke-width="1.5" stroke-linejoin="miter"/>
<polygon points="556.6,887.0 563.6,891.5 563.6,900.5 556.6,905.0 549.6,900.5 549.6,891.5" fill="#ff00ff" stroke="#000" stroke-width="1.5" stroke-linejoin="miter"/>
<polygon points="567.6,873.0 574.6,877.5 574.6,886.5 567.6,891.0 560.6,886.5 560.6,877.5" fill="#ff00ff" stroke="#000" stroke-width="1.5" stroke-linejoin="miter"/>
<polygon points="578.8,867.0 585.8,871.5 585.8,880.5 578.8,885.0 571.8,880.5 571.8,871.5" fill="#ff00ff" stroke="#000" stroke-width="1.5" stroke-linejoin="miter"/>
<polygon points="590.1,861.0 597.1,865.5 597.1,874.5 590.1,879.0 583.1,874.5 583.1,865.5" fill="#ff00ff" stroke="#000" stroke-width="1.5" stroke-linejoin="miter"/>
<polygon points="601.6,851.5 608.6,856.0 608.6,865.0 601.6,869.5 594.6,865.0 594.6,856.0" fill="#ff00ff" stroke="#000" stroke-width="1.5" stroke-linejoin="miter"/>
<polygon points="613.3,846.5 620.3,851.0 620.3,860.0 613.3,864.5 606.3,860.0 606.3,851.0" fill="#ff00ff" stroke="#000" stroke-width="1.5" stroke-linejoin="miter"/>
<polygon points="625.2,838.5 632.2,843.0 632.2,852.0 625.2,856.5 618.2,852.0 618.2,843.0" fill="#ff00ff" stroke="#000" stroke-width="1.5" stroke-linejoin="miter"/>
<polygon points="637.3,829.0 644.3,833.5 644.3,842.5 637.3,847.0 630.3,842.5 630.3,833.5" fill="#ff00ff" stroke="#000" stroke-width="1.5" stroke-linejoin="miter"/>
<polygon points="649.5,833.0 656.5,837.5 656.5,846.5 649.5,851.0 642.5,846.5 642.5,837.5" fill="#ff00ff" stroke="#000" stroke-width="1.5" stroke-linejoin="miter"/>
<polygon points="662.0,837.0 669.0,841.5 669.0,850.5 662.0,855.0 655.0,850.5 655.0,841.5" fill="#ff00ff" stroke="#000" stroke-width="1.5" stroke-linejoin="miter"/>
<polygon points="674.7,834.5 681.7,839.0 681.7,848.0 674.7,852.5 667.7,848.0 667.7,839.0" fill="#ff00ff" stroke="#000" stroke-width="1.5" stroke-linejoin="miter"/>
<polygon points="687.5,825.0 694.5,829.5 694.5,838.5 687.5,843.0 680.5,838.5 680.5,829.5" fill="#ff00ff" stroke="#000" stroke-width="1.5" stroke-linejoin="miter"/>
<polygon points="700.6,824.9 707.6,829.4 707.6,838.4 700.6,842.9 693.6,838.4 693.6,829.4" fill="#ff00ff" stroke="#000" stroke-width="1.5" stroke-linejoin="miter"/>
<polygon points="713.9,826.4 720.9,830.9 720.9,839.9 713.9,844.4 706.9,839.9 706.9,830.9" fill="#ff00ff" stroke="#000" stroke-width="1.5" stroke-linejoin="miter"/>
<polygon points="727.4,811.9 734.4,816.4 734.4,825.4 727.4,829.9 720.4,825.4 720.4,816.4" fill="#ff00ff" stroke="#000" stroke-width="1.5" stroke-linejoin="miter"/>
<polygon points="741.2,823.4 748.2,827.9 748.2,836.9 741.2,841.4 734.2,836.9 734.2,827.9" fill="#ff00ff" stroke="#000" stroke-width="1.5" stroke-linejoin="miter"/>
<polygon points="755.2,829.4 762.2,833.9 762.2,842.9 755.2,847.4 748.2,842.9 748.2,833.9" fill="#ff00ff" stroke="#000" stroke-width="1.5" stroke-linejoin="miter"/>
<polygon points="769.4,843.0 776.4,847.5 776.4,856.5 769.4,861.0 762.4,856.5 762.4,847.5" fill="#ff00ff" stroke="#000" stroke-width="1.5" stroke-linejoin="miter"/>
<polygon points="783.9,856.5 790.9,861.0 790.9,870.0 783.9,874.5 776.9,870.0 776.9,861.0" fill="#ff00ff" stroke="#000" stroke-width="1.5" stroke-linejoin="miter"/>
<polygon points="798.6,869.2 805.6,873.7 805.6,882.7 798.6,887.2 791.6,882.7 791.6,873.7" fill="#ff00ff" stroke="#000" stroke-width="1.5" stroke-linejoin="miter"/>
<polygon points="813.6,879.5 820.6,884.0 820.6,893.0 813.6,897.5 806.6,893.0 806.6,884.0" fill="#ff00ff" stroke="#000" stroke-width="1.5" stroke-linejoin="miter"/>
<polygon points="828.9,871.5 835.9,876.0 835.9,885.0 828.9,889.5 821.9,885.0 821.9,876.0" fill="#ff00ff" stroke="#000" stroke-width="1.5" stroke-linejoin="miter"/>
<polygon points="844.4,862.7 851.4,867.2 851.4,876.2 844.4,880.7 837.4,876.2 837.4,867.2" fill="#ff00ff" stroke="#000" stroke-width="1.5" stroke-linejoin="miter"/>
<polygon points="860.2,870.5 867.2,875.0 867.2,884.0 860.2,888.5 853.2,884.0 853.2,875.0" fill="#ff00ff" stroke="#000" stroke-width="1.5" stroke-linejoin="miter"/>
<polygon points="876.3,891.5 883.3,896.0 883.3,905.0 876.3,909.5 869.3,905.0 869.3,896.0" fill="#ff00ff" stroke="#000" stroke-width="1.5" stroke-linejoin="miter"/>
<polygon points="892.7,877.0 899.7,881.5 899.7,890.5 892.7,895.0 885.7,890.5 885.7,881.5" fill="#ff00ff" stroke="#000" stroke-width="1.5" stroke-linejoin="miter"/>
<polygon points="909.5,876.3 916.5,880.8 916.5,889.8 909.5,894.3 902.5,889.8 902.5,880.8" fill="#ff00ff" stroke="#000" stroke-width="1.5" stroke-linejoin="miter"/>
<polygon points="926.5,884.0 933.5,888.5 933.5,897.5 926.5,902.0 919.5,897.5 919.5,888.5" fill="#ff00ff" stroke="#000" stroke-width="1.5" stroke-linejoin="miter"/>
<polygon points="943.8,910.0 950.8,914.5 950.8,923.5 943.8,928.0 936.8,923.5 936.8,914.5" fill="#ff00ff" stroke="#000" stroke-width="1.5" stroke-linejoin="miter"/>
<polygon points="961.5,867.5 968.5,872.0 968.5,881.0 961.5,885.5 954.5,881.0 954.5,872.0" fill="#ff00ff" stroke="#000" stroke-width="1.5" stroke-linejoin="miter"/>
<rect x="606.0" y="1368.7" width="14.7" height="14.7" fill="#c0c0c0" stroke="#000" stroke-width="1.5"/>
<rect x="617.9" y="1315.0" width="14.7" height="14.7" fill="#c0c0c0" stroke="#000" stroke-width="1.5"/>
<rect x="629.9" y="1296.2" width="14.7" height="14.7" fill="#c0c0c0" stroke="#000" stroke-width="1.5"/>
<rect x="642.2" y="1272.7" width="14.7" height="14.7" fill="#c0c0c0" stroke="#000" stroke-width="1.5"/>
<rect x="654.6" y="1254.7" width="14.7" height="14.7" fill="#c0c0c0" stroke="#000" stroke-width="1.5"/>
<rect x="667.3" y="1238.2" width="14.7" height="14.7" fill="#c0c0c0" stroke="#000" stroke-width="1.5"/>
<rect x="680.2" y="1219.0" width="14.7" height="14.7" fill="#c0c0c0" stroke="#000" stroke-width="1.5"/>
<rect x="693.3" y="1203.0" width="14.7" height="14.7" fill="#c0c0c0" stroke="#000" stroke-width="1.5"/>
<rect x="706.6" y="1187.0" width="14.7" height="14.7" fill="#c0c0c0" stroke="#000" stroke-width="1.5"/>
<rect x="720.1" y="1167.0" width="14.7" height="14.7" fill="#c0c0c0" stroke="#000" stroke-width="1.5"/>
<rect x="733.8" y="1154.2" width="14.7" height="14.7" fill="#c0c0c0" stroke="#000" stroke-width="1.5"/>
<rect x="747.8" y="1141.4" width="14.7" height="14.7" fill="#c0c0c0" stroke="#000" stroke-width="1.5"/>
<rect x="762.1" y="1130.2" width="14.7" height="14.7" fill="#c0c0c0" stroke="#000" stroke-width="1.5"/>
<rect x="776.5" y="1117.4" width="14.7" height="14.7" fill="#c0c0c0" stroke="#000" stroke-width="1.5"/>
<rect x="791.3" y="1105.7" width="14.7" height="14.7" fill="#c0c0c0" stroke="#000" stroke-width="1.5"/>
<rect x="806.3" y="1090.7" width="14.7" height="14.7" fill="#c0c0c0" stroke="#000" stroke-width="1.5"/>
<rect x="821.5" y="1075.7" width="14.7" height="14.7" fill="#c0c0c0" stroke="#000" stroke-width="1.5"/>
<rect x="837.1" y="1046.7" width="14.7" height="14.7" fill="#c0c0c0" stroke="#000" stroke-width="1.5"/>
<rect x="852.9" y="1031.7" width="14.7" height="14.7" fill="#c0c0c0" stroke="#000" stroke-width="1.5"/>
<rect x="869.0" y="1023.1" width="14.7" height="14.7" fill="#c0c0c0" stroke="#000" stroke-width="1.5"/>
<rect x="885.4" y="998.6" width="14.7" height="14.7" fill="#c0c0c0" stroke="#000" stroke-width="1.5"/>
<rect x="902.1" y="978.1" width="14.7" height="14.7" fill="#c0c0c0" stroke="#000" stroke-width="1.5"/>
<rect x="919.1" y="966.6" width="14.7" height="14.7" fill="#c0c0c0" stroke="#000" stroke-width="1.5"/>
<rect x="936.5" y="951.6" width="14.7" height="14.7" fill="#c0c0c0" stroke="#000" stroke-width="1.5"/>
<rect x="954.2" y="925.6" width="14.7" height="14.7" fill="#c0c0c0" stroke="#000" stroke-width="1.5"/>
<polygon points="601.6,1331.5 609.8,1346.3 593.4,1346.3" fill="#800000" stroke="#000" stroke-width="1.5" stroke-linejoin="miter"/>
<polygon points="613.3,1310.7 621.5,1325.5 605.1,1325.5" fill="#800000" stroke="#000" stroke-width="1.5" stroke-linejoin="miter"/>
<polygon points="625.2,1291.5 633.4,1306.3 617.0,1306.3" fill="#800000" stroke="#000" stroke-width="1.5" stroke-linejoin="miter"/>
<polygon points="637.3,1272.3 645.5,1287.1 629.1,1287.1" fill="#800000" stroke="#000" stroke-width="1.5" stroke-linejoin="miter"/>
<polygon points="649.5,1254.3 657.7,1269.1 641.3,1269.1" fill="#800000" stroke="#000" stroke-width="1.5" stroke-linejoin="miter"/>
<polygon points="662.0,1240.7 670.2,1255.5 653.8,1255.5" fill="#800000" stroke="#000" stroke-width="1.5" stroke-linejoin="miter"/>
<polygon points="674.7,1225.5 682.9,1240.3 666.5,1240.3" fill="#800000" stroke="#000" stroke-width="1.5" stroke-linejoin="miter"/>
<polygon points="687.5,1208.7 695.7,1223.5 679.3,1223.5" fill="#800000" stroke="#000" stroke-width="1.5" stroke-linejoin="miter"/>
<polygon points="700.6,1192.7 708.8,1207.5 692.4,1207.5" fill="#800000" stroke="#000" stroke-width="1.5" stroke-linejoin="miter"/>
<polygon points="713.9,1175.9 722.1,1190.7 705.7,1190.7" fill="#800000" stroke="#000" stroke-width="1.5" stroke-linejoin="miter"/>
<polygon points="727.4,1154.3 735.6,1169.1 719.2,1169.1" fill="#800000" stroke="#000" stroke-width="1.5" stroke-linejoin="miter"/>
<polygon points="741.2,1142.3 749.4,1157.1 733.0,1157.1" fill="#800000" stroke="#000" stroke-width="1.5" stroke-linejoin="miter"/>
<polygon points="755.2,1129.5 763.4,1144.3 747.0,1144.3" fill="#800000" stroke="#000" stroke-width="1.5" stroke-linejoin="miter"/>
<polygon points="769.4,1116.7 777.6,1131.5 761.2,1131.5" fill="#800000" stroke="#000" stroke-width="1.5" stroke-linejoin="miter"/>
<polygon points="783.9,1102.6 792.1,1117.4 775.7,1117.4" fill="#800000" stroke="#000" stroke-width="1.5" stroke-linejoin="miter"/>
<polygon points="798.6,1096.6 806.8,1111.4 790.4,1111.4" fill="#800000" stroke="#000" stroke-width="1.5" stroke-linejoin="miter"/>
<polygon points="813.6,1083.6 821.8,1098.4 805.4,1098.4" fill="#800000" stroke="#000" stroke-width="1.5" stroke-linejoin="miter"/>
<polygon points="828.9,1065.6 837.1,1080.4 820.7,1080.4" fill="#800000" stroke="#000" stroke-width="1.5" stroke-linejoin="miter"/>
<polygon points="844.4,1037.6 852.6,1052.4 836.2,1052.4" fill="#800000" stroke="#000" stroke-width="1.5" stroke-linejoin="miter"/>
<polygon points="860.2,1028.6 868.4,1043.4 852.0,1043.4" fill="#800000" stroke="#000" stroke-width="1.5" stroke-linejoin="miter"/>
<polygon points="876.3,1022.6 884.5,1037.4 868.1,1037.4" fill="#800000" stroke="#000" stroke-width="1.5" stroke-linejoin="miter"/>
<polygon points="892.7,994.1 900.9,1008.9 884.5,1008.9" fill="#800000" stroke="#000" stroke-width="1.5" stroke-linejoin="miter"/>
<polygon points="909.5,980.6 917.7,995.4 901.3,995.4" fill="#800000" stroke="#000" stroke-width="1.5" stroke-linejoin="miter"/>
<polygon points="926.5,968.6 934.7,983.4 918.3,983.4" fill="#800000" stroke="#000" stroke-width="1.5" stroke-linejoin="miter"/>
<polygon points="943.8,951.1 952.0,965.9 935.6,965.9" fill="#800000" stroke="#000" stroke-width="1.5" stroke-linejoin="miter"/>
<polygon points="961.5,947.6 969.7,962.4 953.3,962.4" fill="#800000" stroke="#000" stroke-width="1.5" stroke-linejoin="miter"/>
<polygon points="545.8,1400.9 554.0,1386.1 537.6,1386.1" fill="#008000" stroke="#000" stroke-width="1.5" stroke-linejoin="miter"/>
<polygon points="556.6,1374.4 564.8,1359.6 548.4,1359.6" fill="#008000" stroke="#000" stroke-width="1.5" stroke-linejoin="miter"/>
<polygon points="567.6,1352.2 575.8,1337.4 559.4,1337.4" fill="#008000" stroke="#000" stroke-width="1.5" stroke-linejoin="miter"/>
<polygon points="578.8,1340.4 587.0,1325.6 570.6,1325.6" fill="#008000" stroke="#000" stroke-width="1.5" stroke-linejoin="miter"/>
<polygon points="590.1,1325.8 598.3,1311.0 581.9,1311.0" fill="#008000" stroke="#000" stroke-width="1.5" stroke-linejoin="miter"/>
<polygon points="601.6,1310.4 609.8,1295.6 593.4,1295.6" fill="#008000" stroke="#000" stroke-width="1.5" stroke-linejoin="miter"/>
<polygon points="613.3,1295.0 621.5,1280.2 605.1,1280.2" fill="#008000" stroke="#000" stroke-width="1.5" stroke-linejoin="miter"/>
<polygon points="625.2,1280.2 633.4,1265.4 617.0,1265.4" fill="#008000" stroke="#000" stroke-width="1.5" stroke-linejoin="miter"/>
<polygon points="637.3,1265.4 645.5,1250.6 629.1,1250.6" fill="#008000" stroke="#000" stroke-width="1.5" stroke-linejoin="miter"/>
<polygon points="649.5,1250.8 657.7,1236.0 641.3,1236.0" fill="#008000" stroke="#000" stroke-width="1.5" stroke-linejoin="miter"/>
<polygon points="662.0,1240.4 670.2,1225.6 653.8,1225.6" fill="#008000" stroke="#000" stroke-width="1.5" stroke-linejoin="miter"/>
<polygon points="674.7,1224.4 682.9,1209.6 666.5,1209.6" fill="#008000" stroke="#000" stroke-width="1.5" stroke-linejoin="miter"/>
<polygon points="687.5,1206.8 695.7,1192.0 679.3,1192.0" fill="#008000" stroke="#000" stroke-width="1.5" stroke-linejoin="miter"/>
<polygon points="700.6,1190.8 708.8,1176.0 692.4,1176.0" fill="#008000" stroke="#000" stroke-width="1.5" stroke-linejoin="miter"/>
<polygon points="713.9,1174.8 722.1,1160.0 705.7,1160.0" fill="#008000" stroke="#000" stroke-width="1.5" stroke-linejoin="miter"/>
<polygon points="727.4,1148.4 735.6,1133.6 719.2,1133.6" fill="#008000" stroke="#000" stroke-width="1.5" stroke-linejoin="miter"/>
<polygon points="741.2,1138.0 749.4,1123.2 733.0,1123.2" fill="#008000" stroke="#000" stroke-width="1.5" stroke-linejoin="miter"/>
<polygon points="755.2,1127.6 763.4,1112.8 747.0,1112.8" fill="#008000" stroke="#000" stroke-width="1.5" stroke-linejoin="miter"/>
<polygon points="769.4,1114.4 777.6,1099.6 761.2,1099.6" fill="#008000" stroke="#000" stroke-width="1.5" stroke-linejoin="miter"/>
<polygon points="783.9,1095.9 792.1,1081.1 775.7,1081.1" fill="#008000" stroke="#000" stroke-width="1.5" stroke-linejoin="miter"/>
<polygon points="798.6,1084.4 806.8,1069.6 790.4,1069.6" fill="#008000" stroke="#000" stroke-width="1.5" stroke-linejoin="miter"/>
<polygon points="813.6,1068.4 821.8,1053.6 805.4,1053.6" fill="#008000" stroke="#000" stroke-width="1.5" stroke-linejoin="miter"/>
<polygon points="828.9,1049.2 837.1,1034.4 820.7,1034.4" fill="#008000" stroke="#000" stroke-width="1.5" stroke-linejoin="miter"/>
<polygon points="844.4,1017.0 852.6,1002.2 836.2,1002.2" fill="#008000" stroke="#000" stroke-width="1.5" stroke-linejoin="miter"/>
<polygon points="860.2,1001.4 868.4,986.6 852.0,986.6" fill="#008000" stroke="#000" stroke-width="1.5" stroke-linejoin="miter"/>
<polygon points="876.3,991.4 884.5,976.6 868.1,976.6" fill="#008000" stroke="#000" stroke-width="1.5" stroke-linejoin="miter"/>
<polygon points="892.7,974.1 900.9,959.3 884.5,959.3" fill="#008000" stroke="#000" stroke-width="1.5" stroke-linejoin="miter"/>
<polygon points="909.5,956.4 917.7,941.6 901.3,941.6" fill="#008000" stroke="#000" stroke-width="1.5" stroke-linejoin="miter"/>
<polygon points="926.5,942.9 934.7,928.1 918.3,928.1" fill="#008000" stroke="#000" stroke-width="1.5" stroke-linejoin="miter"/>
<polygon points="943.8,923.4 952.0,908.6 935.6,908.6" fill="#008000" stroke="#000" stroke-width="1.5" stroke-linejoin="miter"/>
<polygon points="961.5,908.4 969.7,893.6 953.3,893.6" fill="#008000" stroke="#000" stroke-width="1.5" stroke-linejoin="miter"/>
</g>
<line x1="223.50" y1="1412.50" x2="569.00" y2="859.00" stroke="#000" stroke-width="1.5"/>
<line x1="497.20" y1="1418.00" x2="925.50" y2="923.00" stroke="#000" stroke-width="1.5"/>
<line x1="534.00" y1="1415.20" x2="970.00" y2="927.00" stroke="#000" stroke-width="1.5"/>
<line x1="311.25" y1="1151.25" x2="353.00" y2="1180.00" stroke="#000" stroke-width="1.5"/>
<line x1="311.25" y1="1151.25" x2="356.00" y2="1206.00" stroke="#000" stroke-width="1.5"/>
<line x1="311.25" y1="1151.25" x2="333.50" y2="1198.50" stroke="#000" stroke-width="1.5"/>
<line x1="403.75" y1="1261.25" x2="385.00" y2="1237.50" stroke="#000" stroke-width="1.5"/>
<line x1="660.40" y1="1103.50" x2="702.80" y2="1132.00" stroke="#000" stroke-width="1.5"/>
<line x1="660.40" y1="1103.50" x2="683.60" y2="1150.40" stroke="#000" stroke-width="1.5"/>
<line x1="660.40" y1="1103.50" x2="759.60" y2="1217.60" stroke="#000" stroke-width="1.5"/>
<ellipse cx="403.1" cy="307.5" rx="25.8" ry="163" fill="none" stroke="#000" stroke-width="4.6"/>
<ellipse cx="762.5" cy="185" rx="20.3" ry="80.5" fill="none" stroke="#0000ff" stroke-width="5.1"/>
<ellipse cx="440.5" cy="1056" rx="26.1" ry="163.3" fill="none" stroke="#000" stroke-width="4.7"/>
<ellipse cx="821.9" cy="1060.6" rx="25.4" ry="80.8" fill="none" stroke="#0000ff" stroke-width="5.1"/>
<g transform="translate(0,0)">
<text transform="translate(66.20,34.70) scale(0.89,1)" font-size="45" text-anchor="start" font-weight="normal" fill="#000" >10</text>
<text transform="translate(108.50,19.70) scale(0.89,1)" font-size="30" text-anchor="start" font-weight="normal" fill="#000" >-5</text>
</g>
<g transform="translate(0,0)">
<text transform="translate(66.20,160.24) scale(0.89,1)" font-size="45" text-anchor="start" font-weight="normal" fill="#000" >10</text>
<text transform="translate(108.50,145.24) scale(0.89,1)" font-size="30" text-anchor="start" font-weight="normal" fill="#000" >-6</text>
</g>
<g transform="translate(0,0)">
<text transform="translate(66.20,285.78) scale(0.89,1)" font-size="45" text-anchor="start" font-weight="normal" fill="#000" >10</text>
<text transform="translate(108.50,270.78) scale(0.89,1)" font-size="30" text-anchor="start" font-weight="normal" fill="#000" >-7</text>
</g>
<g transform="translate(0,0)">
<text transform="translate(66.20,411.32) scale(0.89,1)" font-size="45" text-anchor="start" font-weight="normal" fill="#000" >10</text>
<text transform="translate(108.50,396.32) scale(0.89,1)" font-size="30" text-anchor="start" font-weight="normal" fill="#000" >-8</text>
</g>
<g transform="translate(0,0)">
<text transform="translate(66.20,536.86) scale(0.89,1)" font-size="45" text-anchor="start" font-weight="normal" fill="#000" >10</text>
<text transform="translate(108.50,521.86) scale(0.89,1)" font-size="30" text-anchor="start" font-weight="normal" fill="#000" >-9</text>
</g>
<g transform="translate(0,0)">
<text transform="translate(66.20,662.40) scale(0.89,1)" font-size="45" text-anchor="start" font-weight="normal" fill="#000" >10</text>
<text transform="translate(108.50,647.40) scale(0.89,1)" font-size="30" text-anchor="start" font-weight="normal" fill="#000" >-10</text>
</g>
<text transform="translate(164.80,705.00) scale(0.89,1)" font-size="45" text-anchor="middle" font-weight="normal" fill="#000" >3.0</text>
<text transform="translate(300.10,705.00) scale(0.89,1)" font-size="45" text-anchor="middle" font-weight="normal" fill="#000" >3.5</text>
<text transform="translate(435.40,705.00) scale(0.89,1)" font-size="45" text-anchor="middle" font-weight="normal" fill="#000" >4.0</text>
<text transform="translate(570.70,705.00) scale(0.89,1)" font-size="45" text-anchor="middle" font-weight="normal" fill="#000" >4.5</text>
<text transform="translate(706.00,705.00) scale(0.89,1)" font-size="45" text-anchor="middle" font-weight="normal" fill="#000" >5.0</text>
<text transform="translate(841.30,705.00) scale(0.89,1)" font-size="45" text-anchor="middle" font-weight="normal" fill="#000" >5.5</text>
<text transform="translate(573.30,760.60) scale(0.884,1)" font-size="45" text-anchor="middle" font-weight="normal" fill="#000" >PHOTON ENERGY (eV)</text>
<text transform="translate(39.50,308.00) rotate(-90) scale(0.92,1)" font-size="45" text-anchor="middle" font-weight="normal" fill="#000" >YIELD (RELATIVE UNITS)</text>
<text transform="translate(146.00,801.00) scale(0.89,1)" font-size="45" text-anchor="end" font-weight="normal" fill="#000" >0.02</text>
<text transform="translate(146.00,1117.60) scale(0.89,1)" font-size="45" text-anchor="end" font-weight="normal" fill="#000" >0.01</text>
<text transform="translate(146.00,1434.20) scale(0.89,1)" font-size="45" text-anchor="end" font-weight="normal" fill="#000" >0.00</text>
<text transform="translate(194.75,1476.00) scale(0.89,1)" font-size="45" text-anchor="middle" font-weight="normal" fill="#000" >3.5</text>
<text transform="translate(350.50,1476.00) scale(0.89,1)" font-size="45" text-anchor="middle" font-weight="normal" fill="#000" >4.0</text>
<text transform="translate(506.25,1476.00) scale(0.89,1)" font-size="45" text-anchor="middle" font-weight="normal" fill="#000" >4.5</text>
<text transform="translate(662.00,1476.00) scale(0.89,1)" font-size="45" text-anchor="middle" font-weight="normal" fill="#000" >5.0</text>
<text transform="translate(817.75,1476.00) scale(0.89,1)" font-size="45" text-anchor="middle" font-weight="normal" fill="#000" >5.5</text>
<text transform="translate(973.50,1476.00) scale(0.89,1)" font-size="45" text-anchor="middle" font-weight="normal" fill="#000" >6.0</text>
<text transform="translate(577.00,1552.00) scale(0.881,1)" font-size="45" text-anchor="middle" font-weight="normal" fill="#000" >PHOTON ENERGY (eV)</text>
<text transform="translate(46,1307.5) rotate(-90) scale(0.92,1)" font-size="45">Y<tspan font-size="39" dy="-19">1/3</tspan><tspan dy="19" dx="-5"> (RELATIVE UNITS)</tspan></text>
<text transform="translate(263.50,141.80) scale(0.89,1)" font-size="45" text-anchor="start" font-weight="normal" fill="#000" >no transfer</text>
<text transform="translate(201.40,368.40) scale(0.89,1)" font-size="45" text-anchor="start" font-weight="normal" fill="#000" >-40 V</text>
<text transform="translate(344.70,563.00) scale(0.89,1)" font-size="45" text-anchor="start" font-weight="normal" fill="#000" >-5 V</text>
<text transform="translate(555.50,313.20) scale(0.885,1)" font-size="45" text-anchor="start" font-weight="normal" fill="#000" >-50 V</text>
<text transform="translate(708.00,328.00) scale(0.882,1)" font-size="45" text-anchor="start" font-weight="normal" fill="#0000ff" >after transfer</text>
<text transform="translate(682.50,461.00) scale(0.89,1)" font-size="45" text-anchor="start" font-weight="normal" fill="#000" >-5 V</text>
<text transform="translate(381.0,618.4) scale(0.88,1)" font-size="38.5">(100)Si/SiO<tspan dy="12.8">2</tspan><tspan dy="-12.8">(50 nm)/MoS</tspan><tspan dy="12.8">2</tspan><tspan dy="-12.8">(2 ML)</tspan></text>
<text transform="translate(899.30,625.00) scale(0.91,1)" font-size="57" text-anchor="start" font-weight="bold" fill="#000" >(a)</text>
<text transform="translate(337.30,884.80) scale(0.89,1)" font-size="45" text-anchor="start" font-weight="normal" fill="#000" >no transfer</text>
<text transform="translate(244.20,1138.75) scale(0.89,1)" font-size="45" text-anchor="start" font-weight="normal" fill="#000" >-40 V</text>
<text transform="translate(378.30,1323.75) scale(0.89,1)" font-size="45" text-anchor="start" font-weight="normal" fill="#000" >-5 V</text>
<text transform="translate(630.30,1069.60) scale(0.89,1)" font-size="45" text-anchor="start" font-weight="normal" fill="#000" >-50 V</text>
<text transform="translate(747.00,1202.50) scale(0.893,1)" font-size="45" text-anchor="start" font-weight="normal" fill="#0000ff" >after transfer</text>
<text transform="translate(741.00,1273.00) scale(0.89,1)" font-size="45" text-anchor="start" font-weight="normal" fill="#000" >-5 V</text>
<text transform="translate(886.20,1388.00) scale(0.91,1)" font-size="57" text-anchor="start" font-weight="bold" fill="#000" >(b)</text>
</svg></body></html>
